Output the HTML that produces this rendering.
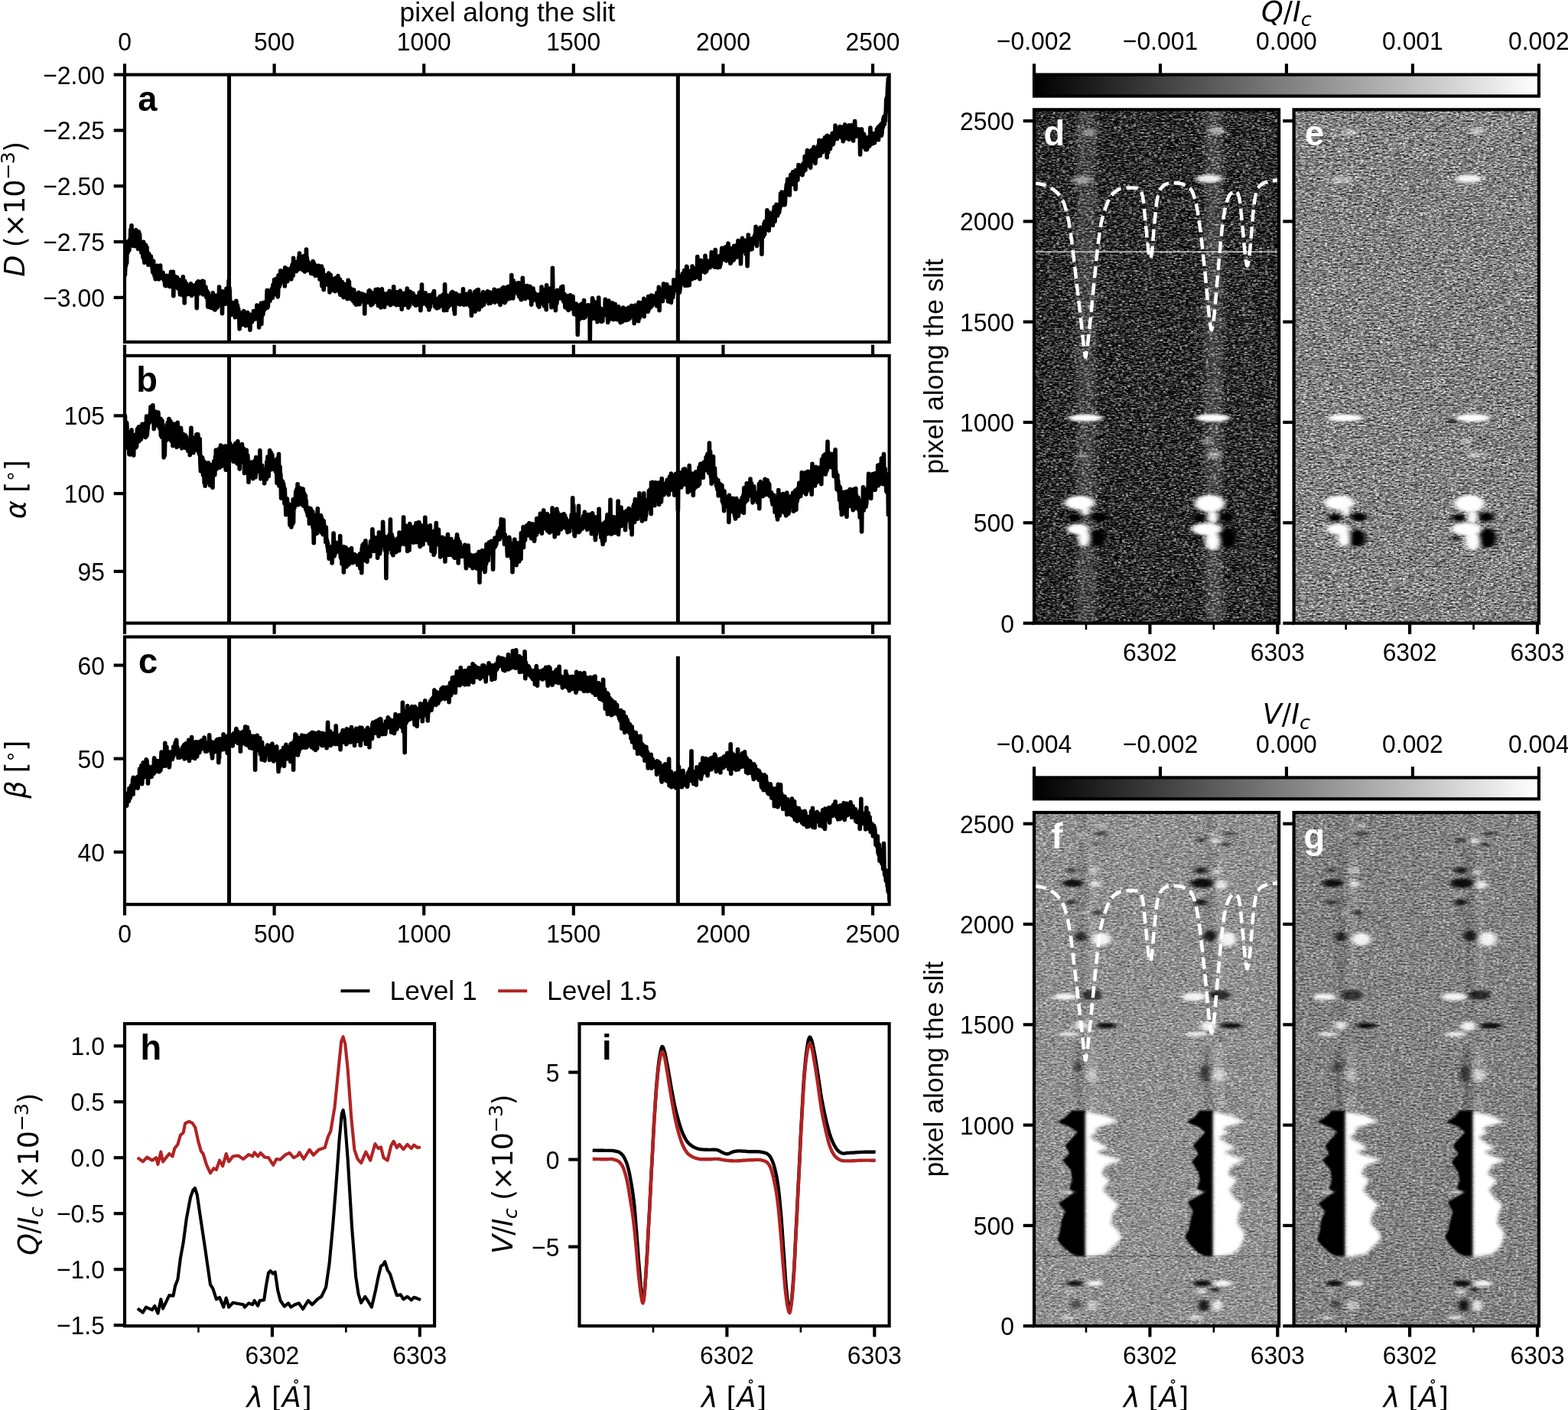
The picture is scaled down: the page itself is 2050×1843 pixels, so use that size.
<!DOCTYPE html>
<html lang="en"><head><meta charset="utf-8"><title>Figure</title>
<style>html,body{margin:0;padding:0;background:#fff}svg{display:block}</style></head>
<body>
<svg width="2050" height="1843" viewBox="0 0 2050 1843">
<rect width="2050" height="1843" fill="#fff"/>
<defs>
<linearGradient id="gg" x1="0" x2="1" y1="0" y2="0"><stop offset="0" stop-color="#000"/><stop offset="1" stop-color="#fff"/></linearGradient>
<filter id="nd" x="0" y="0" width="100%" height="100%" filterUnits="objectBoundingBox" color-interpolation-filters="sRGB"><feTurbulence type="fractalNoise" baseFrequency="0.4 0.45" numOctaves="2" seed="3"/><feMorphology operator="dilate" radius="1 0"/><feColorMatrix type="matrix" values="1.68 0 0 0 -0.722  1.68 0 0 0 -0.722  1.68 0 0 0 -0.722  0 0 0 0 1"/></filter>
<filter id="ne" x="0" y="0" width="100%" height="100%" filterUnits="objectBoundingBox" color-interpolation-filters="sRGB"><feTurbulence type="fractalNoise" baseFrequency="0.4 0.45" numOctaves="2" seed="11"/><feMorphology operator="dilate" radius="1 0"/><feColorMatrix type="matrix" values="1.523 0 0 0 -0.301  1.523 0 0 0 -0.301  1.523 0 0 0 -0.301  0 0 0 0 1"/></filter>
<filter id="nf" x="0" y="0" width="100%" height="100%" filterUnits="objectBoundingBox" color-interpolation-filters="sRGB"><feTurbulence type="fractalNoise" baseFrequency="0.4 0.45" numOctaves="2" seed="5"/><feMorphology operator="dilate" radius="1 0"/><feColorMatrix type="matrix" values="0.977 0 0 0 0.04  0.977 0 0 0 0.04  0.977 0 0 0 0.04  0 0 0 0 1"/></filter>
<filter id="ng" x="0" y="0" width="100%" height="100%" filterUnits="objectBoundingBox" color-interpolation-filters="sRGB"><feTurbulence type="fractalNoise" baseFrequency="0.4 0.45" numOctaves="2" seed="23"/><feMorphology operator="dilate" radius="1 0"/><feColorMatrix type="matrix" values="0.977 0 0 0 -0.015  0.977 0 0 0 -0.015  0.977 0 0 0 -0.015  0 0 0 0 1"/></filter>
<filter id="b1" x="-20%" y="-20%" width="140%" height="140%"><feGaussianBlur stdDeviation="1.2"/></filter>
<filter id="bb" x="-20%" y="-20%" width="140%" height="140%"><feGaussianBlur stdDeviation="3.2 1.8"/></filter>
<filter id="b2" x="-50%" y="-50%" width="200%" height="200%"><feGaussianBlur stdDeviation="2"/></filter>
<filter id="b3" x="-50%" y="-50%" width="200%" height="200%"><feGaussianBlur stdDeviation="3.5"/></filter>
<filter id="b6" x="-50%" y="-50%" width="200%" height="200%"><feGaussianBlur stdDeviation="6"/></filter>
</defs>
<clipPath id="cpa"><rect x="163.0" y="97.6" width="999.6400000000001" height="349.46000000000004"/></clipPath>
<g clip-path="url(#cpa)">
<path d="M163 346.1L163.4 359.1L163.8 349.4L164.2 344L164.6 347.5L165 339.6L165.3 336.6L165.7 343.5L166.1 316.4L166.5 324.6L166.9 330.7L167.3 326.5L167.7 320.7L168.1 323.5L168.5 321.9L168.9 327.2L169.3 313.9L169.7 314.8L170 312L170.4 320.7L170.8 300.4L171.2 307.7L171.6 309.2L172 294.9L172.4 307.4L172.8 316.2L173.2 310.4L173.6 321.1L174 301.8L174.3 310.7L174.7 312.7L175.1 302.6L175.5 319.1L175.9 306.8L176.3 321.7L176.7 314.1L177.1 317.4L177.5 302.3L177.9 300.7L178.3 313L178.6 307L179 313.3L179.4 309.3L179.8 317.4L180.2 323.6L180.6 325.4L181 313.3L181.4 303L181.8 314.8L182.2 320.1L182.6 306.2L183 317.1L183.3 318.2L183.7 318.2L184.1 321L184.5 322.7L184.9 330.2L185.3 319.6L185.7 323.6L186.1 316.8L186.5 326.5L186.9 336.2L187.3 325.8L187.6 316.2L188 328.9L188.4 339.2L188.8 343.2L189.2 334L189.6 329.7L190 335.2L190.4 320.2L190.8 333.3L191.2 329.6L191.6 322.7L192 323.1L192.3 335.6L192.7 331.3L193.1 330.1L193.5 336.4L193.9 346.1L194.3 332.1L194.7 331.8L195.1 335.3L195.5 343.8L195.9 340.6L196.3 344L196.6 343.4L197 335.3L197.4 335.2L197.8 341.6L198.2 343.6L198.6 344.6L199 349.9L199.4 351.5L199.8 356.1L200.2 354L200.6 341.4L200.9 349.9L201.3 356.4L201.7 357.9L202.1 360.9L202.5 354.1L202.9 354.1L203.3 364.8L203.7 353.9L204.1 360.3L204.5 348.9L204.9 356.6L205.3 347.2L205.6 360.8L206 359.8L206.4 356.2L206.8 351.8L207.2 354.6L207.6 365L208 357L208.4 357.2L208.8 359.3L209.2 360.8L209.6 347.1L209.9 360.2L210.3 363.2L210.7 354.8L211.1 358.2L211.5 360L211.9 355.7L212.3 357.4L212.7 359.3L213.1 356.3L213.5 360.5L213.9 365.7L214.2 364.7L214.6 365.6L215 361.6L215.4 369.3L215.8 373.2L216.2 362.2L216.6 370.2L217 373.8L217.4 360.6L217.8 367L218.2 360.3L218.6 366.7L218.9 370L219.3 370.6L219.7 367.1L220.1 365.6L220.5 369.3L220.9 365.9L221.3 373.2L221.7 364.2L222.1 374.7L222.5 365.8L222.9 360.7L223.2 358.7L223.6 355.2L224 374L224.4 360.5L224.8 357.9L225.2 359.2L225.6 371.4L226 363.9L226.4 355.3L226.8 386.8L227.2 364L227.6 360.6L227.9 371.2L228.3 363.6L228.7 373.2L229.1 371.7L229.5 371.8L229.9 365.9L230.3 367.6L230.7 362L231.1 373.1L231.5 368.7L231.9 362.7L232.2 365.4L232.6 376.9L233 366.2L233.4 373.4L233.8 369.3L234.2 370.4L234.6 365.8L235 372.9L235.4 385L235.8 382.8L236.2 371L236.5 376.9L236.9 368.8L237.3 373.4L237.7 379.5L238.1 368.8L238.5 379.5L238.9 385.8L239.3 361.8L239.7 384.2L240.1 369.5L240.5 368.1L240.9 372.8L241.2 396L241.6 367.3L242 381.6L242.4 380.9L242.8 375.8L243.2 370.1L243.6 373.8L244 371.7L244.4 379.6L244.8 378.5L245.2 384.6L245.5 380.3L245.9 375.5L246.3 381.6L246.7 377.4L247.1 383.3L247.5 384.3L247.9 380.7L248.3 382.1L248.7 377.5L249.1 380.3L249.5 370.7L249.9 381.9L250.2 381.8L250.6 386.5L251 380.2L251.4 376.3L251.8 385L252.2 381.3L252.6 376.7L253 381.2L253.4 383.4L253.8 373.9L254.2 378.3L254.5 377.5L254.9 372.5L255.3 372.5L255.7 383.4L256.1 381.7L256.5 376.3L256.9 378.2L257.3 402.7L257.7 369.4L258.1 376.4L258.5 371.9L258.8 382.9L259.2 367.9L259.6 378.8L260 375.6L260.4 383.8L260.8 376.4L261.2 376.1L261.6 375.7L262 371.9L262.4 373.8L262.8 368.3L263.2 377L263.5 380.4L263.9 374.5L264.3 370.8L264.7 367.3L265.1 369.8L265.5 384.9L265.9 372.6L266.3 367.8L266.7 377.1L267.1 381.2L267.5 377.5L267.8 383.6L268.2 378L268.6 382.5L269 375.1L269.4 381L269.8 388.7L270.2 381.3L270.6 380.1L271 389.6L271.4 389.3L271.8 401L272.2 382.9L272.5 392.1L272.9 401.3L273.3 400L273.7 391.9L274.1 386.9L274.5 392.4L274.9 389.9L275.3 399.8L275.7 402.2L276.1 390.4L276.5 393.5L276.8 396.7L277.2 389.4L277.6 402.2L278 399.2L278.4 382.8L278.8 385.7L279.2 396.3L279.6 386.5L280 404.1L280.4 393.8L280.8 396.7L281.1 405L281.5 394.1L281.9 389.7L282.3 395.6L282.7 395.4L283.1 386.2L283.5 401.3L283.9 402L284.3 397.2L284.7 400.5L285.1 385.8L285.5 391.7L285.8 398L286.2 395.7L286.6 375L287 394.6L287.4 394.7L287.8 387.9L288.2 385.7L288.6 387.8L289 394.4L289.4 395.1L289.8 384.8L290.1 388.6L290.5 409.7L290.9 380.9L291.3 382.9L291.7 388.9L292.1 388.9L292.5 387.1L292.9 392.8L293.3 397.1L293.7 387.3L294.1 397.2L294.4 386.4L294.8 397.3L295.2 389.3L295.6 388.6L296 377.4L296.4 393.7L296.8 394.8L297.2 390.7L297.6 393.8L298 391.2L298.4 385.8L298.8 384.4L299.1 367L299.5 394.7L299.9 376L300.3 381.3L300.7 395.4L301.1 408.4L301.5 396.2L301.9 396.1L302.3 411.5L302.7 398.6L303.1 400.5L303.4 404.9L303.8 397L304.2 395.5L304.6 404.3L305 400.5L305.4 405.6L305.8 406.2L306.2 401.3L306.6 398.7L307 405.1L307.4 414.8L307.8 398.8L308.1 411.8L308.5 402.1L308.9 393.3L309.3 404L309.7 411.8L310.1 413.9L310.5 399L310.9 406.9L311.3 405.1L311.7 403.5L312.1 410.6L312.4 413L312.8 416.9L313.2 429.9L313.6 421.5L314 413.5L314.4 414.8L314.8 411.4L315.2 414.3L315.6 411.4L316 409.1L316.4 419.1L316.7 416L317.1 424.3L317.5 409.3L317.9 415L318.3 412.6L318.7 406.6L319.1 409.4L319.5 416.3L319.9 411.3L320.3 424.2L320.7 413.3L321.1 414.9L321.4 425.8L321.8 408.6L322.2 420.6L322.6 412.7L323 419L323.4 410.6L323.8 408.6L324.2 421L324.6 425.2L325 417.1L325.4 411L325.7 417.9L326.1 419L326.5 412.4L326.9 431.1L327.3 418.2L327.7 421.7L328.1 411.2L328.5 416.8L328.9 418.7L329.3 414.2L329.7 420.6L330.1 412.1L330.4 415.7L330.8 414L331.2 415.7L331.6 406.5L332 412.8L332.4 409.4L332.8 409.8L333.2 417.2L333.6 409.3L334 410.9L334.4 410.7L334.7 414.8L335.1 415.2L335.5 407.7L335.9 399.1L336.3 416.6L336.7 408.4L337.1 414.2L337.5 407.5L337.9 409.7L338.3 405.5L338.7 427.9L339 414L339.4 415.6L339.8 409.8L340.2 412.8L340.6 412L341 404.2L341.4 396.2L341.8 423.3L342.2 408.4L342.6 404.2L343 405.3L343.4 406.8L343.7 411.5L344.1 408.3L344.5 398.3L344.9 395.6L345.3 400.4L345.7 405.3L346.1 399.1L346.5 400.2L346.9 394.7L347.3 396.5L347.7 400.4L348 395.7L348.4 402.7L348.8 390.8L349.2 379.5L349.6 402.1L350 392.4L350.4 400.2L350.8 379.8L351.2 387.7L351.6 393.9L352 386.3L352.4 393.2L352.7 393.7L353.1 392.6L353.5 389.7L353.9 389.4L354.3 385.5L354.7 388.9L355.1 380L355.5 377.4L355.9 385.3L356.3 389.3L356.7 375.7L357 372.1L357.4 379.8L357.8 384.4L358.2 374.2L358.6 365.6L359 384.9L359.4 370.5L359.8 374.5L360.2 377.1L360.6 369.3L361 379.5L361.3 370L361.7 364.1L362.1 370.4L362.5 376.2L362.9 381.2L363.3 387.9L363.7 380.8L364.1 359.8L364.5 369.6L364.9 373.7L365.3 374.6L365.7 372.5L366 366.8L366.4 371.3L366.8 353.7L367.2 368.1L367.6 368L368 360.9L368.4 354.2L368.8 354.9L369.2 365.2L369.6 358.7L370 360.4L370.3 358.3L370.7 359.7L371.1 366.5L371.5 367.4L371.9 358.1L372.3 374L372.7 349.9L373.1 357.1L373.5 362.8L373.9 358L374.3 359.2L374.7 357.7L375 351.2L375.4 365.4L375.8 367.8L376.2 355.1L376.6 358.5L377 356.2L377.4 354.9L377.8 359.7L378.2 352.7L378.6 362L379 356.2L379.3 360.8L379.7 361.7L380.1 350.8L380.5 350.3L380.9 364.9L381.3 359.7L381.7 348.9L382.1 345.8L382.5 356.2L382.9 353.1L383.3 359.9L383.6 337.3L384 349L384.4 346.5L384.8 342.9L385.2 346.5L385.6 348.3L386 353.4L386.4 347L386.8 350.5L387.2 343.5L387.6 354.6L388 353.1L388.3 345.5L388.7 342.1L389.1 347.8L389.5 352.7L389.9 348.5L390.3 350.5L390.7 336.3L391.1 342.5L391.5 331L391.9 346.2L392.3 351.1L392.6 341.3L393 338.6L393.4 345L393.8 347.9L394.2 341.8L394.6 350L395 343.3L395.4 351.7L395.8 353.1L396.2 343.8L396.6 344.8L396.9 334.8L397.3 346.8L397.7 344.3L398.1 350.7L398.5 355.1L398.9 354.7L399.3 341.6L399.7 351.4L400.1 338.1L400.5 326L400.9 346.9L401.3 336.4L401.6 343.8L402 340.5L402.4 348.9L402.8 342L403.2 353.4L403.6 344.7L404 351.4L404.4 349.7L404.8 345.1L405.2 348.1L405.6 349.5L405.9 345L406.3 344.6L406.7 357.5L407.1 346.6L407.5 346L407.9 354.4L408.3 347.7L408.7 357.7L409.1 341.5L409.5 351.5L409.9 351.1L410.3 343.5L410.6 352.8L411 347.6L411.4 357.6L411.8 354.9L412.2 360.4L412.6 353.6L413 347L413.4 352.2L413.8 348.9L414.2 360L414.6 359.6L414.9 357.7L415.3 352L415.7 353.4L416.1 355.8L416.5 347.4L416.9 357L417.3 356.3L417.7 349L418.1 365.2L418.5 356.6L418.9 348.9L419.2 358.1L419.6 355L420 363L420.4 348L420.8 373.7L421.2 367.2L421.6 367L422 351.8L422.4 359.5L422.8 363L423.2 378.8L423.6 359.5L423.9 360.7L424.3 365.1L424.7 369.5L425.1 367.5L425.5 360L425.9 359.7L426.3 361.1L426.7 362.4L427.1 371.9L427.5 361.4L427.9 368L428.2 361.7L428.6 359.4L429 366.6L429.4 368.6L429.8 357L430.2 361.2L430.6 367.7L431 382L431.4 365.1L431.8 361.4L432.2 359.2L432.6 370.6L432.9 370.9L433.3 370.5L433.7 363.8L434.1 375.6L434.5 370L434.9 375L435.3 368.3L435.7 379.5L436.1 368.7L436.5 373.6L436.9 372L437.2 367.5L437.6 364.1L438 380.6L438.4 365.1L438.8 368L439.2 372.9L439.6 363.1L440 370.6L440.4 364.5L440.8 376.1L441.2 377.7L441.5 365.8L441.9 360.6L442.3 369.3L442.7 368.1L443.1 376.2L443.5 381.4L443.9 375.2L444.3 365L444.7 384.8L445.1 377.2L445.5 385.5L445.9 374.3L446.2 370.5L446.6 383.2L447 378.7L447.4 368.5L447.8 377.2L448.2 384L448.6 384.5L449 388.6L449.4 372.6L449.8 387.6L450.2 371.3L450.5 371.9L450.9 380.8L451.3 379.9L451.7 372.1L452.1 375.7L452.5 375.1L452.9 386.4L453.3 371.8L453.7 382L454.1 390.6L454.5 381.7L454.9 375.9L455.2 366.3L455.6 381.2L456 387.3L456.4 368.4L456.8 381L457.2 384.7L457.6 390.2L458 390.5L458.4 377L458.8 388L459.2 390.1L459.5 390.2L459.9 378.4L460.3 391.3L460.7 384.6L461.1 386.5L461.5 386.7L461.9 393.5L462.3 384.4L462.7 378.9L463.1 388.4L463.5 394L463.8 396.4L464.2 388.1L464.6 390.9L465 389.9L465.4 389.2L465.8 398.3L466.2 385.5L466.6 388.6L467 390L467.4 387.7L467.8 383.8L468.2 389.1L468.5 394L468.9 382.4L469.3 391.5L469.7 393.2L470.1 397.7L470.5 389.1L470.9 395.6L471.3 392.7L471.7 387.3L472.1 390L472.5 383.7L472.8 388.1L473.2 392.4L473.6 392.2L474 392.6L474.4 385.5L474.8 389.1L475.2 392.1L475.6 384.8L476 389.4L476.4 392.3L476.8 409.9L477.1 386.5L477.5 387.6L477.9 388.5L478.3 391L478.7 392.8L479.1 389.3L479.5 386.3L479.9 387.8L480.3 387.6L480.7 389.6L481.1 384.6L481.5 384.6L481.8 395.3L482.2 380.2L482.6 379.9L483 379.6L483.4 385.4L483.8 386.4L484.2 392.2L484.6 381.3L485 398.9L485.4 389.3L485.8 389.4L486.1 382.8L486.5 388.5L486.9 394.5L487.3 397.4L487.7 393.8L488.1 389.1L488.5 389.5L488.9 391.2L489.3 393.5L489.7 390.5L490.1 382.9L490.5 394.5L490.8 387.8L491.2 378.5L491.6 384.3L492 389.8L492.4 383.9L492.8 392.5L493.2 388.5L493.6 379.9L494 378.1L494.4 399.5L494.8 385.8L495.1 379L495.5 393.6L495.9 389.1L496.3 381.8L496.7 393.6L497.1 388.2L497.5 390.9L497.9 401.9L498.3 386.1L498.7 392L499.1 384.9L499.4 377.8L499.8 385.7L500.2 392L500.6 386.9L501 388L501.4 383.2L501.8 397.1L502.2 395.8L502.6 401.4L503 386.3L503.4 389.6L503.8 393.2L504.1 394.1L504.5 393.6L504.9 396.2L505.3 393.1L505.7 394.5L506.1 383.7L506.5 390.1L506.9 396.6L507.3 395.1L507.7 384.6L508.1 388.4L508.4 389.1L508.8 386L509.2 380.3L509.6 395.7L510 393.1L510.4 398.8L510.8 385.7L511.2 390.6L511.6 392.1L512 392.5L512.4 384.2L512.8 389.1L513.1 391.8L513.5 381.8L513.9 395.6L514.3 397L514.7 374.8L515.1 391.9L515.5 393L515.9 393.9L516.3 391L516.7 385L517.1 385.3L517.4 386.6L517.8 391.5L518.2 398.7L518.6 389.1L519 381.8L519.4 384.9L519.8 391.9L520.2 386.5L520.6 393.5L521 391.5L521.4 398.5L521.7 393.2L522.1 390.4L522.5 392.3L522.9 386.2L523.3 380.1L523.7 382.9L524.1 392.3L524.5 394.9L524.9 394.4L525.3 404.2L525.7 391.3L526.1 389.1L526.4 390.8L526.8 390.5L527.2 391.3L527.6 393.3L528 397.3L528.4 383.2L528.8 387.3L529.2 398.5L529.6 398.5L530 396.3L530.4 392.6L530.7 385.4L531.1 386.6L531.5 386.3L531.9 385.6L532.3 377L532.7 387.7L533.1 389.6L533.5 393.2L533.9 402.2L534.3 392.6L534.7 380.9L535.1 394.5L535.4 399.8L535.8 385.8L536.2 391L536.6 394L537 381.8L537.4 387L537.8 386.2L538.2 393.4L538.6 387.4L539 388L539.4 385.7L539.7 383.6L540.1 383.5L540.5 389.5L540.9 386.6L541.3 397.3L541.7 387L542.1 386.8L542.5 393.4L542.9 396.1L543.3 392.3L543.7 399.3L544 390.7L544.4 391.2L544.8 398.6L545.2 392.9L545.6 387.4L546 387.5L546.4 388.2L546.8 395.2L547.2 396.4L547.6 397.1L548 392.3L548.4 382.4L548.7 387.7L549.1 386.4L549.5 388L549.9 405.7L550.3 397.1L550.7 397.9L551.1 387.8L551.5 372L551.9 397.8L552.3 393.3L552.7 390L553 395.6L553.4 396.3L553.8 396.2L554.2 386.7L554.6 396.3L555 384.4L555.4 390.2L555.8 387.4L556.2 382.7L556.6 395.7L557 396.7L557.3 389.6L557.7 398.7L558.1 397.6L558.5 394.1L558.9 392.7L559.3 400.4L559.7 395.6L560.1 389.9L560.5 385.8L560.9 405L561.3 385.9L561.7 388.2L562 399.9L562.4 401.5L562.8 390.5L563.2 395.3L563.6 392.4L564 388.3L564.4 395.1L564.8 391.6L565.2 390L565.6 387.8L566 383.4L566.3 383.8L566.7 392.3L567.1 395.1L567.5 380.5L567.9 391.2L568.3 392.3L568.7 400.6L569.1 389.8L569.5 399.2L569.9 397.4L570.3 402.3L570.7 397.5L571 394.2L571.4 402.9L571.8 399.4L572.2 394.1L572.6 400.6L573 400.4L573.4 398.3L573.8 401.9L574.2 389.4L574.6 398.6L575 388.3L575.3 387.5L575.7 399.9L576.1 392L576.5 394.5L576.9 398.4L577.3 393.7L577.7 393.2L578.1 387.9L578.5 385.8L578.9 398.1L579.3 394L579.6 388.6L580 384.9L580.4 405.8L580.8 384.1L581.2 392.6L581.6 371.8L582 394.7L582.4 397.1L582.8 392L583.2 385.4L583.6 391.5L584 405.4L584.3 387.5L584.7 400.6L585.1 396.8L585.5 397.6L585.9 401.4L586.3 397.7L586.7 395.9L587.1 393.7L587.5 391L587.9 392.8L588.3 398.9L588.6 391.5L589 384.8L589.4 385.4L589.8 390.3L590.2 382.9L590.6 385.9L591 383.3L591.4 381.5L591.8 393.6L592.2 393.5L592.6 383.5L593 382.9L593.3 383L593.7 405.4L594.1 392.8L594.5 410.1L594.9 387.5L595.3 391.7L595.7 391.5L596.1 392.5L596.5 383.9L596.9 393.4L597.3 385.6L597.6 388.4L598 389.5L598.4 388.4L598.8 389.4L599.2 397.1L599.6 387L600 386.8L600.4 392.1L600.8 386.7L601.2 385.9L601.6 398L601.9 391.2L602.3 393.4L602.7 396.1L603.1 389.1L603.5 395.8L603.9 393.5L604.3 389.4L604.7 389L605.1 389L605.5 377.9L605.9 393.9L606.3 389.6L606.6 398.4L607 388.8L607.4 384.9L607.8 385L608.2 396L608.6 393.8L609 384.8L609.4 392.5L609.8 386.7L610.2 397.9L610.6 384.2L610.9 385.8L611.3 388.6L611.7 395.6L612.1 391.7L612.5 389.3L612.9 388.4L613.3 391.1L613.7 390.8L614.1 388.2L614.5 380.7L614.9 400.7L615.3 397.3L615.6 398.5L616 393.4L616.4 412.5L616.8 385.6L617.2 388L617.6 390.5L618 393.3L618.4 388.4L618.8 387.8L619.2 386.7L619.6 392.6L619.9 384.5L620.3 397.1L620.7 381.6L621.1 407.1L621.5 392.6L621.9 396.2L622.3 384.4L622.7 398.1L623.1 379.6L623.5 399.8L623.9 379.3L624.2 388.5L624.6 390.8L625 388.5L625.4 378.6L625.8 386.1L626.2 404.6L626.6 384.6L627 390.4L627.4 401L627.8 387.5L628.2 399.2L628.6 390.9L628.9 390.7L629.3 400.6L629.7 387.3L630.1 397.4L630.5 390.9L630.9 395.4L631.3 393.8L631.7 381.9L632.1 391.8L632.5 398.4L632.9 392.1L633.2 395.9L633.6 390.6L634 389.6L634.4 389.4L634.8 388.9L635.2 393L635.6 383.2L636 383L636.4 392.4L636.8 388.4L637.2 387.4L637.5 380.7L637.9 381.7L638.3 392.3L638.7 387.6L639.1 396.7L639.5 393.5L639.9 387.8L640.3 384.1L640.7 382.1L641.1 389.7L641.5 396.1L641.9 385.3L642.2 389.1L642.6 386L643 387.8L643.4 384.3L643.8 384.7L644.2 383.6L644.6 391.1L645 382.6L645.4 392L645.8 388.7L646.2 378.2L646.5 386.5L646.9 395.1L647.3 379.8L647.7 382.2L648.1 381.5L648.5 387.7L648.9 386.8L649.3 389.9L649.7 393.3L650.1 381.2L650.5 392.3L650.9 392.7L651.2 392.8L651.6 379.4L652 384.8L652.4 394.8L652.8 390.1L653.2 386.5L653.6 384.7L654 398.5L654.4 383.7L654.8 389.7L655.2 392.2L655.5 393.2L655.9 383.3L656.3 377.2L656.7 386.4L657.1 384.2L657.5 392.1L657.9 384.1L658.3 375.5L658.7 394.8L659.1 388.5L659.5 380.9L659.8 395.7L660.2 387.3L660.6 381.2L661 394L661.4 386.5L661.8 383.5L662.2 378.5L662.6 390.7L663 376.3L663.4 380.8L663.8 374.8L664.2 374.9L664.5 379.1L664.9 377.9L665.3 390.6L665.7 388.2L666.1 385.3L666.5 381.8L666.9 373.9L667.3 389.9L667.7 381.6L668.1 386.9L668.5 387.9L668.8 359.5L669.2 378.8L669.6 369.9L670 372.2L670.4 384.8L670.8 389.9L671.2 366.9L671.6 380.7L672 384.4L672.4 372.7L672.8 375.8L673.2 379.5L673.5 377.8L673.9 374.7L674.3 374.2L674.7 370.7L675.1 377.2L675.5 376.6L675.9 371.3L676.3 373.4L676.7 370.1L677.1 378.2L677.5 377.9L677.8 384.8L678.2 369.9L678.6 387.4L679 378.9L679.4 385.5L679.8 378.4L680.2 376.1L680.6 390.1L681 382.2L681.4 391.7L681.8 373.1L682.1 384.2L682.5 390.5L682.9 385.5L683.3 363.4L683.7 373.1L684.1 375L684.5 387L684.9 383.8L685.3 373.6L685.7 387.7L686.1 385.1L686.5 389.2L686.8 390.5L687.2 377L687.6 379.7L688 380.5L688.4 379.6L688.8 376.7L689.2 373.6L689.6 382.1L690 384.2L690.4 387.7L690.8 374.7L691.1 384L691.5 389.1L691.9 381.6L692.3 379.6L692.7 375.4L693.1 374.5L693.5 390.3L693.9 385.1L694.3 383.3L694.7 398.2L695.1 383.3L695.5 380.7L695.8 383.6L696.2 393.3L696.6 391.2L697 377L697.4 390.9L697.8 380.8L698.2 382.2L698.6 387.5L699 391.1L699.4 383.6L699.8 389.7L700.1 385.6L700.5 384.4L700.9 389.2L701.3 386.6L701.7 387.7L702.1 393.8L702.5 388.5L702.9 391.9L703.3 398.8L703.7 390.9L704.1 390.8L704.4 392.8L704.8 401.1L705.2 384.7L705.6 385.6L706 385.6L706.4 387.4L706.8 396.4L707.2 388L707.6 393.6L708 375L708.4 390.7L708.8 383.6L709.1 396.8L709.5 394.9L709.9 391.6L710.3 384.8L710.7 381.9L711.1 387.5L711.5 400L711.9 382.8L712.3 394.5L712.7 379.9L713.1 378.1L713.4 383.7L713.8 382.4L714.2 404.8L714.6 372.8L715 386.1L715.4 381.4L715.8 392L716.2 387.3L716.6 393.6L717 387.7L717.4 386.2L717.7 385.2L718.1 378.8L718.5 384.3L718.9 384.4L719.3 387.4L719.7 376.9L720.1 392.6L720.5 382.8L720.9 401.7L721.3 395.4L721.7 388.2L722.1 391.3L722.4 350.3L722.8 375.2L723.2 399.3L723.6 396.9L724 391.7L724.4 380.6L724.8 384.1L725.2 388.8L725.6 398.7L726 395.1L726.4 405.6L726.7 398.5L727.1 386.9L727.5 384.7L727.9 396.8L728.3 388.3L728.7 379.3L729.1 387.5L729.5 390.2L729.9 384.4L730.3 384.4L730.7 386.8L731.1 389.9L731.4 389L731.8 385.7L732.2 389.7L732.6 379.3L733 381.7L733.4 380.7L733.8 375.3L734.2 378.3L734.6 379.2L735 385.5L735.4 389L735.7 374.4L736.1 392.3L736.5 391.9L736.9 394.2L737.3 388.3L737.7 387.8L738.1 384.6L738.5 394.4L738.9 401.7L739.3 390.1L739.7 387L740 393.8L740.4 395.3L740.8 391.2L741.2 386.7L741.6 395.4L742 403.5L742.4 398.5L742.8 396L743.2 405.5L743.6 390.1L744 399.1L744.4 391.7L744.7 393.7L745.1 396.6L745.5 385.8L745.9 399L746.3 399.7L746.7 391.7L747.1 391.4L747.5 397L747.9 403.5L748.3 394.4L748.7 395.6L749 387.5L749.4 401.5L749.8 399.9L750.2 404.6L750.6 410.5L751 401.8L751.4 397.9L751.8 409.5L752.2 408.2L752.6 411.2L753 397L753.4 409L753.7 397.6L754.1 410.4L754.5 405.3L754.9 409.7L755.3 437.4L755.7 406.1L756.1 399.2L756.5 418.3L756.9 407.4L757.3 408.7L757.7 412.3L758 406.9L758.4 416.3L758.8 403.7L759.2 398.4L759.6 412.5L760 405.6L760.4 397.2L760.8 405L761.2 408.6L761.6 411.3L762 405.3L762.3 407.2L762.7 403.1L763.1 415.7L763.5 392.6L763.9 409.5L764.3 403.7L764.7 411.4L765.1 414.6L765.5 409.7L765.9 412L766.3 408.8L766.7 402.7L767 399.7L767.4 404.6L767.8 408.9L768.2 408L768.6 402L769 398.9L769.4 407.2L769.8 406.2L770.2 409.5L770.6 403.5L771 399.3L771.3 444.3L771.7 403.5L772.1 408.1L772.5 417.8L772.9 399.4L773.3 403.8L773.7 400.8L774.1 410.6L774.5 389.8L774.9 401.4L775.3 403.8L775.7 392.9L776 398.6L776.4 397.8L776.8 396.6L777.2 416.1L777.6 394.7L778 407.3L778.4 404.6L778.8 395.2L779.2 412.7L779.6 407.4L780 405.5L780.3 411.2L780.7 408.5L781.1 420.8L781.5 418.4L781.9 418L782.3 408.7L782.7 389L783.1 409.3L783.5 411.3L783.9 410.6L784.3 404.1L784.6 405.1L785 415.8L785.4 403L785.8 409.2L786.2 404.5L786.6 420.4L787 417.6L787.4 405.1L787.8 419.6L788.2 406.8L788.6 406.9L789 407.9L789.3 406.3L789.7 406.1L790.1 405.4L790.5 410.2L790.9 408.2L791.3 391.2L791.7 401.5L792.1 404.2L792.5 405.6L792.9 412.2L793.3 406.4L793.6 409.3L794 402.5L794.4 412.9L794.8 421.4L795.2 410.5L795.6 403.4L796 393L796.4 401.4L796.8 412.7L797.2 408.4L797.6 412.7L798 408.1L798.3 412.4L798.7 416.9L799.1 405L799.5 406.5L799.9 409.1L800.3 405.9L800.7 396.1L801.1 407.7L801.5 410.2L801.9 403.3L802.3 417.6L802.6 403.6L803 412.5L803.4 412.4L803.8 406.9L804.2 397.6L804.6 412L805 402.4L805.4 405.9L805.8 416.2L806.2 403.2L806.6 413.8L806.9 417.8L807.3 413.7L807.7 413.3L808.1 406L808.5 413.8L808.9 400.8L809.3 408.1L809.7 413.6L810.1 414.4L810.5 408.1L810.9 421L811.3 421.5L811.6 413.5L812 404.8L812.4 407.2L812.8 408.2L813.2 409.2L813.6 420.4L814 409.2L814.4 417.6L814.8 402L815.2 407.3L815.6 407.7L815.9 405.5L816.3 406.4L816.7 407.4L817.1 407.5L817.5 413.5L817.9 418.7L818.3 409.9L818.7 403.9L819.1 407.1L819.5 414.4L819.9 410.1L820.2 416.7L820.6 412.6L821 418.1L821.4 412.7L821.8 402L822.2 409.1L822.6 403.9L823 416.6L823.4 415L823.8 410.6L824.2 406.6L824.6 410L824.9 402.3L825.3 410.9L825.7 399.5L826.1 401.7L826.5 413.5L826.9 403.3L827.3 408L827.7 400.6L828.1 410L828.5 405.1L828.9 403.4L829.2 422.6L829.6 417.2L830 405.5L830.4 406.4L830.8 399.1L831.2 403.6L831.6 412.1L832 402.8L832.4 409.2L832.8 406.1L833.2 408.3L833.6 403.8L833.9 414.2L834.3 413.2L834.7 419.7L835.1 395.2L835.5 413.9L835.9 413.7L836.3 415.6L836.7 412.7L837.1 411.4L837.5 404.9L837.9 406L838.2 404.2L838.6 408.3L839 403.8L839.4 395.6L839.8 401.8L840.2 398.7L840.6 411.4L841 395.8L841.4 396.8L841.8 390.4L842.2 413.7L842.5 397L842.9 397.7L843.3 396.8L843.7 401.1L844.1 396.1L844.5 393.5L844.9 396.8L845.3 398.9L845.7 398.2L846.1 399.1L846.5 395.7L846.9 405.9L847.2 407.5L847.6 387.5L848 405.1L848.4 394.6L848.8 401.6L849.2 395.8L849.6 399.8L850 394L850.4 398.9L850.8 401.8L851.2 392.7L851.5 386.1L851.9 391.9L852.3 393.1L852.7 399.6L853.1 394.2L853.5 390.3L853.9 396.2L854.3 386.9L854.7 392.1L855.1 389.5L855.5 394L855.9 393.7L856.2 389.3L856.6 388.3L857 388.3L857.4 395.9L857.8 393.8L858.2 389.8L858.6 399.9L859 382.6L859.4 386.2L859.8 387.4L860.2 391.7L860.5 382.7L860.9 388.5L861.3 375.4L861.7 383.6L862.1 405.6L862.5 381.1L862.9 387.9L863.3 387.5L863.7 385.6L864.1 384.9L864.5 382.6L864.8 379.5L865.2 381L865.6 387.5L866 391L866.4 393.8L866.8 380L867.2 376.4L867.6 370.8L868 388.7L868.4 380.3L868.8 382.3L869.2 383.2L869.5 380.2L869.9 382.3L870.3 382.3L870.7 384.7L871.1 378.5L871.5 374.6L871.9 371.8L872.3 384.8L872.7 388.5L873.1 383.7L873.5 393.9L873.8 377.1L874.2 388.2L874.6 383.5L875 391.8L875.4 386L875.8 383.1L876.2 375.5L876.6 388.2L877 381.9L877.4 395.5L877.8 390.3L878.2 387.1L878.5 384.4L878.9 378.1L879.3 376.2L879.7 388.7L880.1 375.8L880.5 384L880.9 365.9L881.3 374.2L881.7 375L882.1 376.3L882.5 375.3L882.8 375L883.2 379L883.6 370.6L884 373.3L884.4 370.1L884.8 375.1L885.2 370.8L885.6 379.5L886 354.1L886.4 379.2L886.8 381.3L887.1 368.9L887.5 367.2L887.9 378.4L888.3 382.5L888.7 380.3L889.1 376.9L889.5 374.7L889.9 370.5L890.3 362.7L890.7 361.4L891.1 371.2L891.5 364.1L891.8 361.3L892.2 357.9L892.6 366.7L893 370.2L893.4 360.9L893.8 356.5L894.2 367.9L894.6 353.5L895 354.7L895.4 365.9L895.8 373.4L896.1 367.5L896.5 365.5L896.9 359.8L897.3 372.7L897.7 348.2L898.1 348.7L898.5 366.7L898.9 373.1L899.3 363.5L899.7 359.4L900.1 354.3L900.4 357.7L900.8 363.1L901.2 372.6L901.6 354.6L902 356L902.4 362.3L902.8 358.5L903.2 358.5L903.6 360.5L904 365L904.4 355.2L904.8 364.8L905.1 348L905.5 361L905.9 352.4L906.3 359.4L906.7 352.6L907.1 355.5L907.5 351L907.9 358.7L908.3 363.4L908.7 355L909.1 355.2L909.4 361.8L909.8 356.9L910.2 362.5L910.6 351.9L911 354.7L911.4 351.5L911.8 335.6L912.2 349.4L912.6 347.5L913 345.5L913.4 349.5L913.8 352L914.1 342.9L914.5 341.7L914.9 364.7L915.3 348.8L915.7 349.5L916.1 350.8L916.5 340.3L916.9 350.7L917.3 342.6L917.7 351.1L918.1 350.5L918.4 344.2L918.8 352.9L919.2 349.5L919.6 355L920 354L920.4 344.6L920.8 345.6L921.2 355.7L921.6 356.1L922 334.4L922.4 353.6L922.7 355.2L923.1 347.1L923.5 354.8L923.9 352L924.3 344.5L924.7 343.8L925.1 350.8L925.5 341L925.9 349.5L926.3 349.9L926.7 347.8L927.1 349.3L927.4 343.5L927.8 344.2L928.2 349.8L928.6 343.6L929 347L929.4 346.6L929.8 343.8L930.2 329.7L930.6 341.4L931 335.2L931.4 333.5L931.7 342.5L932.1 346.2L932.5 347.3L932.9 340.4L933.3 337L933.7 332.4L934.1 348.9L934.5 335.7L934.9 334.4L935.3 326.5L935.7 339.6L936.1 341.2L936.4 349.1L936.8 345.1L937.2 346.8L937.6 346.5L938 345.6L938.4 349.6L938.8 341.1L939.2 338.7L939.6 336.6L940 341.5L940.4 334.9L940.7 334.7L941.1 349.2L941.5 341.2L941.9 346L942.3 343.5L942.7 336.2L943.1 337.4L943.5 327.6L943.9 324.2L944.3 333.3L944.7 336.9L945 336.1L945.4 335.4L945.8 331.5L946.2 339.2L946.6 331.3L947 335.7L947.4 327.8L947.8 325.4L948.2 323L948.6 334.7L949 339.4L949.4 340.8L949.7 331.8L950.1 337.5L950.5 338.4L950.9 330.9L951.3 334.5L951.7 320L952.1 318.2L952.5 330.9L952.9 328.6L953.3 340.2L953.7 330.6L954 336.6L954.4 339.4L954.8 344.2L955.2 324.8L955.6 343.7L956 341.2L956.4 334.4L956.8 332.5L957.2 332.2L957.6 332.8L958 338.2L958.4 328L958.7 330.4L959.1 340L959.5 321.5L959.9 332L960.3 323.6L960.7 337.2L961.1 335.2L961.5 330.9L961.9 331L962.3 320.8L962.7 336.1L963 325.7L963.4 332.3L963.8 323.5L964.2 325.7L964.6 330.5L965 314.6L965.4 328.1L965.8 321.5L966.2 336L966.6 329.4L967 328.3L967.3 327.2L967.7 329.7L968.1 332.2L968.5 344.8L968.9 329.3L969.3 330.8L969.7 326.3L970.1 320.1L970.5 311.4L970.9 321L971.3 317.6L971.7 320.1L972 319.9L972.4 320.6L972.8 325.8L973.2 326.3L973.6 322.8L974 314.4L974.4 320.4L974.8 315.4L975.2 332.2L975.6 321.2L976 322L976.3 320.6L976.7 330.9L977.1 347.7L977.5 334.6L977.9 324.1L978.3 307.1L978.7 318L979.1 325.6L979.5 316.1L979.9 319.8L980.3 316.8L980.6 320.8L981 326.2L981.4 322L981.8 315.2L982.2 317.7L982.6 312.4L983 325.7L983.4 313.3L983.8 319.1L984.2 318L984.6 311.1L985 318.6L985.3 316.2L985.7 313.9L986.1 312.6L986.5 310.6L986.9 306.7L987.3 309.7L987.7 313.9L988.1 296.3L988.5 309.8L988.9 307.2L989.3 313.2L989.6 321.4L990 312.3L990.4 306.8L990.8 303.8L991.2 306.7L991.6 301.5L992 299.9L992.4 299.4L992.8 305.4L993.2 305.1L993.6 306.9L994 310.7L994.3 297.3L994.7 312.5L995.1 305.7L995.5 303L995.9 332.3L996.3 298.7L996.7 304.9L997.1 300.8L997.5 303.3L997.9 309.5L998.3 298.9L998.6 298.4L999 292.1L999.4 294.3L999.8 306.2L1000.2 289.4L1000.6 290.7L1001 290.2L1001.4 291.3L1001.8 297.4L1002.2 290.1L1002.6 294.2L1002.9 274.7L1003.3 291.8L1003.7 296.2L1004.1 290.9L1004.5 280L1004.9 290.8L1005.3 301.2L1005.7 277.9L1006.1 284.1L1006.5 288.4L1006.9 281.1L1007.3 290.3L1007.6 291.7L1008 278.9L1008.4 287.2L1008.8 280.7L1009.2 283.5L1009.6 278.5L1010 282.5L1010.4 294.4L1010.8 278.2L1011.2 283.9L1011.6 275.3L1011.9 279.1L1012.3 270.6L1012.7 279.9L1013.1 289.4L1013.5 279.2L1013.9 274.2L1014.3 278.8L1014.7 278.8L1015.1 267.3L1015.5 276.3L1015.9 269.1L1016.3 273.5L1016.6 282L1017 278.4L1017.4 275.9L1017.8 269.6L1018.2 275.4L1018.6 278L1019 274.8L1019.4 270.7L1019.8 271.6L1020.2 268.4L1020.6 253L1020.9 261.4L1021.3 267.2L1021.7 261.4L1022.1 251.1L1022.5 255.8L1022.9 259.7L1023.3 266.3L1023.7 267.6L1024.1 259.3L1024.5 257.4L1024.9 265.7L1025.2 263.5L1025.6 255.7L1026 267.8L1026.4 264.5L1026.8 254L1027.2 249.3L1027.6 249.9L1028 245.3L1028.4 241.1L1028.8 244.1L1029.2 249.7L1029.6 234.4L1029.9 236L1030.3 239.5L1030.7 248.4L1031.1 240.6L1031.5 254.6L1031.9 243.4L1032.3 254.9L1032.7 242L1033.1 232.8L1033.5 238L1033.9 228.3L1034.2 237L1034.6 235.6L1035 237.6L1035.4 232.7L1035.8 235.6L1036.2 228L1036.6 224.9L1037 232L1037.4 240.8L1037.8 230.5L1038.2 225.4L1038.6 229.3L1038.9 231.2L1039.3 227.5L1039.7 224.8L1040.1 247.1L1040.5 222.5L1040.9 226.3L1041.3 227.2L1041.7 232.3L1042.1 226.8L1042.5 223.9L1042.9 235.3L1043.2 222L1043.6 224.9L1044 215.6L1044.4 219.6L1044.8 223.8L1045.2 221.7L1045.6 217.7L1046 219.9L1046.4 216.9L1046.8 223.9L1047.2 226.4L1047.5 222.6L1047.9 227.9L1048.3 224.1L1048.7 217.5L1049.1 228.8L1049.5 226.4L1049.9 214.1L1050.3 221.3L1050.7 217.6L1051.1 223.8L1051.5 221.8L1051.9 216.9L1052.2 204.5L1052.6 210.4L1053 221.9L1053.4 208.7L1053.8 205.1L1054.2 205.7L1054.6 216.2L1055 209.5L1055.4 196.6L1055.8 214.5L1056.2 207.1L1056.5 213.6L1056.9 216.5L1057.3 211.7L1057.7 202.9L1058.1 202.3L1058.5 213.3L1058.9 210.7L1059.3 212.7L1059.7 219.2L1060.1 202.9L1060.5 196.9L1060.8 196.5L1061.2 210.6L1061.6 196.5L1062 197.8L1062.4 205.7L1062.8 203.4L1063.2 205.4L1063.6 201.5L1064 192.3L1064.4 208.2L1064.8 209.6L1065.2 197.7L1065.5 202.1L1065.9 213.4L1066.3 208.5L1066.7 207.1L1067.1 205.8L1067.5 200.3L1067.9 196.2L1068.3 202.2L1068.7 199.9L1069.1 204.2L1069.5 193.1L1069.8 190.4L1070.2 199L1070.6 200.4L1071 183.3L1071.4 189.1L1071.8 199.2L1072.2 203.5L1072.6 195.1L1073 185.5L1073.4 195.5L1073.8 193.3L1074.2 194.5L1074.5 187.9L1074.9 183.5L1075.3 199L1075.7 192.7L1076.1 191.8L1076.5 193.9L1076.9 197L1077.3 185.2L1077.7 188.3L1078.1 184.7L1078.5 179.6L1078.8 190L1079.2 184.2L1079.6 189.5L1080 187.2L1080.4 184.4L1080.8 187.1L1081.2 205.6L1081.6 177.3L1082 184.8L1082.4 192.8L1082.8 199L1083.1 185.7L1083.5 181.5L1083.9 179.3L1084.3 178.8L1084.7 187.4L1085.1 181.5L1085.5 194.5L1085.9 184.9L1086.3 180.4L1086.7 189L1087.1 185.9L1087.5 183.7L1087.8 182.9L1088.2 174.2L1088.6 188.9L1089 174.2L1089.4 188.3L1089.8 184.3L1090.2 184.1L1090.6 179.3L1091 181.3L1091.4 174.9L1091.8 177.4L1092.1 164.1L1092.5 170.4L1092.9 177.5L1093.3 170.2L1093.7 172.2L1094.1 176.7L1094.5 181.5L1094.9 180.1L1095.3 174.1L1095.7 170.3L1096.1 172.3L1096.5 175.6L1096.8 171.6L1097.2 177.2L1097.6 172.4L1098 165.5L1098.4 167.1L1098.8 165.7L1099.2 176L1099.6 172.3L1100 179.4L1100.4 168.1L1100.8 175.2L1101.1 180.4L1101.5 174.9L1101.9 170.2L1102.3 184.6L1102.7 180.1L1103.1 165.9L1103.5 171.3L1103.9 172.6L1104.3 181.4L1104.7 162.9L1105.1 165.8L1105.4 167.1L1105.8 177.5L1106.2 167.8L1106.6 164.4L1107 173.3L1107.4 173.1L1107.8 174.4L1108.2 168.2L1108.6 172.9L1109 173.4L1109.4 180.5L1109.8 182.2L1110.1 167.2L1110.5 163.9L1110.9 168.3L1111.3 165.3L1111.7 177.2L1112.1 174.9L1112.5 172.1L1112.9 174.9L1113.3 163.8L1113.7 181L1114.1 176.9L1114.4 175.4L1114.8 182.1L1115.2 168.1L1115.6 183.9L1116 165.4L1116.4 166.9L1116.8 170.2L1117.2 163.7L1117.6 158.2L1118 171L1118.4 167.6L1118.8 169.8L1119.1 169.5L1119.5 176.4L1119.9 178L1120.3 170.1L1120.7 177L1121.1 168.9L1121.5 170.1L1121.9 177.5L1122.3 173.3L1122.7 174.5L1123.1 176L1123.4 169L1123.8 176.1L1124.2 175.1L1124.6 201.9L1125 174.1L1125.4 186.6L1125.8 180.6L1126.2 169.4L1126.6 168.9L1127 182.7L1127.4 188L1127.7 179.4L1128.1 184.6L1128.5 180.9L1128.9 191L1129.3 177.3L1129.7 175.2L1130.1 192.7L1130.5 188.6L1130.9 188.2L1131.3 179.9L1131.7 195.5L1132.1 183L1132.4 185.9L1132.8 189.4L1133.2 180.8L1133.6 195.5L1134 192.1L1134.4 188.7L1134.8 179.5L1135.2 185.8L1135.6 188.9L1136 181.2L1136.4 186.3L1136.7 191L1137.1 184.7L1137.5 181.2L1137.9 167.1L1138.3 188.9L1138.7 180.9L1139.1 183.4L1139.5 184L1139.9 174.1L1140.3 179.1L1140.7 179.4L1141.1 185.4L1141.4 187.5L1141.8 180.4L1142.2 183.2L1142.6 184.1L1143 176.3L1143.4 186.8L1143.8 183.6L1144.2 174.2L1144.6 178.7L1145 173.8L1145.4 182.3L1145.7 173.1L1146.1 181.5L1146.5 168.9L1146.9 172.1L1147.3 173.9L1147.7 167.1L1148.1 173.7L1148.5 182.7L1148.9 165.6L1149.3 171.9L1149.7 166L1150 171.1L1150.4 164.2L1150.8 174.6L1151.2 176L1151.6 175.8L1152 162.4L1152.4 177.3L1152.8 175.2L1153.2 172.6L1153.6 162L1154 159.8L1154.4 166.4L1154.7 156.3L1155.1 158.4L1155.5 152.7L1155.9 153.7L1156.3 162.6L1156.7 156.9L1157.1 158.3L1157.5 151.3L1157.9 148.3L1158.3 144.8L1158.7 129.8L1159 134.1L1159.4 127.6L1159.8 127.3L1160.2 124.5L1160.6 113.6L1161 109.1L1161.4 102.9L1161.8 103.8L1162.2 105.9L1162.6 101L1163 98.5L1163.3 107L1163.7 100.7L1164.1 82.6" fill="none" stroke="#000" stroke-width="5.6" stroke-linejoin="round"/>
<line x1="299.54" y1="97.60" x2="299.54" y2="447.06" stroke="#000" stroke-width="5.0"/>
<line x1="886.37" y1="97.60" x2="886.37" y2="447.06" stroke="#000" stroke-width="5.0"/>
</g>
<rect x="163.00" y="97.60" width="999.64" height="349.46" fill="none" stroke="#000" stroke-width="4.17"/>
<line x1="163.00" y1="83.30" x2="163.00" y2="97.60" stroke="#000" stroke-width="4.17"/>
<text font-family='"Liberation Sans", sans-serif' font-size="33.4" text-anchor="middle" fill="#000" transform="translate(163.00 65.60) scale(0.955 1)">0</text>
<line x1="358.61" y1="83.30" x2="358.61" y2="97.60" stroke="#000" stroke-width="4.17"/>
<text font-family='"Liberation Sans", sans-serif' font-size="33.4" text-anchor="middle" fill="#000" transform="translate(358.61 65.60) scale(0.955 1)">500</text>
<line x1="554.22" y1="83.30" x2="554.22" y2="97.60" stroke="#000" stroke-width="4.17"/>
<text font-family='"Liberation Sans", sans-serif' font-size="33.4" text-anchor="middle" fill="#000" transform="translate(554.22 65.60) scale(0.955 1)">1000</text>
<line x1="749.83" y1="83.30" x2="749.83" y2="97.60" stroke="#000" stroke-width="4.17"/>
<text font-family='"Liberation Sans", sans-serif' font-size="33.4" text-anchor="middle" fill="#000" transform="translate(749.83 65.60) scale(0.955 1)">1500</text>
<line x1="945.44" y1="83.30" x2="945.44" y2="97.60" stroke="#000" stroke-width="4.17"/>
<text font-family='"Liberation Sans", sans-serif' font-size="33.4" text-anchor="middle" fill="#000" transform="translate(945.44 65.60) scale(0.955 1)">2000</text>
<line x1="1141.05" y1="83.30" x2="1141.05" y2="97.60" stroke="#000" stroke-width="4.17"/>
<text font-family='"Liberation Sans", sans-serif' font-size="33.4" text-anchor="middle" fill="#000" transform="translate(1141.05 65.60) scale(0.955 1)">2500</text>
<line x1="148.70" y1="97.60" x2="163.00" y2="97.60" stroke="#000" stroke-width="4.17"/>
<text font-family='"Liberation Sans", sans-serif' font-size="33.4" text-anchor="end" fill="#000" transform="translate(136.90 109.60) scale(0.955 1)">−2.00</text>
<line x1="148.70" y1="170.42" x2="163.00" y2="170.42" stroke="#000" stroke-width="4.17"/>
<text font-family='"Liberation Sans", sans-serif' font-size="33.4" text-anchor="end" fill="#000" transform="translate(136.90 182.42) scale(0.955 1)">−2.25</text>
<line x1="148.70" y1="243.24" x2="163.00" y2="243.24" stroke="#000" stroke-width="4.17"/>
<text font-family='"Liberation Sans", sans-serif' font-size="33.4" text-anchor="end" fill="#000" transform="translate(136.90 255.24) scale(0.955 1)">−2.50</text>
<line x1="148.70" y1="316.06" x2="163.00" y2="316.06" stroke="#000" stroke-width="4.17"/>
<text font-family='"Liberation Sans", sans-serif' font-size="33.4" text-anchor="end" fill="#000" transform="translate(136.90 328.06) scale(0.955 1)">−2.75</text>
<line x1="148.70" y1="388.88" x2="163.00" y2="388.88" stroke="#000" stroke-width="4.17"/>
<text font-family='"Liberation Sans", sans-serif' font-size="33.4" text-anchor="end" fill="#000" transform="translate(136.90 400.88) scale(0.955 1)">−3.00</text>
<text font-family='"Liberation Sans", sans-serif' font-size="45.3" text-anchor="start" fill="#000" font-weight="bold" transform="translate(180.30 144.75)">a</text>
<clipPath id="cpb"><rect x="163.0" y="464.95" width="999.6400000000001" height="349.55"/></clipPath>
<g clip-path="url(#cpb)">
<path d="M163 548.9L163.4 543.4L163.8 557.6L164.2 553.4L164.6 552.7L165 555.4L165.3 562.5L165.7 552.6L166.1 561.7L166.5 565.6L166.9 585.4L167.3 574.7L167.7 582.8L168.1 566.5L168.5 581.9L168.9 593.7L169.3 584.7L169.7 582.2L170 594.2L170.4 587.5L170.8 569.5L171.2 587L171.6 583.9L172 562L172.4 584.8L172.8 593L173.2 590.2L173.6 581.1L174 575.7L174.3 587.3L174.7 595.2L175.1 574.9L175.5 580.2L175.9 581.4L176.3 583.7L176.7 568.3L177.1 577.6L177.5 585.2L177.9 581.7L178.3 576.7L178.6 583.4L179 574.9L179.4 561.6L179.8 562.7L180.2 560.1L180.6 559.3L181 564.2L181.4 558L181.8 576.8L182.2 557.8L182.6 558.1L183 560.2L183.3 559.7L183.7 569.5L184.1 565.2L184.5 574.2L184.9 565.7L185.3 564L185.7 567.3L186.1 554.2L186.5 569.9L186.9 561.6L187.3 562.7L187.6 567.2L188 560L188.4 561.5L188.8 566.7L189.2 554.3L189.6 565.7L190 553.6L190.4 571.6L190.8 569.5L191.2 560.4L191.6 544L192 569.6L192.3 568.4L192.7 563.8L193.1 559.8L193.5 554.7L193.9 546.1L194.3 553.8L194.7 546.1L195.1 548.7L195.5 552.2L195.9 550L196.3 541L196.6 542.3L197 531.9L197.4 539.7L197.8 540.8L198.2 547.7L198.6 545.1L199 537.2L199.4 538.4L199.8 529.8L200.2 547.4L200.6 538.5L200.9 544.7L201.3 560.6L201.7 554.5L202.1 544.1L202.5 549L202.9 551.3L203.3 538L203.7 548.2L204.1 544.1L204.5 540.5L204.9 549.3L205.3 540.8L205.6 553.5L206 556.2L206.4 539.1L206.8 539L207.2 543.9L207.6 556.4L208 553.8L208.4 558.9L208.8 560L209.2 553.1L209.6 558.6L209.9 547.4L210.3 569L210.7 562.6L211.1 569.5L211.5 571.5L211.9 549.5L212.3 553.4L212.7 564.2L213.1 559.8L213.5 566.5L213.9 572.6L214.2 597.9L214.6 592.6L215 571.2L215.4 594.9L215.8 564.5L216.2 568.6L216.6 571.7L217 570.1L217.4 566.9L217.8 575.1L218.2 555.4L218.6 570.1L218.9 574.1L219.3 552.3L219.7 563.4L220.1 562L220.5 555.6L220.9 547.5L221.3 564L221.7 562.6L222.1 573.4L222.5 563.2L222.9 550.6L223.2 568.8L223.6 570.3L224 576.2L224.4 573.8L224.8 574.7L225.2 565.2L225.6 564.2L226 582.8L226.4 564.8L226.8 558.9L227.2 554.1L227.6 575L227.9 563.5L228.3 573.5L228.7 578.7L229.1 580.3L229.5 581L229.9 571.8L230.3 564.5L230.7 582.9L231.1 584.5L231.5 560.2L231.9 576.4L232.2 552.4L232.6 566L233 580.1L233.4 562.5L233.8 562L234.2 582.7L234.6 572.1L235 560.3L235.4 582.5L235.8 568.6L236.2 569.9L236.5 559.2L236.9 564.1L237.3 577.4L237.7 585.9L238.1 577.8L238.5 575.5L238.9 576.7L239.3 580.2L239.7 584.2L240.1 567.9L240.5 580.7L240.9 584.1L241.2 576.8L241.6 577L242 578.4L242.4 569.1L242.8 585.7L243.2 575.9L243.6 571.1L244 582.4L244.4 578.6L244.8 575.2L245.2 576.1L245.5 580.1L245.9 589.4L246.3 587.3L246.7 580.5L247.1 582.8L247.5 582.7L247.9 585L248.3 594.8L248.7 576.5L249.1 588.9L249.5 568.5L249.9 559.4L250.2 574.2L250.6 577L251 585L251.4 587.7L251.8 583.4L252.2 572.5L252.6 579.8L253 591.8L253.4 572.9L253.8 583.1L254.2 573.4L254.5 579.1L254.9 585.1L255.3 582.4L255.7 573.4L256.1 583.9L256.5 568.6L256.9 584.6L257.3 567.7L257.7 588.5L258.1 587.2L258.5 574.6L258.8 567.8L259.2 582.2L259.6 576.1L260 591.1L260.4 593.6L260.8 587.5L261.2 573.9L261.6 594.5L262 607.3L262.4 615.7L262.8 599.7L263.2 596.7L263.5 605.9L263.9 604L264.3 612.6L264.7 598.2L265.1 605.1L265.5 621L265.9 615.8L266.3 602.8L266.7 612.6L267.1 630.9L267.5 616.4L267.8 617.7L268.2 635.2L268.6 611.5L269 604.9L269.4 620.2L269.8 623.1L270.2 618.3L270.6 620.2L271 618.2L271.4 613.8L271.8 630.4L272.2 621.3L272.5 605.1L272.9 621.5L273.3 620.2L273.7 618.6L274.1 628.9L274.5 634.5L274.9 607.5L275.3 624.4L275.7 632.1L276.1 616.3L276.5 625.3L276.8 628.5L277.2 630.4L277.6 629.3L278 637.1L278.4 609.9L278.8 614.6L279.2 616.2L279.6 603L280 606.4L280.4 614.2L280.8 620.8L281.1 612.5L281.5 597L281.9 612.6L282.3 588.3L282.7 605.3L283.1 613L283.5 605L283.9 589.7L284.3 604.7L284.7 595.9L285.1 593.4L285.5 603.1L285.8 590L286.2 586.9L286.6 592L287 611.3L287.4 595L287.8 591.2L288.2 589.9L288.6 582L289 592.5L289.4 593.9L289.8 609.5L290.1 601.8L290.5 583.5L290.9 600.3L291.3 592.1L291.7 602.5L292.1 594.8L292.5 598L292.9 584.6L293.3 588.6L293.7 585.4L294.1 600.3L294.4 590.7L294.8 583.1L295.2 614.3L295.6 602.3L296 591.7L296.4 585.3L296.8 587.4L297.2 587L297.6 589.7L298 586.5L298.4 593.4L298.8 592.9L299.1 600.5L299.5 592.7L299.9 592.5L300.3 578.8L300.7 599.4L301.1 588.8L301.5 592.8L301.9 590.1L302.3 581.9L302.7 590.9L303.1 597.2L303.4 589.8L303.8 584.1L304.2 589.5L304.6 586.8L305 603.1L305.4 585.3L305.8 596.9L306.2 602L306.6 590.1L307 603.1L307.4 589.8L307.8 579.7L308.1 596L308.5 598.8L308.9 583.4L309.3 586.5L309.7 585.3L310.1 606L310.5 597.9L310.9 576.8L311.3 597.8L311.7 595.6L312.1 591.9L312.4 590.9L312.8 594.3L313.2 612.9L313.6 587.9L314 600.9L314.4 584.6L314.8 582.7L315.2 600.8L315.6 591.3L316 581L316.4 580.6L316.7 587.6L317.1 599L317.5 593L317.9 604.2L318.3 586L318.7 595.4L319.1 587.8L319.5 618.5L319.9 604.4L320.3 604.6L320.7 604.1L321.1 610.6L321.4 597.5L321.8 608.7L322.2 588.4L322.6 605.7L323 607.3L323.4 609.2L323.8 595.1L324.2 602.8L324.6 613.7L325 630.2L325.4 610.7L325.7 615.2L326.1 608.7L326.5 615.3L326.9 606.9L327.3 618.8L327.7 608.4L328.1 613.4L328.5 604.1L328.9 613L329.3 608L329.7 616L330.1 616.2L330.4 620.3L330.8 625.7L331.2 614.9L331.6 616.8L332 604.1L332.4 612.8L332.8 602.5L333.2 602.1L333.6 614.9L334 623.7L334.4 617.7L334.7 597.8L335.1 615.6L335.5 605.7L335.9 615.8L336.3 611.7L336.7 604.8L337.1 606.7L337.5 609.2L337.9 609.2L338.3 607.1L338.7 612.6L339 604.7L339.4 616.6L339.8 588.8L340.2 610.5L340.6 619.4L341 625.8L341.4 620.6L341.8 611.9L342.2 620.2L342.6 608.2L343 619.7L343.4 625.1L343.7 619.3L344.1 620.7L344.5 620.5L344.9 625.5L345.3 618.2L345.7 631.6L346.1 615.8L346.5 617.8L346.9 617.8L347.3 621.9L347.7 615.1L348 612.4L348.4 626.3L348.8 603.8L349.2 612.2L349.6 606L350 597L350.4 617L350.8 614L351.2 622.4L351.6 603.7L352 610.7L352.4 609.2L352.7 588.8L353.1 603.8L353.5 598.9L353.9 594.7L354.3 591.6L354.7 613.6L355.1 599.7L355.5 597.2L355.9 594.6L356.3 609.4L356.7 607.3L357 600.5L357.4 603.3L357.8 605.2L358.2 608.4L358.6 606L359 608.1L359.4 604.8L359.8 612.4L360.2 616.1L360.6 613.3L361 612.7L361.3 604.5L361.7 617L362.1 631.5L362.5 599.4L362.9 608.5L363.3 615.6L363.7 617.9L364.1 622.6L364.5 593.5L364.9 635L365.3 620.5L365.7 621.6L366 610.1L366.4 630.6L366.8 619.2L367.2 628.7L367.6 651.1L368 644.1L368.4 628.2L368.8 648.2L369.2 643.1L369.6 629.5L370 651.6L370.3 641.5L370.7 632.6L371.1 636.7L371.5 644.6L371.9 658L372.3 639L372.7 649.9L373.1 652.7L373.5 663.1L373.9 672.8L374.3 653.1L374.7 660.6L375 671.1L375.4 651.8L375.8 658.1L376.2 665.6L376.6 665.1L377 658.5L377.4 660L377.8 672.4L378.2 659.3L378.6 668.7L379 686.2L379.3 671.1L379.7 671.1L380.1 664L380.5 667L380.9 689L381.3 679.7L381.7 663.4L382.1 666.5L382.5 684.9L382.9 671.1L383.3 652.8L383.6 682.8L384 653.1L384.4 653.3L384.8 664.4L385.2 660.8L385.6 654.1L386 654.4L386.4 650.2L386.8 642.4L387.2 654.4L387.6 648.4L388 639.1L388.3 649.5L388.7 645.7L389.1 632.9L389.5 660L389.9 641.4L390.3 652.3L390.7 651.4L391.1 645.2L391.5 642.1L391.9 639.8L392.3 653.5L392.6 643.7L393 638.1L393.4 648.5L393.8 644.8L394.2 647.5L394.6 646.4L395 659.7L395.4 643L395.8 649.1L396.2 639.1L396.6 647.5L396.9 661.3L397.3 646.1L397.7 644.8L398.1 647.8L398.5 658.8L398.9 660.6L399.3 647.7L399.7 665.6L400.1 653.9L400.5 661.3L400.9 668.1L401.3 667.3L401.6 670.2L402 663.8L402.4 673.8L402.8 670L403.2 672.1L403.6 668.2L404 664.1L404.4 684.5L404.8 670.5L405.2 680L405.6 676.5L405.9 677.6L406.3 664.9L406.7 666.8L407.1 680.9L407.5 682.1L407.9 669.9L408.3 678.7L408.7 668.9L409.1 689.8L409.5 676.7L409.9 690.4L410.3 709.7L410.6 682.2L411 695.7L411.4 683.4L411.8 690L412.2 677.4L412.6 696.7L413 697.7L413.4 673.1L413.8 676.1L414.2 683.6L414.6 696.9L414.9 676.9L415.3 664.9L415.7 687.1L416.1 686.4L416.5 689.1L416.9 678.6L417.3 682.4L417.7 693.7L418.1 687L418.5 674.4L418.9 690.4L419.2 679.3L419.6 673.8L420 676.4L420.4 696.2L420.8 678L421.2 690.5L421.6 696.7L422 681.4L422.4 698.7L422.8 690.2L423.2 680.7L423.6 687.4L423.9 694L424.3 687.2L424.7 695.3L425.1 690.8L425.5 690.3L425.9 708.6L426.3 689.2L426.7 704.5L427.1 705.3L427.5 706.1L427.9 712L428.2 715.5L428.6 709.8L429 721L429.4 715.6L429.8 716.4L430.2 730.1L430.6 728.4L431 721.2L431.4 725.9L431.8 720L432.2 724.9L432.6 726.7L432.9 725.8L433.3 721.7L433.7 714.3L434.1 736L434.5 726.3L434.9 724.6L435.3 726L435.7 722.8L436.1 697.1L436.5 709.1L436.9 727L437.2 726.5L437.6 711.5L438 710.4L438.4 723.2L438.8 711.8L439.2 710.7L439.6 709.5L440 718.8L440.4 712.2L440.8 717.9L441.2 710.7L441.5 715.5L441.9 712.7L442.3 717.4L442.7 720.5L443.1 716.7L443.5 712L443.9 722L444.3 713.4L444.7 700.5L445.1 724.2L445.5 729.2L445.9 726.8L446.2 721.9L446.6 720.1L447 736.9L447.4 735.8L447.8 715.1L448.2 732.9L448.6 718.1L449 714.5L449.4 748L449.8 720.8L450.2 725.2L450.5 728.7L450.9 724.2L451.3 728.3L451.7 724.5L452.1 715.6L452.5 728.4L452.9 740.8L453.3 721.2L453.7 724.1L454.1 722L454.5 730.4L454.9 726.8L455.2 718.2L455.6 734.1L456 737.9L456.4 721.7L456.8 734.9L457.2 723.3L457.6 735.5L458 734.5L458.4 728.3L458.8 727.4L459.2 734.9L459.5 716.6L459.9 732L460.3 723.6L460.7 735.7L461.1 733.7L461.5 733.6L461.9 728.3L462.3 728.4L462.7 728.5L463.1 730.8L463.5 724.5L463.8 724.7L464.2 734.8L464.6 730.7L465 728.4L465.4 726.1L465.8 727.3L466.2 733.7L466.6 734.1L467 730.7L467.4 726.9L467.8 738.4L468.2 737.9L468.5 732.9L468.9 728.5L469.3 734.1L469.7 731.4L470.1 734.2L470.5 723.8L470.9 743L471.3 727.5L471.7 732.4L472.1 726.8L472.5 725.2L472.8 748.7L473.2 717.1L473.6 719.1L474 712.6L474.4 717.9L474.8 716.3L475.2 718.9L475.6 710.6L476 732.1L476.4 722.1L476.8 727.6L477.1 713.4L477.5 717.8L477.9 706.9L478.3 717.7L478.7 720.2L479.1 720L479.5 724.5L479.9 734.1L480.3 719.3L480.7 721.9L481.1 722L481.5 727.1L481.8 717.3L482.2 725.4L482.6 714.7L483 718.1L483.4 718.3L483.8 727.3L484.2 712L484.6 707.3L485 714.2L485.4 717.3L485.8 707.9L486.1 706.5L486.5 715.5L486.9 691.7L487.3 703.1L487.7 701.1L488.1 705L488.5 709.7L488.9 720.3L489.3 715.2L489.7 712.3L490.1 706.9L490.5 716L490.8 718.4L491.2 702.9L491.6 710.3L492 704L492.4 710.4L492.8 715.6L493.2 711.3L493.6 729.3L494 703.7L494.4 706.9L494.8 701.9L495.1 712.1L495.5 695.7L495.9 701.1L496.3 723.9L496.7 723.3L497.1 707.8L497.5 719.8L497.9 710.2L498.3 710.8L498.7 711.1L499.1 696.5L499.4 703L499.8 701.6L500.2 704.4L500.6 682.3L501 694.1L501.4 709.7L501.8 700.1L502.2 710.2L502.6 706.5L503 705.9L503.4 716.2L503.8 720.1L504.1 715.4L504.5 702.1L504.9 755.7L505.3 702.8L505.7 724.1L506.1 714.2L506.5 712.8L506.9 703.4L507.3 709.4L507.7 717.7L508.1 712.5L508.4 706.3L508.8 699.5L509.2 704.9L509.6 707.8L510 708.8L510.4 679L510.8 713.6L511.2 710.8L511.6 704.9L512 698.5L512.4 722.6L512.8 702.6L513.1 701.7L513.5 708.4L513.9 725.7L514.3 716.9L514.7 713.5L515.1 709.7L515.5 721.7L515.9 714.2L516.3 707L516.7 716.3L517.1 713.9L517.4 714.5L517.8 721.7L518.2 713.6L518.6 712.4L519 704.4L519.4 716.1L519.8 720L520.2 713.5L520.6 715.9L521 704.5L521.4 712.3L521.7 719.8L522.1 696L522.5 706.9L522.9 704.8L523.3 703L523.7 697L524.1 711.7L524.5 699.3L524.9 702.6L525.3 701.8L525.7 702.5L526.1 705.3L526.4 700.1L526.8 701.7L527.2 697.2L527.6 676L528 709.8L528.4 686.8L528.8 694.1L529.2 711.4L529.6 702.9L530 701.7L530.4 692.7L530.7 708.7L531.1 687.4L531.5 708.3L531.9 702.9L532.3 710.4L532.7 720.4L533.1 706.8L533.5 702.3L533.9 699.5L534.3 703L534.7 706L535.1 718.9L535.4 701L535.8 684.6L536.2 686.9L536.6 691.3L537 703.7L537.4 696.4L537.8 703.6L538.2 702.7L538.6 697.3L539 690.7L539.4 702.4L539.7 702.9L540.1 698.3L540.5 709.2L540.9 690.8L541.3 689.4L541.7 688.4L542.1 692L542.5 702.7L542.9 700.9L543.3 706.5L543.7 697.4L544 683.8L544.4 708.7L544.8 695.8L545.2 690.2L545.6 708L546 683.2L546.4 704.2L546.8 699.3L547.2 694.7L547.6 690.4L548 682.8L548.4 698.8L548.7 701.3L549.1 714.5L549.5 699.9L549.9 686.4L550.3 701.6L550.7 691.3L551.1 691.2L551.5 695.6L551.9 701.3L552.3 701.9L552.7 698.5L553 711.8L553.4 687.8L553.8 706.8L554.2 703.7L554.6 703.6L555 700.9L555.4 695.6L555.8 676.3L556.2 696L556.6 686.1L557 701.4L557.3 693.3L557.7 692.3L558.1 697.4L558.5 693.4L558.9 706.3L559.3 688.6L559.7 692.8L560.1 698.2L560.5 702.7L560.9 694.7L561.3 710.8L561.7 697.5L562 697.7L562.4 686.7L562.8 707.3L563.2 696.2L563.6 702.6L564 720.2L564.4 717.8L564.8 712.4L565.2 699L565.6 696.4L566 709L566.3 703.1L566.7 703.9L567.1 725.1L567.5 696.7L567.9 694.1L568.3 722.5L568.7 711.9L569.1 706.1L569.5 705.2L569.9 696.4L570.3 683.6L570.7 709L571 699.9L571.4 709.9L571.8 708L572.2 704.4L572.6 702L573 711.7L573.4 692.2L573.8 705.3L574.2 707.2L574.6 701.6L575 712.2L575.3 705.8L575.7 727.9L576.1 723L576.5 713.1L576.9 713.7L577.3 712.7L577.7 715.2L578.1 706.2L578.5 702.3L578.9 716.4L579.3 705.6L579.6 711.8L580 725.3L580.4 726.5L580.8 716.3L581.2 709.1L581.6 725.4L582 734L582.4 710.2L582.8 709L583.2 719.4L583.6 709.8L584 702.9L584.3 725.1L584.7 721.7L585.1 721.1L585.5 698.6L585.9 725.2L586.3 720.9L586.7 708.5L587.1 710.8L587.5 710.3L587.9 725.3L588.3 714.5L588.6 722.6L589 710.8L589.4 713.7L589.8 704.6L590.2 718.3L590.6 715.5L591 713.7L591.4 717.7L591.8 713.1L592.2 722.7L592.6 723.8L593 727.7L593.3 716.1L593.7 708L594.1 711.2L594.5 729.2L594.9 711.2L595.3 713.7L595.7 714.8L596.1 711.3L596.5 708.2L596.9 702.9L597.3 703.6L597.6 698.7L598 708.8L598.4 718.7L598.8 704.2L599.2 735.9L599.6 709.3L600 724.3L600.4 721.7L600.8 708.3L601.2 723.5L601.6 710.8L601.9 715.1L602.3 721.7L602.7 715.7L603.1 717.7L603.5 720.8L603.9 727.4L604.3 715.7L604.7 725.3L605.1 723.3L605.5 719.7L605.9 723.6L606.3 720.7L606.6 720.1L607 720.6L607.4 721.9L607.8 712.3L608.2 726.8L608.6 726.7L609 734.3L609.4 742.7L609.8 720.2L610.2 716.8L610.6 715.6L610.9 738.8L611.3 733.8L611.7 732.4L612.1 713.1L612.5 721.4L612.9 730L613.3 729.1L613.7 726.6L614.1 738.4L614.5 728.1L614.9 739.7L615.3 730.5L615.6 725.2L616 728.8L616.4 736.6L616.8 733.9L617.2 726L617.6 736.2L618 742.7L618.4 735.2L618.8 738.2L619.2 735.9L619.6 734.1L619.9 736.7L620.3 737L620.7 726.9L621.1 728.6L621.5 725.5L621.9 732.2L622.3 735.7L622.7 729.8L623.1 742.9L623.5 739.8L623.9 724.8L624.2 735.4L624.6 736.4L625 739.5L625.4 727.1L625.8 739.7L626.2 721.4L626.6 729.2L627 761.2L627.4 734.2L627.8 738.3L628.2 727L628.6 727.4L628.9 734.7L629.3 735.3L629.7 726.7L630.1 734.6L630.5 719.6L630.9 733.8L631.3 723L631.7 744L632.1 726.1L632.5 734.2L632.9 727.3L633.2 720.5L633.6 729.7L634 747.8L634.4 744.2L634.8 727.7L635.2 734.9L635.6 737.1L636 711.5L636.4 730.1L636.8 720.9L637.2 719.7L637.5 729.3L637.9 724.7L638.3 732.7L638.7 719.9L639.1 721.6L639.5 708.8L639.9 713.6L640.3 720.3L640.7 723.1L641.1 719.2L641.5 716.6L641.9 710.1L642.2 707.2L642.6 723.6L643 722.6L643.4 711.3L643.8 722.9L644.2 713.6L644.6 744.2L645 715.3L645.4 715.9L645.8 714.1L646.2 716.1L646.5 706.8L646.9 703.1L647.3 703.9L647.7 714.3L648.1 710.4L648.5 712L648.9 711.4L649.3 706.6L649.7 705.3L650.1 705.2L650.5 700.8L650.9 695.1L651.2 705.4L651.6 700.8L652 693.8L652.4 696L652.8 702.4L653.2 704.8L653.6 690.5L654 702.4L654.4 690.3L654.8 699.9L655.2 678.9L655.5 700.5L655.9 679.2L656.3 688.1L656.7 683.8L657.1 685.8L657.5 692.3L657.9 698.9L658.3 679.5L658.7 702L659.1 698.6L659.5 711.3L659.8 702.3L660.2 698.9L660.6 709.9L661 705.4L661.4 710.6L661.8 711.8L662.2 706L662.6 705L663 717.9L663.4 726.5L663.8 710.5L664.2 723L664.5 719.2L664.9 722.8L665.3 710L665.7 702.4L666.1 724.1L666.5 704.9L666.9 721L667.3 725.6L667.7 715.4L668.1 710.3L668.5 728L668.8 730L669.2 714.1L669.6 720.9L670 747.7L670.4 727L670.8 730L671.2 727.7L671.6 721.4L672 725L672.4 723.7L672.8 705.1L673.2 731.9L673.5 718.3L673.9 714.5L674.3 729.9L674.7 727.4L675.1 738.6L675.5 711.9L675.9 726.5L676.3 709.6L676.7 727L677.1 727.7L677.5 714.5L677.8 711L678.2 726.7L678.6 734L679 713.1L679.4 721.1L679.8 722.4L680.2 721.1L680.6 709.7L681 730.7L681.4 696.8L681.8 697.1L682.1 698.9L682.5 709.8L682.9 712.3L683.3 702L683.7 713.7L684.1 688.8L684.5 715.4L684.9 694.4L685.3 696.4L685.7 705.1L686.1 702.9L686.5 706.1L686.8 698.2L687.2 694.4L687.6 697.7L688 699.9L688.4 696.4L688.8 686.7L689.2 688.7L689.6 691.6L690 699.8L690.4 698.5L690.8 691.5L691.1 697.7L691.5 700L691.9 683.8L692.3 693.3L692.7 692.2L693.1 698L693.5 691.5L693.9 687.1L694.3 690.8L694.7 703.7L695.1 696.1L695.5 688.6L695.8 690.3L696.2 684.7L696.6 694.7L697 692.9L697.4 685.6L697.8 693.7L698.2 687.2L698.6 707.3L699 701.3L699.4 686.7L699.8 687.3L700.1 686.9L700.5 684.9L700.9 684.6L701.3 698.9L701.7 677.7L702.1 681.7L702.5 696.3L702.9 695.8L703.3 680.7L703.7 687.9L704.1 677.5L704.4 682.1L704.8 690.1L705.2 684.5L705.6 680.2L706 677.2L706.4 671.3L706.8 682.8L707.2 674.7L707.6 680.4L708 680.7L708.4 697.2L708.8 684L709.1 691.6L709.5 676.4L709.9 674.3L710.3 679.3L710.7 667.1L711.1 680.7L711.5 676.2L711.9 685.5L712.3 680L712.7 690.8L713.1 684.9L713.4 674.2L713.8 681.7L714.2 684.7L714.6 682.4L715 678.4L715.4 671.9L715.8 694L716.2 682.5L716.6 683.3L717 684.2L717.4 682.4L717.7 678.8L718.1 674.2L718.5 696.2L718.9 692.7L719.3 682.6L719.7 695.1L720.1 680.6L720.5 691.1L720.9 684.7L721.3 693.8L721.7 691.6L722.1 664L722.4 686.7L722.8 672.5L723.2 683.6L723.6 677.4L724 688.1L724.4 677.7L724.8 684.6L725.2 701.7L725.6 699.1L726 679.9L726.4 673.8L726.7 685.2L727.1 687.3L727.5 683.7L727.9 665.3L728.3 692.3L728.7 672.9L729.1 669.5L729.5 689.5L729.9 697.4L730.3 683.5L730.7 686.3L731.1 674.3L731.4 681.6L731.8 687.5L732.2 681.6L732.6 675.9L733 688.3L733.4 691.9L733.8 678.7L734.2 672.8L734.6 674.9L735 680.2L735.4 687.1L735.7 678.6L736.1 679.3L736.5 677.3L736.9 681.3L737.3 671.9L737.7 672.8L738.1 689.5L738.5 673.7L738.9 686.9L739.3 678L739.7 681.1L740 677.4L740.4 690.8L740.8 685.1L741.2 686.8L741.6 687.2L742 695.6L742.4 681.3L742.8 689.5L743.2 682.9L743.6 685.7L744 682.2L744.4 680.8L744.7 694.5L745.1 684.9L745.5 682.4L745.9 689.3L746.3 688.2L746.7 680.4L747.1 673.1L747.5 678.7L747.9 678.1L748.3 681.2L748.7 650.7L749 684.4L749.4 679L749.8 660.6L750.2 683.7L750.6 687.5L751 699.4L751.4 700.6L751.8 672.4L752.2 688L752.6 695.2L753 691.6L753.4 695.9L753.7 687.5L754.1 691.7L754.5 681.6L754.9 674.5L755.3 682.2L755.7 685.6L756.1 685L756.5 661.3L756.9 695.7L757.3 692.5L757.7 689.6L758 694.3L758.4 681.2L758.8 688.3L759.2 692.4L759.6 680.9L760 685.3L760.4 681.4L760.8 684.1L761.2 687.2L761.6 690.9L762 678.5L762.3 688.7L762.7 674.5L763.1 680.3L763.5 682.4L763.9 687.9L764.3 669.3L764.7 684.3L765.1 679L765.5 688.7L765.9 675.4L766.3 681.3L766.7 676.5L767 678.2L767.4 686.1L767.8 692.2L768.2 684.4L768.6 690.2L769 688.6L769.4 672.5L769.8 678.3L770.2 683.8L770.6 682L771 680.7L771.3 685.9L771.7 687.7L772.1 686.2L772.5 683.7L772.9 672.3L773.3 697.6L773.7 688.4L774.1 693L774.5 670.9L774.9 697.3L775.3 679.2L775.7 684.3L776 685.3L776.4 681.4L776.8 686L777.2 691.6L777.6 675.6L778 699.3L778.4 705.6L778.8 698.1L779.2 679.8L779.6 698.3L780 692.5L780.3 686.9L780.7 688.7L781.1 690.5L781.5 685.4L781.9 692.7L782.3 684.3L782.7 691.4L783.1 665.3L783.5 684.7L783.9 690.2L784.3 684L784.6 685.8L785 686.4L785.4 690.3L785.8 702.4L786.2 698.2L786.6 688.2L787 685.7L787.4 707.2L787.8 702.8L788.2 711.4L788.6 705.7L789 690.5L789.3 699.4L789.7 690.7L790.1 683.4L790.5 706.7L790.9 691.5L791.3 689.9L791.7 687.9L792.1 682.7L792.5 681.2L792.9 685L793.3 696.4L793.6 680.1L794 672.8L794.4 697.6L794.8 690L795.2 686L795.6 691.3L796 686.7L796.4 686L796.8 680.3L797.2 691.8L797.6 690.4L798 653.2L798.3 681.4L798.7 693.2L799.1 698.1L799.5 689.1L799.9 684.4L800.3 689.6L800.7 697.1L801.1 695L801.5 690.3L801.9 685L802.3 682.6L802.6 675.9L803 689.6L803.4 690L803.8 696.5L804.2 691.3L804.6 685.5L805 686L805.4 685.3L805.8 682.3L806.2 686.4L806.6 694.1L806.9 681.3L807.3 679.6L807.7 687.6L808.1 655L808.5 698.5L808.9 690.1L809.3 686.7L809.7 680.8L810.1 683.4L810.5 674L810.9 667.2L811.3 670.7L811.6 673.7L812 663.3L812.4 687.5L812.8 677.9L813.2 675.9L813.6 679.1L814 677.4L814.4 677.4L814.8 681L815.2 684.9L815.6 683.5L815.9 677.5L816.3 672.4L816.7 670.9L817.1 669.1L817.5 692.7L817.9 681.3L818.3 682.7L818.7 674L819.1 673.8L819.5 677.5L819.9 667.2L820.2 678.9L820.6 674.6L821 671.9L821.4 671.6L821.8 677.8L822.2 664.5L822.6 669.3L823 667.1L823.4 672.7L823.8 673.4L824.2 681.1L824.6 690L824.9 683.6L825.3 686.4L825.7 674L826.1 698.7L826.5 676.4L826.9 679.4L827.3 672.2L827.7 673.2L828.1 661.5L828.5 664.5L828.9 658.9L829.2 669.3L829.6 682.5L830 661L830.4 652.5L830.8 670L831.2 655.4L831.6 667.6L832 665.2L832.4 666.8L832.8 670.3L833.2 669.1L833.6 678.1L833.9 662.9L834.3 662.9L834.7 657.5L835.1 662.6L835.5 658.8L835.9 644.7L836.3 654.2L836.7 662.5L837.1 659.5L837.5 661L837.9 650.5L838.2 664.2L838.6 652.2L839 657.5L839.4 681L839.8 657.3L840.2 666.1L840.6 669.4L841 662.6L841.4 657.5L841.8 644.8L842.2 662.9L842.5 670.1L842.9 663.9L843.3 659.5L843.7 678.8L844.1 664.3L844.5 674.7L844.9 670.6L845.3 663.5L845.7 653.7L846.1 665.6L846.5 664L846.9 657L847.2 663.4L847.6 659.4L848 662.3L848.4 641.5L848.8 658.2L849.2 643.2L849.6 652.7L850 639.7L850.4 661.1L850.8 651.8L851.2 671.8L851.5 630.7L851.9 648.9L852.3 656.1L852.7 637.3L853.1 630.4L853.5 639.7L853.9 637.7L854.3 648.8L854.7 654L855.1 658.8L855.5 638.6L855.9 660.6L856.2 646.5L856.6 630.8L857 640.1L857.4 652.3L857.8 648.3L858.2 631L858.6 648.2L859 643.5L859.4 650.7L859.8 640.2L860.2 644.9L860.5 632.7L860.9 648.1L861.3 644.2L861.7 659.4L862.1 630.8L862.5 631.7L862.9 643.8L863.3 640.8L863.7 639.2L864.1 634.3L864.5 655.9L864.8 650.2L865.2 625.6L865.6 633.9L866 637.7L866.4 641.5L866.8 634.3L867.2 632.8L867.6 632.6L868 646.6L868.4 637.1L868.8 634L869.2 634.4L869.5 643.8L869.9 637.2L870.3 642.4L870.7 638.1L871.1 632.7L871.5 630.1L871.9 630.4L872.3 627.2L872.7 634.3L873.1 644.7L873.5 634.4L873.8 638.1L874.2 646.7L874.6 638L875 629.3L875.4 623.3L875.8 631.3L876.2 640.8L876.6 629.8L877 634.9L877.4 619L877.8 638.9L878.2 622.7L878.5 631.2L878.9 627L879.3 636.1L879.7 627.3L880.1 631.7L880.5 633.1L880.9 640.8L881.3 636.9L881.7 647.1L882.1 628.1L882.5 634.4L882.8 620.5L883.2 643.6L883.6 619.4L884 627.7L884.4 634L884.8 626.9L885.2 640.5L885.6 641.1L886 621.2L886.4 666.8L886.8 631.9L887.1 621.6L887.5 631L887.9 621L888.3 633.2L888.7 636.8L889.1 621.7L889.5 623L889.9 629.7L890.3 617.7L890.7 636.9L891.1 620L891.5 630.3L891.8 624.7L892.2 625.4L892.6 624.1L893 620.9L893.4 613.5L893.8 613.3L894.2 624.2L894.6 625.1L895 633.1L895.4 612.8L895.8 619.3L896.1 631.8L896.5 626.2L896.9 616L897.3 633.1L897.7 625.6L898.1 627.7L898.5 630.3L898.9 627.1L899.3 643.5L899.7 620L900.1 631L900.4 626.3L900.8 637.8L901.2 608.6L901.6 622L902 641.4L902.4 630.9L902.8 628.3L903.2 633.3L903.6 636.8L904 637.1L904.4 634.2L904.8 624.9L905.1 626.3L905.5 619.1L905.9 630.7L906.3 647.5L906.7 631.6L907.1 621.7L907.5 638.9L907.9 628L908.3 626.9L908.7 636.9L909.1 630.6L909.4 636.9L909.8 616.7L910.2 622.7L910.6 626.9L911 621.3L911.4 621.4L911.8 632.9L912.2 635.2L912.6 635.1L913 633.2L913.4 616.2L913.8 613.8L914.1 610.5L914.5 632.6L914.9 621.9L915.3 611.9L915.7 606.4L916.1 622.9L916.5 622.9L916.9 622.2L917.3 615.7L917.7 612.6L918.1 610.5L918.4 621.2L918.8 606L919.2 624.3L919.6 610.9L920 604.4L920.4 605.5L920.8 608.8L921.2 613.6L921.6 610.3L922 614.5L922.4 613.3L922.7 614.3L923.1 597.8L923.5 614.6L923.9 611.1L924.3 595.7L924.7 603.4L925.1 593.4L925.5 595.6L925.9 604.6L926.3 600.3L926.7 618.1L927.1 607.7L927.4 579.1L927.8 607.5L928.2 608.9L928.6 590.4L929 605.3L929.4 623.3L929.8 603.5L930.2 632.3L930.6 609.4L931 611L931.4 618.4L931.7 621.7L932.1 619.7L932.5 596.8L932.9 627.7L933.3 626.6L933.7 623.5L934.1 626.6L934.5 612.1L934.9 624.5L935.3 629.8L935.7 624.4L936.1 624.9L936.4 634.4L936.8 635.9L937.2 635.9L937.6 637.1L938 640L938.4 637.7L938.8 627.9L939.2 648L939.6 635.8L940 634.2L940.4 641.4L940.7 641L941.1 632.2L941.5 644.9L941.9 637.9L942.3 638.9L942.7 642.4L943.1 642.9L943.5 638.7L943.9 634.3L944.3 655.1L944.7 640.1L945 654.8L945.4 658.1L945.8 651.7L946.2 652.6L946.6 667.8L947 642L947.4 659.5L947.8 651L948.2 653.9L948.6 652.3L949 657L949.4 655.3L949.7 657.4L950.1 661L950.5 650.1L950.9 657.1L951.3 655.2L951.7 662.6L952.1 662.7L952.5 656.5L952.9 682.4L953.3 647.2L953.7 661.4L954 660.8L954.4 662.7L954.8 658.1L955.2 655.3L955.6 653.6L956 664.4L956.4 667.9L956.8 660.5L957.2 660.7L957.6 665.7L958 651.4L958.4 669.1L958.7 668.8L959.1 655.8L959.5 666.7L959.9 665.9L960.3 671.4L960.7 674.8L961.1 670.6L961.5 678L961.9 660L962.3 663.5L962.7 651.5L963 666.4L963.4 674.9L963.8 657.4L964.2 667.7L964.6 654.9L965 665.2L965.4 674.5L965.8 662.5L966.2 662L966.6 655L967 662.3L967.3 656.9L967.7 656.8L968.1 664.7L968.5 665.5L968.9 662.6L969.3 668.8L969.7 655.6L970.1 650.5L970.5 657.5L970.9 659.9L971.3 663.7L971.7 650.2L972 646.3L972.4 670.5L972.8 637.8L973.2 641.8L973.6 657.3L974 652.9L974.4 651.4L974.8 649.6L975.2 655.3L975.6 648.7L976 646.5L976.3 631.8L976.7 650.3L977.1 653.6L977.5 640.5L977.9 647.3L978.3 644.3L978.7 644.2L979.1 646.5L979.5 646.6L979.9 645.4L980.3 646.5L980.6 642.5L981 626.1L981.4 640.9L981.8 646.5L982.2 648.4L982.6 631.9L983 646.1L983.4 640.5L983.8 654.4L984.2 657L984.6 639.8L985 654.4L985.3 640.4L985.7 635.7L986.1 648.8L986.5 646.9L986.9 647.2L987.3 650.2L987.7 648.2L988.1 648.8L988.5 648L988.9 646.8L989.3 644.2L989.6 645L990 648.9L990.4 656.5L990.8 647.7L991.2 645.7L991.6 649.8L992 652.4L992.4 632.6L992.8 664.7L993.2 642.3L993.6 643.9L994 633.3L994.3 629.6L994.7 637.3L995.1 644.4L995.5 635.4L995.9 647.1L996.3 637.5L996.7 642.5L997.1 632.4L997.5 648.6L997.9 641.3L998.3 634.6L998.6 637.7L999 638.9L999.4 642L999.8 638.9L1000.2 626.2L1000.6 641.5L1001 646.6L1001.4 643.8L1001.8 639.9L1002.2 632.3L1002.6 639.3L1002.9 632L1003.3 627.9L1003.7 644.6L1004.1 636.5L1004.5 640.2L1004.9 631.6L1005.3 633.5L1005.7 633.1L1006.1 648.2L1006.5 643.5L1006.9 643.2L1007.3 643.9L1007.6 648.9L1008 643.9L1008.4 643.6L1008.8 645.5L1009.2 654.7L1009.6 652.3L1010 659L1010.4 657.1L1010.8 647.9L1011.2 655.2L1011.6 655.7L1011.9 647.2L1012.3 660.7L1012.7 657.7L1013.1 669.4L1013.5 652.7L1013.9 662.6L1014.3 656.6L1014.7 657L1015.1 664L1015.5 660.6L1015.9 675.5L1016.3 668.7L1016.6 679L1017 657.4L1017.4 660.5L1017.8 640.5L1018.2 654.5L1018.6 652.6L1019 665.2L1019.4 673.9L1019.8 665.3L1020.2 646.2L1020.6 656.7L1020.9 651.7L1021.3 654.4L1021.7 655.1L1022.1 661.1L1022.5 667L1022.9 651.7L1023.3 664.7L1023.7 645.5L1024.1 653.7L1024.5 652.5L1024.9 657.2L1025.2 669.9L1025.6 663.2L1026 649.9L1026.4 666.8L1026.8 666.6L1027.2 646.7L1027.6 673.9L1028 659.5L1028.4 656.1L1028.8 644L1029.2 650.7L1029.6 655.3L1029.9 671.9L1030.3 661L1030.7 671.3L1031.1 656.7L1031.5 669.1L1031.9 651.1L1032.3 654.1L1032.7 662L1033.1 653.3L1033.5 654.3L1033.9 654.3L1034.2 654.2L1034.6 648.3L1035 653.1L1035.4 656.6L1035.8 651.1L1036.2 659.5L1036.6 644.3L1037 646.7L1037.4 668.3L1037.8 654.2L1038.2 653.1L1038.6 652.6L1038.9 647.9L1039.3 641.9L1039.7 641.2L1040.1 666.3L1040.5 645.2L1040.9 666.1L1041.3 643.6L1041.7 647.1L1042.1 655.7L1042.5 651.9L1042.9 651.5L1043.2 638.3L1043.6 650.8L1044 648.4L1044.4 641.7L1044.8 631.3L1045.2 647.5L1045.6 640.2L1046 646.6L1046.4 632.7L1046.8 648.4L1047.2 635.8L1047.5 634.9L1047.9 640.6L1048.3 617.6L1048.7 623.2L1049.1 636.4L1049.5 632.8L1049.9 632.9L1050.3 625.1L1050.7 627.3L1051.1 632.2L1051.5 632.4L1051.9 643.7L1052.2 632.8L1052.6 630.4L1053 617.7L1053.4 623.7L1053.8 646L1054.2 633.7L1054.6 620.2L1055 620.6L1055.4 641.6L1055.8 629.2L1056.2 616.3L1056.5 633.3L1056.9 631L1057.3 626.8L1057.7 634.5L1058.1 618.2L1058.5 624.4L1058.9 623.8L1059.3 630L1059.7 616.2L1060.1 626.6L1060.5 629.5L1060.8 624.4L1061.2 646.2L1061.6 627.8L1062 606.2L1062.4 629L1062.8 629.8L1063.2 622.6L1063.6 619.6L1064 618.3L1064.4 618.9L1064.8 632.4L1065.2 622.7L1065.5 635L1065.9 612.6L1066.3 614.4L1066.7 610.2L1067.1 627.8L1067.5 631L1067.9 614.8L1068.3 622.6L1068.7 624.7L1069.1 622.3L1069.5 627.1L1069.8 629.3L1070.2 613.6L1070.6 614.3L1071 611.3L1071.4 614.6L1071.8 616.3L1072.2 613.5L1072.6 618.8L1073 615.1L1073.4 617L1073.8 632.6L1074.2 611.7L1074.5 600.6L1074.9 601.1L1075.3 612.9L1075.7 607.6L1076.1 608.3L1076.5 596.1L1076.9 595.5L1077.3 613.2L1077.7 613.2L1078.1 610.2L1078.5 610.4L1078.8 593.9L1079.2 620L1079.6 614.4L1080 617L1080.4 610.9L1080.8 601.4L1081.2 614.3L1081.6 600L1082 577.4L1082.4 605.3L1082.8 597.8L1083.1 608.4L1083.5 603.2L1083.9 607.5L1084.3 595.8L1084.7 601.8L1085.1 592.8L1085.5 598L1085.9 596.5L1086.3 610.7L1086.7 601L1087.1 609.1L1087.5 606.5L1087.8 603.7L1088.2 599.7L1088.6 604.3L1089 605.4L1089.4 593.3L1089.8 600.4L1090.2 622.4L1090.6 605.8L1091 614.4L1091.4 608L1091.8 609.6L1092.1 587.9L1092.5 622.2L1092.9 615.6L1093.3 625.8L1093.7 630.9L1094.1 639.6L1094.5 627.4L1094.9 620.7L1095.3 635.5L1095.7 628.4L1096.1 637.9L1096.5 633.6L1096.8 642.8L1097.2 639L1097.6 653.3L1098 642.4L1098.4 636.7L1098.8 643.3L1099.2 655.7L1099.6 665.7L1100 650.3L1100.4 672.6L1100.8 654.2L1101.1 646L1101.5 670.8L1101.9 656.6L1102.3 655.8L1102.7 649.3L1103.1 652.4L1103.5 643.3L1103.9 653.2L1104.3 650.4L1104.7 671.2L1105.1 655.6L1105.4 658.1L1105.8 656.5L1106.2 648.6L1106.6 665.8L1107 675.5L1107.4 642.4L1107.8 657.9L1108.2 659.3L1108.6 645L1109 650.3L1109.4 654.4L1109.8 653.3L1110.1 649.5L1110.5 661.7L1110.9 654.6L1111.3 639.6L1111.7 651L1112.1 652.8L1112.5 640.2L1112.9 653.8L1113.3 642.9L1113.7 653.2L1114.1 656.9L1114.4 647.6L1114.8 653.6L1115.2 666.6L1115.6 639.9L1116 646.6L1116.4 639.6L1116.8 661.4L1117.2 658.5L1117.6 664.5L1118 655.6L1118.4 649.5L1118.8 638.5L1119.1 657.4L1119.5 657L1119.9 647.9L1120.3 652.2L1120.7 662.5L1121.1 661.7L1121.5 663.5L1121.9 650.4L1122.3 665.3L1122.7 664.1L1123.1 653.9L1123.4 667.9L1123.8 656.4L1124.2 676.2L1124.6 671.4L1125 656.3L1125.4 662.6L1125.8 674.8L1126.2 677.4L1126.6 695L1127 662.2L1127.4 665.1L1127.7 659L1128.1 660.2L1128.5 636.8L1128.9 647L1129.3 666.9L1129.7 652.2L1130.1 662.6L1130.5 650.4L1130.9 652.9L1131.3 647.2L1131.7 650L1132.1 662.3L1132.4 640.2L1132.8 658L1133.2 649.5L1133.6 647.3L1134 638.9L1134.4 648.5L1134.8 639L1135.2 635.4L1135.6 619.4L1136 637.9L1136.4 629.1L1136.7 625.7L1137.1 631.6L1137.5 628.3L1137.9 622.4L1138.3 635L1138.7 651.4L1139.1 631.3L1139.5 626.2L1139.9 624.6L1140.3 624.3L1140.7 619.6L1141.1 628.5L1141.4 634L1141.8 638.1L1142.2 640.2L1142.6 622.5L1143 634.7L1143.4 636.3L1143.8 618.8L1144.2 640.2L1144.6 623.2L1145 637L1145.4 632.9L1145.7 631.7L1146.1 624.1L1146.5 628.5L1146.9 617.9L1147.3 634.5L1147.7 608.3L1148.1 624.4L1148.5 634.6L1148.9 627.3L1149.3 626.6L1149.7 616L1150 628.1L1150.4 607.4L1150.8 623L1151.2 619.8L1151.6 606.9L1152 631.9L1152.4 599L1152.8 622.3L1153.2 630.8L1153.6 604L1154 619L1154.4 632.7L1154.7 615.8L1155.1 609L1155.5 593.6L1155.9 619.4L1156.3 633L1156.7 630.4L1157.1 612.7L1157.5 625.5L1157.9 632L1158.3 619.1L1158.7 641.7L1159 620.4L1159.4 643.3L1159.8 639.4L1160.2 637.5L1160.6 631.5L1161 632L1161.4 672.8L1161.8 655.5L1162.2 656.5L1162.6 655L1163 663.3L1163.3 668.5L1163.7 650.7L1164.1 659.9" fill="none" stroke="#000" stroke-width="5.6" stroke-linejoin="round"/>
<line x1="299.54" y1="464.95" x2="299.54" y2="814.50" stroke="#000" stroke-width="5.0"/>
<line x1="886.37" y1="464.95" x2="886.37" y2="814.50" stroke="#000" stroke-width="5.0"/>
</g>
<rect x="163.00" y="464.95" width="999.64" height="349.55" fill="none" stroke="#000" stroke-width="4.17"/>
<line x1="163.00" y1="450.65" x2="163.00" y2="464.95" stroke="#000" stroke-width="4.17"/>
<line x1="163.00" y1="814.50" x2="163.00" y2="828.80" stroke="#000" stroke-width="4.17"/>
<line x1="358.61" y1="450.65" x2="358.61" y2="464.95" stroke="#000" stroke-width="4.17"/>
<line x1="358.61" y1="814.50" x2="358.61" y2="828.80" stroke="#000" stroke-width="4.17"/>
<line x1="554.22" y1="450.65" x2="554.22" y2="464.95" stroke="#000" stroke-width="4.17"/>
<line x1="554.22" y1="814.50" x2="554.22" y2="828.80" stroke="#000" stroke-width="4.17"/>
<line x1="749.83" y1="450.65" x2="749.83" y2="464.95" stroke="#000" stroke-width="4.17"/>
<line x1="749.83" y1="814.50" x2="749.83" y2="828.80" stroke="#000" stroke-width="4.17"/>
<line x1="945.44" y1="450.65" x2="945.44" y2="464.95" stroke="#000" stroke-width="4.17"/>
<line x1="945.44" y1="814.50" x2="945.44" y2="828.80" stroke="#000" stroke-width="4.17"/>
<line x1="1141.05" y1="450.65" x2="1141.05" y2="464.95" stroke="#000" stroke-width="4.17"/>
<line x1="1141.05" y1="814.50" x2="1141.05" y2="828.80" stroke="#000" stroke-width="4.17"/>
<line x1="148.70" y1="543.36" x2="163.00" y2="543.36" stroke="#000" stroke-width="4.17"/>
<text font-family='"Liberation Sans", sans-serif' font-size="33.4" text-anchor="end" fill="#000" transform="translate(136.90 555.36) scale(0.955 1)">105</text>
<line x1="148.70" y1="645.12" x2="163.00" y2="645.12" stroke="#000" stroke-width="4.17"/>
<text font-family='"Liberation Sans", sans-serif' font-size="33.4" text-anchor="end" fill="#000" transform="translate(136.90 657.12) scale(0.955 1)">100</text>
<line x1="148.70" y1="746.88" x2="163.00" y2="746.88" stroke="#000" stroke-width="4.17"/>
<text font-family='"Liberation Sans", sans-serif' font-size="33.4" text-anchor="end" fill="#000" transform="translate(136.90 758.88) scale(0.955 1)">95</text>
<text font-family='"Liberation Sans", sans-serif' font-size="45.3" text-anchor="start" fill="#000" font-weight="bold" transform="translate(178.20 512.10)">b</text>
<clipPath id="cpc"><rect x="163.0" y="832.45" width="999.6400000000001" height="349.72"/></clipPath>
<g clip-path="url(#cpc)">
<path d="M163 1045.5L163.4 1045.8L163.8 1046.8L164.2 1042L164.6 1045L165 1037.3L165.3 1046.2L165.7 1053.2L166.1 1041.9L166.5 1041.2L166.9 1048.4L167.3 1041.8L167.7 1042L168.1 1046.9L168.5 1047.1L168.9 1030.5L169.3 1037.5L169.7 1035.7L170 1030.1L170.4 1042.8L170.8 1037.7L171.2 1032L171.6 1026.7L172 1030.1L172.4 1031.2L172.8 1029.5L173.2 1028.6L173.6 1018.7L174 1038.2L174.3 1016.3L174.7 1031.6L175.1 1024.5L175.5 1020.8L175.9 1030.4L176.3 1028.9L176.7 1022.6L177.1 1023.2L177.5 1019.6L177.9 1021.2L178.3 1016.7L178.6 1017L179 1022.8L179.4 1019L179.8 1015.6L180.2 1030.1L180.6 1025.5L181 1019L181.4 1019L181.8 1023.5L182.2 1021.6L182.6 1005L183 1011.8L183.3 1014.2L183.7 1005.2L184.1 1004.7L184.5 1015.1L184.9 1000.5L185.3 1018.8L185.7 1024.6L186.1 1017.5L186.5 1007.5L186.9 1009.2L187.3 996.8L187.6 999.5L188 1009.2L188.4 1014.4L188.8 1015.6L189.2 1003.3L189.6 1013.1L190 1005.5L190.4 1008.5L190.8 1003.1L191.2 992.7L191.6 1004.1L192 994.5L192.3 1007.4L192.7 1014L193.1 1000.7L193.5 1024L193.9 1003.6L194.3 1016.2L194.7 1010.7L195.1 1015.2L195.5 1009.1L195.9 1014.7L196.3 1015.3L196.6 1009.3L197 1003L197.4 1006.6L197.8 1002.6L198.2 1015.3L198.6 1004.7L199 1007.2L199.4 1002.9L199.8 1005.3L200.2 1010.3L200.6 1002.2L200.9 1011.2L201.3 997.2L201.7 990.9L202.1 994.3L202.5 1009.4L202.9 1003.4L203.3 997.3L203.7 1000.7L204.1 999L204.5 996.3L204.9 1006L205.3 997L205.6 995.7L206 994.7L206.4 1005.9L206.8 997.2L207.2 998.6L207.6 994.8L208 1008.8L208.4 1004.2L208.8 1003.5L209.2 994.2L209.6 1003.3L209.9 1007.1L210.3 1001.4L210.7 991.5L211.1 983.1L211.5 986L211.9 989.4L212.3 1001.7L212.7 991.3L213.1 992.1L213.5 988L213.9 992.1L214.2 988.4L214.6 997.1L215 991.5L215.4 992.8L215.8 971.3L216.2 1001.2L216.6 997.4L217 986.3L217.4 993.9L217.8 976.2L218.2 984.3L218.6 986.8L218.9 990.8L219.3 984.8L219.7 982.5L220.1 987.9L220.5 986.6L220.9 984.8L221.3 1002.9L221.7 999.8L222.1 983.5L222.5 983.1L222.9 985.2L223.2 986.4L223.6 984.2L224 991L224.4 990.2L224.8 983.6L225.2 992.5L225.6 985.3L226 982.8L226.4 989.2L226.8 976.2L227.2 980.4L227.6 982.1L227.9 986.2L228.3 974.9L228.7 984.6L229.1 971.2L229.5 970.2L229.9 981.7L230.3 974.5L230.7 967.3L231.1 977.5L231.5 981.5L231.9 976.6L232.2 983.6L232.6 980.2L233 990.3L233.4 986.8L233.8 982.3L234.2 984.5L234.6 986.1L235 990.3L235.4 990L235.8 983L236.2 985.6L236.5 982L236.9 985.9L237.3 986.6L237.7 988.7L238.1 978.4L238.5 985.4L238.9 987.4L239.3 975.8L239.7 986.1L240.1 977.9L240.5 974.6L240.9 973.5L241.2 991.9L241.6 984.2L242 979.2L242.4 981.9L242.8 988.6L243.2 971.8L243.6 985.9L244 990.7L244.4 984.7L244.8 987.8L245.2 983.2L245.5 984.8L245.9 985.1L246.3 990.1L246.7 967.4L247.1 981.2L247.5 994.3L247.9 982.8L248.3 984.4L248.7 974L249.1 981.2L249.5 983.6L249.9 973.5L250.2 977.3L250.6 963.6L251 985.2L251.4 990.3L251.8 973.9L252.2 979.7L252.6 970.1L253 979.5L253.4 972.3L253.8 983.1L254.2 972.7L254.5 985.2L254.9 991.4L255.3 983.9L255.7 982.8L256.1 969.8L256.5 978.5L256.9 969.7L257.3 973.4L257.7 988.8L258.1 971.8L258.5 979.1L258.8 973.2L259.2 971.8L259.6 978.3L260 971.9L260.4 982.4L260.8 983.6L261.2 969.3L261.6 978.8L262 975.4L262.4 971.9L262.8 968.7L263.2 979.1L263.5 978.5L263.9 967.9L264.3 977.2L264.7 971.8L265.1 973L265.5 975.8L265.9 973.2L266.3 974.9L266.7 977.2L267.1 964L267.5 969.8L267.8 978.7L268.2 977.8L268.6 982.2L269 975.4L269.4 980.1L269.8 974.8L270.2 979.8L270.6 982.1L271 979.2L271.4 973.7L271.8 971.5L272.2 972.7L272.5 974.8L272.9 969.9L273.3 971.7L273.7 960.9L274.1 972.3L274.5 974.1L274.9 971.7L275.3 974.9L275.7 974.4L276.1 978.5L276.5 984.9L276.8 969.7L277.2 986.9L277.6 990.9L278 973.6L278.4 970.4L278.8 977.4L279.2 981.2L279.6 978.5L280 978.1L280.4 979.6L280.8 982.8L281.1 977.7L281.5 980.4L281.9 975.4L282.3 977.2L282.7 979.7L283.1 967.5L283.5 981.6L283.9 980.9L284.3 966.6L284.7 973.5L285.1 973.7L285.5 979L285.8 996.7L286.2 977.1L286.6 990.6L287 965.7L287.4 972.5L287.8 981.4L288.2 978.9L288.6 968.4L289 976.2L289.4 966.3L289.8 971.6L290.1 973.6L290.5 965.7L290.9 969.6L291.3 969.1L291.7 979.6L292.1 959.7L292.5 973.9L292.9 977.4L293.3 972.7L293.7 972.5L294.1 970.8L294.4 965.4L294.8 970.5L295.2 966.9L295.6 968.6L296 968L296.4 962.4L296.8 979.3L297.2 984.4L297.6 966.7L298 973.6L298.4 975.2L298.8 962.6L299.1 969.3L299.5 967L299.9 964.9L300.3 971.2L300.7 963.1L301.1 969.2L301.5 971.7L301.9 971L302.3 961L302.7 968.9L303.1 965.3L303.4 972.3L303.8 970.6L304.2 974.9L304.6 966.1L305 968.3L305.4 970L305.8 958.6L306.2 969L306.6 963.2L307 958.7L307.4 968.5L307.8 959.7L308.1 962.6L308.5 955L308.9 952.5L309.3 968.2L309.7 970L310.1 955.5L310.5 971.2L310.9 965.8L311.3 961.5L311.7 957L312.1 961.4L312.4 965.5L312.8 964.5L313.2 960.5L313.6 972.6L314 963.1L314.4 982.3L314.8 965.4L315.2 962.7L315.6 971.5L316 969.2L316.4 960.8L316.7 956.7L317.1 971.8L317.5 960.9L317.9 961.2L318.3 970.3L318.7 962.4L319.1 959.2L319.5 957L319.9 958.5L320.3 953.4L320.7 949.9L321.1 969.5L321.4 962.3L321.8 973.3L322.2 968.2L322.6 970.1L323 962.4L323.4 950.9L323.8 974.1L324.2 962.1L324.6 968.3L325 960.3L325.4 956.2L325.7 970.9L326.1 970.9L326.5 977.2L326.9 973.7L327.3 964.8L327.7 961.5L328.1 965.5L328.5 973L328.9 966.4L329.3 978.1L329.7 976.3L330.1 966.2L330.4 967.4L330.8 971.1L331.2 970.4L331.6 975.5L332 962.4L332.4 964.3L332.8 976.3L333.2 964.5L333.6 1006.2L334 966.2L334.4 964L334.7 972.2L335.1 969.8L335.5 978.2L335.9 974.1L336.3 961.3L336.7 965.8L337.1 967.5L337.5 975.5L337.9 978L338.3 971.3L338.7 980.8L339 979.3L339.4 975.7L339.8 964.9L340.2 985.6L340.6 976.4L341 983.6L341.4 975L341.8 975.4L342.2 993L342.6 970.4L343 988.7L343.4 989.1L343.7 985.1L344.1 976.9L344.5 983.6L344.9 979.7L345.3 980.2L345.7 993.6L346.1 994L346.5 983L346.9 987.6L347.3 983.2L347.7 981.1L348 981.4L348.4 981.4L348.8 983.6L349.2 985.4L349.6 974L350 981.5L350.4 978.5L350.8 974.3L351.2 981.5L351.6 981.8L352 987.4L352.4 993.3L352.7 986.2L353.1 984.3L353.5 992.3L353.9 978.4L354.3 981.4L354.7 981.4L355.1 988.2L355.5 977L355.9 972.1L356.3 992.6L356.7 975.5L357 983.6L357.4 981.6L357.8 995L358.2 981.6L358.6 987L359 987.9L359.4 989.2L359.8 988.8L360.2 989.1L360.6 987.4L361 982.4L361.3 991.4L361.7 975.7L362.1 993.2L362.5 989.5L362.9 988.6L363.3 992.2L363.7 994L364.1 1008.4L364.5 983.8L364.9 998.1L365.3 998.2L365.7 1002.3L366 992.1L366.4 997.8L366.8 995.6L367.2 983.7L367.6 981.8L368 983.8L368.4 987.6L368.8 985.4L369.2 989.1L369.6 985.7L370 987.9L370.3 994.8L370.7 977.2L371.1 990.3L371.5 1001.1L371.9 986.2L372.3 977L372.7 983.8L373.1 989L373.5 985.6L373.9 973.3L374.3 990.6L374.7 988.6L375 991.9L375.4 980.1L375.8 984.2L376.2 979.5L376.6 979.2L377 986.6L377.4 977.3L377.8 982.2L378.2 982.4L378.6 976.2L379 978.7L379.3 991.8L379.7 995.4L380.1 972.9L380.5 982.8L380.9 983.4L381.3 976.5L381.7 971.3L382.1 979.2L382.5 972.4L382.9 984.3L383.3 985.6L383.6 1006.2L384 972.1L384.4 977.7L384.8 974.9L385.2 967.6L385.6 983.8L386 959.7L386.4 973.7L386.8 986.3L387.2 967L387.6 961.3L388 973.7L388.3 977.7L388.7 967.3L389.1 968.1L389.5 987L389.9 974.6L390.3 972.9L390.7 982.9L391.1 976.1L391.5 980L391.9 974.1L392.3 967.1L392.6 964.2L393 973.5L393.4 972.4L393.8 976.9L394.2 973.4L394.6 961.1L395 970.7L395.4 977.3L395.8 973.4L396.2 970.6L396.6 966.6L396.9 975.4L397.3 964L397.7 967L398.1 972.2L398.5 968.4L398.9 961.9L399.3 977.2L399.7 973L400.1 968.3L400.5 970.5L400.9 976.9L401.3 973.3L401.6 963L402 969.5L402.4 972.8L402.8 972.6L403.2 973.6L403.6 974.5L404 960.2L404.4 970.3L404.8 962.9L405.2 970.4L405.6 965.3L405.9 966.8L406.3 962.9L406.7 958.2L407.1 967.9L407.5 976.5L407.9 964.6L408.3 957.2L408.7 959.4L409.1 968.4L409.5 967.2L409.9 978.4L410.3 973.4L410.6 965.5L411 959.7L411.4 958.1L411.8 969.4L412.2 971.6L412.6 980.4L413 973.9L413.4 972L413.8 975.4L414.2 960.8L414.6 978.1L414.9 958.3L415.3 960.6L415.7 969.5L416.1 963.8L416.5 967.8L416.9 957.1L417.3 960.7L417.7 961.1L418.1 972L418.5 961.4L418.9 970.8L419.2 963.4L419.6 958.9L420 970L420.4 973.9L420.8 969.5L421.2 958.3L421.6 974.8L422 967.5L422.4 968.5L422.8 958.9L423.2 971.8L423.6 968.9L423.9 970L424.3 964.5L424.7 971.1L425.1 969.2L425.5 973.1L425.9 963.3L426.3 966.5L426.7 964.9L427.1 977.6L427.5 961.4L427.9 966.4L428.2 957.9L428.6 944.2L429 970.2L429.4 965.8L429.8 969.1L430.2 965.7L430.6 963.2L431 966.5L431.4 967.2L431.8 956L432.2 974.4L432.6 965.4L432.9 970.8L433.3 970L433.7 967.9L434.1 964.7L434.5 972.6L434.9 959.3L435.3 970.2L435.7 966.9L436.1 970.9L436.5 963.2L436.9 971.9L437.2 967.2L437.6 958.5L438 957.4L438.4 970L438.8 972.6L439.2 948.7L439.6 960.9L440 963L440.4 966.1L440.8 964.8L441.2 967.2L441.5 965.9L441.9 972.7L442.3 963.7L442.7 965.4L443.1 967.6L443.5 968.6L443.9 969.1L444.3 961L444.7 966.4L445.1 979.7L445.5 963.7L445.9 965.4L446.2 967.5L446.6 958.7L447 959.6L447.4 962.8L447.8 958.8L448.2 954.5L448.6 966.5L449 963.7L449.4 970.1L449.8 965.1L450.2 969.9L450.5 962.3L450.9 968.9L451.3 962L451.7 966.5L452.1 968.7L452.5 959.8L452.9 972.8L453.3 952.9L453.7 960.5L454.1 967.3L454.5 963.1L454.9 964.2L455.2 961.9L455.6 954.1L456 957.8L456.4 965.9L456.8 968.2L457.2 959.3L457.6 955.7L458 970.1L458.4 957.6L458.8 958.7L459.2 960L459.5 950.6L459.9 960.6L460.3 955.6L460.7 962.8L461.1 955.7L461.5 967.3L461.9 964.3L462.3 963.6L462.7 962.3L463.1 964.4L463.5 974.5L463.8 961.9L464.2 961.5L464.6 954.6L465 966.4L465.4 958.7L465.8 952.4L466.2 960.4L466.6 967.6L467 968.5L467.4 964.8L467.8 958.8L468.2 967.5L468.5 956.6L468.9 967L469.3 957.2L469.7 955.7L470.1 964.4L470.5 951L470.9 962.5L471.3 974.1L471.7 960.8L472.1 958.2L472.5 963L472.8 955.9L473.2 951.4L473.6 958.2L474 957.3L474.4 954.1L474.8 960.1L475.2 956L475.6 961.9L476 966.8L476.4 958.4L476.8 964.3L477.1 960.7L477.5 959.8L477.9 958.3L478.3 972.3L478.7 959.5L479.1 966.3L479.5 965.7L479.9 952.8L480.3 966.1L480.7 951.3L481.1 962.9L481.5 953.8L481.8 955.4L482.2 962L482.6 954.2L483 976.7L483.4 958L483.8 960.6L484.2 955.3L484.6 962.1L485 957L485.4 960.2L485.8 954.3L486.1 952.9L486.5 965.5L486.9 946.7L487.3 957.6L487.7 944.3L488.1 959L488.5 955.2L488.9 947.1L489.3 957.2L489.7 949.2L490.1 957L490.5 954.2L490.8 955.3L491.2 953.3L491.6 942.8L492 958.5L492.4 953L492.8 956.8L493.2 953.8L493.6 953.8L494 953.2L494.4 950.8L494.8 941.1L495.1 962.2L495.5 954.4L495.9 949.8L496.3 944.9L496.7 960L497.1 939.9L497.5 948.5L497.9 939.9L498.3 946.7L498.7 951.2L499.1 955L499.4 949.4L499.8 949.8L500.2 959.6L500.6 950L501 952.1L501.4 947.8L501.8 956.5L502.2 954.8L502.6 952.3L503 947.7L503.4 953.1L503.8 959.5L504.1 955.9L504.5 942.7L504.9 943.9L505.3 948.5L505.7 943.2L506.1 950.5L506.5 947.9L506.9 947.1L507.3 937.9L507.7 944.1L508.1 950.6L508.4 946.3L508.8 948.8L509.2 939.7L509.6 942.2L510 943.4L510.4 950.2L510.8 942.2L511.2 944.1L511.6 957.2L512 949.3L512.4 946.4L512.8 947.3L513.1 946.4L513.5 945.2L513.9 941.8L514.3 941.8L514.7 945.4L515.1 951.6L515.5 958.5L515.9 951.5L516.3 947.1L516.7 943.2L517.1 933.6L517.4 941.2L517.8 953.7L518.2 942.9L518.6 950.2L519 952.7L519.4 950.1L519.8 942.2L520.2 948.3L520.6 942.6L521 946.5L521.4 948.8L521.7 944.9L522.1 934.8L522.5 944.7L522.9 937.6L523.3 935.6L523.7 934.8L524.1 941.5L524.5 937.3L524.9 940.5L525.3 950.3L525.7 946.1L526.1 945.4L526.4 918.4L526.8 949.1L527.2 956.2L527.6 939.3L528 939.3L528.4 942.7L528.8 948.9L529.2 983.6L529.6 932L530 942.8L530.4 937.7L530.7 942.8L531.1 944.9L531.5 941.7L531.9 930.5L532.3 927L532.7 922.6L533.1 941.6L533.5 938.4L533.9 935.9L534.3 930.2L534.7 927.3L535.1 940.6L535.4 935.1L535.8 938.9L536.2 939.8L536.6 930L537 935.2L537.4 932.4L537.8 928.8L538.2 930.8L538.6 923.6L539 929.1L539.4 934.2L539.7 938.3L540.1 934.3L540.5 930.3L540.9 933.4L541.3 940.8L541.7 936.9L542.1 947.1L542.5 923.5L542.9 929.2L543.3 941.5L543.7 935.1L544 930.3L544.4 932L544.8 938.1L545.2 949.3L545.6 926.5L546 938.9L546.4 926.8L546.8 926.8L547.2 934.7L547.6 933.2L548 931L548.4 932.9L548.7 931.2L549.1 931.7L549.5 919.9L549.9 924.5L550.3 936.5L550.7 936.5L551.1 927.5L551.5 925.5L551.9 931.7L552.3 942.8L552.7 920.2L553 937L553.4 928.4L553.8 931.6L554.2 931.5L554.6 934.1L555 932.8L555.4 922.4L555.8 915.9L556.2 925.7L556.6 924L557 922.3L557.3 920.7L557.7 928.2L558.1 920.1L558.5 926.7L558.9 927.1L559.3 941.9L559.7 924.2L560.1 931.9L560.5 920.3L560.9 920.4L561.3 928.7L561.7 920.8L562 922.7L562.4 922.8L562.8 916.3L563.2 917L563.6 922.1L564 928.3L564.4 914.1L564.8 924.8L565.2 920.1L565.6 916.6L566 912.1L566.3 912.8L566.7 916.8L567.1 910.8L567.5 911.7L567.9 902L568.3 910.7L568.7 912.5L569.1 919.1L569.5 912.3L569.9 916.9L570.3 921.4L570.7 915L571 904.5L571.4 904.7L571.8 911.3L572.2 916.9L572.6 913.6L573 919.2L573.4 907.7L573.8 906.4L574.2 913.3L574.6 911.4L575 910.6L575.3 913.6L575.7 906.2L576.1 914.6L576.5 910.9L576.9 900.7L577.3 910L577.7 903L578.1 899.4L578.5 901L578.9 899.2L579.3 902.9L579.6 898.3L580 904.2L580.4 910.9L580.8 905L581.2 906.2L581.6 913.7L582 902.3L582.4 900.3L582.8 912.7L583.2 911.1L583.6 907.4L584 908.6L584.3 898.2L584.7 908.3L585.1 901.2L585.5 911.6L585.9 906.6L586.3 901L586.7 907.8L587.1 917.7L587.5 899.3L587.9 898.5L588.3 895.6L588.6 892.6L589 903.4L589.4 903.7L589.8 908.6L590.2 893.8L590.6 896.9L591 898.2L591.4 885.8L591.8 896.1L592.2 895.6L592.6 901.8L593 891.5L593.3 898L593.7 889.3L594.1 885.1L594.5 897.1L594.9 887.3L595.3 905.4L595.7 894.7L596.1 893.7L596.5 893.4L596.9 887.4L597.3 877.9L597.6 882.6L598 886.8L598.4 891.6L598.8 895.4L599.2 890.8L599.6 893L600 894.9L600.4 886.5L600.8 881.9L601.2 895.6L601.6 880.1L601.9 885.2L602.3 872.7L602.7 890.6L603.1 880L603.5 893.6L603.9 890.5L604.3 885.1L604.7 885L605.1 881.8L605.5 893.1L605.9 887.8L606.3 891.2L606.6 887.1L607 881.9L607.4 876.9L607.8 894.9L608.2 883.9L608.6 886.7L609 884L609.4 880.3L609.8 880.6L610.2 893L610.6 876.4L610.9 880.1L611.3 885.8L611.7 877.2L612.1 881.1L612.5 894.6L612.9 879.6L613.3 872.7L613.7 882L614.1 887.7L614.5 877.2L614.9 886.2L615.3 877.5L615.6 875.8L616 882L616.4 890.6L616.8 876.6L617.2 879.1L617.6 883.8L618 867.7L618.4 879.4L618.8 892L619.2 872.6L619.6 882.4L619.9 883L620.3 870L620.7 881.8L621.1 879.6L621.5 884.6L621.9 882.5L622.3 877.9L622.7 878.2L623.1 872.4L623.5 873.4L623.9 885.3L624.2 881.4L624.6 880.4L625 881.8L625.4 882.4L625.8 873.1L626.2 877.8L626.6 876.4L627 877.5L627.4 881.4L627.8 887.1L628.2 881.2L628.6 880L628.9 876.1L629.3 881.9L629.7 880.4L630.1 881.3L630.5 882.1L630.9 869.7L631.3 871.3L631.7 870L632.1 870.5L632.5 884.8L632.9 870L633.2 879.9L633.6 874.3L634 880.2L634.4 879.2L634.8 886.2L635.2 891L635.6 879.6L636 878L636.4 874.6L636.8 875.8L637.2 872L637.5 873.3L637.9 875.7L638.3 877.7L638.7 876.6L639.1 866.9L639.5 879.7L639.9 878L640.3 872.1L640.7 876.2L641.1 874L641.5 869.7L641.9 876.8L642.2 882.9L642.6 870.8L643 888.4L643.4 869.8L643.8 877.6L644.2 878.4L644.6 875.3L645 882.9L645.4 884.3L645.8 886.5L646.2 879.3L646.5 878.6L646.9 887.3L647.3 871.2L647.7 877.7L648.1 868.3L648.5 871.4L648.9 870.9L649.3 868.2L649.7 874.9L650.1 868.5L650.5 865.3L650.9 872.3L651.2 860.5L651.6 861.7L652 859.2L652.4 869.6L652.8 870.7L653.2 867.4L653.6 867.9L654 862.1L654.4 866.4L654.8 866.4L655.2 867.8L655.5 868.8L655.9 860.3L656.3 867.3L656.7 868.7L657.1 860.9L657.5 870.9L657.9 875.8L658.3 862.6L658.7 861.2L659.1 862.3L659.5 871.7L659.8 868L660.2 876.7L660.6 867.9L661 866.5L661.4 870.5L661.8 864.1L662.2 863.9L662.6 867.8L663 861.7L663.4 867.9L663.8 863.1L664.2 859.1L664.5 855.5L664.9 874.9L665.3 868.3L665.7 872.6L666.1 864.8L666.5 864.9L666.9 863.9L667.3 873.4L667.7 863.6L668.1 870L668.5 871.7L668.8 866L669.2 867.4L669.6 862L670 869.2L670.4 850.8L670.8 868.6L671.2 871.2L671.6 872.5L672 866.3L672.4 854.6L672.8 865.1L673.2 871.2L673.5 871.9L673.9 865.8L674.3 873.1L674.7 849.7L675.1 866.8L675.5 869.8L675.9 862.5L676.3 871.3L676.7 869.7L677.1 868.7L677.5 868.5L677.8 864.6L678.2 865.9L678.6 867.4L679 857.7L679.4 878.4L679.8 860.1L680.2 872.5L680.6 859.4L681 865.7L681.4 876.6L681.8 875.1L682.1 870.5L682.5 878L682.9 874.6L683.3 862.6L683.7 875.1L684.1 871.3L684.5 874.7L684.9 872.9L685.3 872.7L685.7 867.5L686.1 851.7L686.5 869.2L686.8 886.8L687.2 879L687.6 866.1L688 871.5L688.4 872.3L688.8 870.1L689.2 879L689.6 880.8L690 880.2L690.4 875.8L690.8 874.3L691.1 870.8L691.5 874.1L691.9 879.2L692.3 873.3L692.7 882.9L693.1 876L693.5 879L693.9 878.6L694.3 881L694.7 877.4L695.1 885.5L695.5 882.3L695.8 878.7L696.2 876.7L696.6 887.7L697 876.9L697.4 877.8L697.8 879.5L698.2 879.8L698.6 878.4L699 885.4L699.4 894.3L699.8 890.6L700.1 879.6L700.5 886.5L700.9 876L701.3 870.5L701.7 885.4L702.1 875.5L702.5 896.3L702.9 876.3L703.3 878.3L703.7 882.4L704.1 885.5L704.4 887L704.8 886.9L705.2 880.8L705.6 883.3L706 886.8L706.4 886.5L706.8 878.3L707.2 882.8L707.6 885.9L708 876.9L708.4 881.1L708.8 887.3L709.1 879.3L709.5 888L709.9 884.8L710.3 879.6L710.7 879.5L711.1 886.7L711.5 875L711.9 878.7L712.3 878.6L712.7 881.1L713.1 883.6L713.4 882.9L713.8 872.4L714.2 879.1L714.6 884.6L715 882.5L715.4 889.2L715.8 885.2L716.2 896.2L716.6 893.6L717 888.7L717.4 871.8L717.7 885.3L718.1 881.9L718.5 891.5L718.9 873.1L719.3 881.3L719.7 888.8L720.1 888.5L720.5 886.3L720.9 892.1L721.3 887.9L721.7 884.1L722.1 895.3L722.4 879.2L722.8 879.2L723.2 885.6L723.6 882.4L724 884.1L724.4 888.2L724.8 880.1L725.2 883L725.6 886.4L726 891.8L726.4 886.5L726.7 876.9L727.1 879.3L727.5 885.9L727.9 875.4L728.3 884.6L728.7 884L729.1 884.9L729.5 892.4L729.9 882L730.3 879.1L730.7 885.9L731.1 871.2L731.4 892.8L731.8 884.6L732.2 887.9L732.6 883L733 886.5L733.4 885.1L733.8 892.9L734.2 886.8L734.6 884.9L735 890.1L735.4 898.9L735.7 898.4L736.1 895.9L736.5 889.9L736.9 897.7L737.3 889.7L737.7 888.6L738.1 895.2L738.5 884.4L738.9 894.8L739.3 886.6L739.7 877.5L740 897.4L740.4 889.6L740.8 881.4L741.2 889L741.6 894.9L742 890.9L742.4 899L742.8 892.8L743.2 890.2L743.6 894.8L744 893.1L744.4 902.8L744.7 884.7L745.1 895.4L745.5 891.2L745.9 893.1L746.3 893L746.7 889.6L747.1 888.8L747.5 893.2L747.9 896.4L748.3 884.3L748.7 900.4L749 885.9L749.4 895.9L749.8 891.6L750.2 886.1L750.6 887.9L751 890L751.4 884.5L751.8 887.1L752.2 891.9L752.6 891.1L753 905.1L753.4 889.7L753.7 878.3L754.1 888L754.5 886.9L754.9 892.9L755.3 901.1L755.7 894L756.1 889.8L756.5 896.4L756.9 898.1L757.3 891.4L757.7 887L758 895.1L758.4 879.8L758.8 893.8L759.2 891.1L759.6 897L760 884.9L760.4 900.7L760.8 891.1L761.2 888.6L761.6 886.6L762 886.7L762.3 896.6L762.7 887.6L763.1 893.2L763.5 903.5L763.9 879.5L764.3 889.4L764.7 887.9L765.1 886.1L765.5 892.1L765.9 895.9L766.3 889.7L766.7 887.1L767 885.6L767.4 901.2L767.8 888.1L768.2 903.5L768.6 890.1L769 896.8L769.4 889.2L769.8 888.6L770.2 890.4L770.6 888.3L771 889.1L771.3 892.4L771.7 885.3L772.1 893.7L772.5 897.1L772.9 892.5L773.3 903.7L773.7 894.2L774.1 895L774.5 885.8L774.9 885.7L775.3 905.4L775.7 903.3L776 893.8L776.4 897.1L776.8 888.7L777.2 894.1L777.6 900.4L778 884.1L778.4 908.5L778.8 897.2L779.2 893L779.6 895.9L780 904.3L780.3 907.8L780.7 895.6L781.1 902.4L781.5 901.6L781.9 899.2L782.3 902.7L782.7 892.8L783.1 894.7L783.5 912.2L783.9 900.6L784.3 905.3L784.6 913.6L785 904.4L785.4 905.5L785.8 911.1L786.2 905L786.6 899.6L787 912.4L787.4 914.9L787.8 912.5L788.2 906.5L788.6 888.4L789 914.2L789.3 916L789.7 915.8L790.1 914.7L790.5 900.8L790.9 906.5L791.3 926.5L791.7 915.9L792.1 912.7L792.5 918.4L792.9 916.5L793.3 916.8L793.6 913L794 906.1L794.4 933.4L794.8 915.1L795.2 907.5L795.6 914.8L796 917.6L796.4 914.5L796.8 912.4L797.2 912.6L797.6 915.6L798 927.4L798.3 917L798.7 914.4L799.1 926.2L799.5 934.8L799.9 919.7L800.3 915.8L800.7 930.6L801.1 918.4L801.5 929.1L801.9 925.3L802.3 920.5L802.6 932.9L803 922.8L803.4 929.1L803.8 918L804.2 929.6L804.6 926.1L805 925.1L805.4 930.8L805.8 927.9L806.2 930L806.6 921.6L806.9 932.8L807.3 932.3L807.7 934L808.1 933L808.5 928.8L808.9 934.7L809.3 936.5L809.7 939.5L810.1 938.8L810.5 934.3L810.9 941.8L811.3 934.8L811.6 928.6L812 942.8L812.4 934.3L812.8 952.3L813.2 946.5L813.6 940.5L814 942.4L814.4 950.8L814.8 941.9L815.2 930.9L815.6 942.1L815.9 953.6L816.3 952.1L816.7 957.5L817.1 946.9L817.5 938.8L817.9 943.6L818.3 936.9L818.7 948.1L819.1 946.8L819.5 940.2L819.9 949.3L820.2 940.8L820.6 942.6L821 956L821.4 952.9L821.8 952.8L822.2 954L822.6 951.3L823 958.1L823.4 946.6L823.8 951.8L824.2 952L824.6 952.4L824.9 965L825.3 953.8L825.7 963.5L826.1 949.8L826.5 969.9L826.9 954.7L827.3 967.1L827.7 962.4L828.1 958.6L828.5 969.6L828.9 966.3L829.2 960.2L829.6 972.6L830 977.4L830.4 963.8L830.8 960.7L831.2 957.5L831.6 964.2L832 965.5L832.4 961.4L832.8 967.8L833.2 965.4L833.6 985.2L833.9 970.6L834.3 975.8L834.7 976.9L835.1 971.8L835.5 974L835.9 962.8L836.3 963.1L836.7 967.7L837.1 962.1L837.5 973.5L837.9 985.2L838.2 981.6L838.6 971.6L839 973.9L839.4 974.4L839.8 976.1L840.2 987.4L840.6 973.9L841 974.9L841.4 974.9L841.8 981.6L842.2 983.7L842.5 978.6L842.9 994.1L843.3 985L843.7 985.7L844.1 976.6L844.5 976.7L844.9 976.5L845.3 987L845.7 989.9L846.1 985.7L846.5 982.7L846.9 988.7L847.2 1004L847.6 986.3L848 990.7L848.4 999.1L848.8 995L849.2 992.3L849.6 995.1L850 994.1L850.4 992.5L850.8 999.6L851.2 986.4L851.5 1000.1L851.9 1004.1L852.3 1002.2L852.7 1001.6L853.1 992L853.5 997L853.9 1000.6L854.3 998L854.7 1001.5L855.1 1000.7L855.5 995.9L855.9 998.2L856.2 999.9L856.6 1000.5L857 1003L857.4 997.2L857.8 1002L858.2 998.1L858.6 1012.1L859 994.7L859.4 1004.9L859.8 1009.4L860.2 998.4L860.5 995.6L860.9 997.1L861.3 999.9L861.7 1004.6L862.1 1005.4L862.5 997L862.9 1007.8L863.3 1002.7L863.7 1000.4L864.1 1001.7L864.5 1019.5L864.8 1008.4L865.2 1021.9L865.6 1004L866 1005.7L866.4 1012.2L866.8 1017.8L867.2 1014.2L867.6 1016.6L868 1008.3L868.4 1010.7L868.8 999.9L869.2 1015.3L869.5 1018.7L869.9 998.8L870.3 1015.3L870.7 1020.3L871.1 1008.2L871.5 1003.5L871.9 1012.4L872.3 1011.3L872.7 1010.4L873.1 1019.4L873.5 1015.8L873.8 1011.6L874.2 1022.6L874.6 992.1L875 1026.7L875.4 1024.7L875.8 1021.9L876.2 1023.5L876.6 1021.1L877 1015.8L877.4 1008.9L877.8 1028.6L878.2 1023.9L878.5 1027.7L878.9 1018.6L879.3 1022.7L879.7 1024.1L880.1 1022.2L880.5 1018.2L880.9 1025.3L881.3 1020.6L881.7 1028L882.1 1011.8L882.5 1021.5L882.8 1013.2L883.2 1010.6L883.6 1020.6L884 1030L884.4 1018.9L884.8 1027.3L885.2 1016.6L885.6 1025.5L886 1017.6L886.4 1018.4L886.8 1028.6L887.1 1010.7L887.5 1002.4L887.9 1024.6L888.3 1019L888.7 1023.8L889.1 1017.8L889.5 1017.6L889.9 1015.2L890.3 1012.5L890.7 1008.4L891.1 1022.2L891.5 1028.8L891.8 1017.2L892.2 1017.3L892.6 1012.2L893 1007.4L893.4 1014.9L893.8 1019.6L894.2 1016.7L894.6 1019.7L895 1016.5L895.4 1025.8L895.8 1015.1L896.1 1022.6L896.5 1025.3L896.9 1017.3L897.3 1016.4L897.7 1015.8L898.1 1025L898.5 1028.3L898.9 1026.4L899.3 1010.6L899.7 1012.6L900.1 1010L900.4 1008.7L900.8 1010.1L901.2 1008.8L901.6 1016.3L902 1005.1L902.4 1006.7L902.8 1020.4L903.2 1010L903.6 1005.3L904 981.8L904.4 1017.1L904.8 1012.7L905.1 1013L905.5 1020.7L905.9 1016.7L906.3 1015.1L906.7 1024.3L907.1 1014.2L907.5 1018.6L907.9 1020.1L908.3 1019.6L908.7 1010L909.1 1008.7L909.4 1016.3L909.8 1015.1L910.2 1025.9L910.6 1013.1L911 1002.8L911.4 1005.2L911.8 1004.9L912.2 1010.4L912.6 1015L913 1010.9L913.4 1003.4L913.8 1005.9L914.1 1015.4L914.5 1014.6L914.9 1005.3L915.3 1006.6L915.7 998.8L916.1 1012.9L916.5 1018.2L916.9 1006.1L917.3 1013.9L917.7 1007.7L918.1 1006.5L918.4 1003.8L918.8 990.7L919.2 998.9L919.6 1005.1L920 1007.5L920.4 995.6L920.8 1003.3L921.2 1009.6L921.6 999.8L922 1008L922.4 998.5L922.7 991.5L923.1 1008.1L923.5 1000.3L923.9 1004.1L924.3 1003.6L924.7 994.8L925.1 1013.7L925.5 1005.3L925.9 992.8L926.3 1003.8L926.7 1007.1L927.1 1002.9L927.4 999.3L927.8 997.9L928.2 994.9L928.6 991.4L929 995.2L929.4 996.6L929.8 996.1L930.2 1005.6L930.6 995.2L931 990.3L931.4 1001.1L931.7 994.5L932.1 992.8L932.5 997.1L932.9 994.3L933.3 1002.5L933.7 999.9L934.1 993.1L934.5 986L934.9 1001.9L935.3 987.7L935.7 996.9L936.1 1000.8L936.4 1008.5L936.8 997.6L937.2 993.8L937.6 1004.2L938 997.6L938.4 996.4L938.8 993.4L939.2 994.8L939.6 996.4L940 992.2L940.4 994L940.7 997.8L941.1 998.9L941.5 998.3L941.9 1009.8L942.3 996L942.7 1000.9L943.1 991.2L943.5 994.4L943.9 992.7L944.3 999.1L944.7 991.3L945 993.7L945.4 1003.2L945.8 1003.4L946.2 1002.9L946.6 989.1L947 990.9L947.4 993L947.8 988.2L948.2 988.2L948.6 1001.1L949 998L949.4 994.9L949.7 990.2L950.1 989.8L950.5 997.1L950.9 984.3L951.3 990.7L951.7 992.2L952.1 993.8L952.5 991.8L952.9 1005.1L953.3 998.7L953.7 998.3L954 991.1L954.4 991.6L954.8 997L955.2 972.8L955.6 1011.3L956 999.6L956.4 983.9L956.8 990.6L957.2 1004.9L957.6 990L958 991.6L958.4 986.5L958.7 986.3L959.1 993.3L959.5 996.4L959.9 994.7L960.3 994.1L960.7 998.3L961.1 990.8L961.5 992.9L961.9 994.8L962.3 1006.1L962.7 988.2L963 996.1L963.4 995.7L963.8 986.1L964.2 997.8L964.6 979.5L965 994.4L965.4 1005.6L965.8 996.8L966.2 1000L966.6 996L967 998.4L967.3 995.1L967.7 993L968.1 996.2L968.5 990.1L968.9 1002.4L969.3 996.1L969.7 993.4L970.1 993L970.5 984.8L970.9 996L971.3 990L971.7 994.7L972 994L972.4 1001.8L972.8 994.9L973.2 998.9L973.6 982.8L974 1000.1L974.4 992.9L974.8 989L975.2 993.3L975.6 1009.5L976 1002.9L976.3 991.5L976.7 1007.3L977.1 999.6L977.5 993.2L977.9 1010.8L978.3 1005.9L978.7 1005.9L979.1 1003.8L979.5 997.1L979.9 1006.8L980.3 1005.1L980.6 994.8L981 995.7L981.4 1003.7L981.8 1007.7L982.2 1010.2L982.6 1001.3L983 1003.6L983.4 1000.7L983.8 1004L984.2 1003.3L984.6 1014.6L985 1002.9L985.3 1018.4L985.7 998.8L986.1 1015.9L986.5 1010.3L986.9 1014.6L987.3 1001.2L987.7 1009.1L988.1 1005.1L988.5 1005.4L988.9 1014.9L989.3 1014.1L989.6 1016.6L990 1014.6L990.4 1006.3L990.8 1008.5L991.2 1008.2L991.6 1017.3L992 1019.3L992.4 1007.6L992.8 1012.7L993.2 1014.2L993.6 1017.5L994 1013.9L994.3 1011.1L994.7 1020.2L995.1 1022.3L995.5 1028.2L995.9 1021.4L996.3 1026.6L996.7 1030.1L997.1 1020.3L997.5 1021.1L997.9 1022.3L998.3 1032.6L998.6 1028.6L999 1026.8L999.4 1012.7L999.8 1021.6L1000.2 1018.9L1000.6 1025.4L1001 1032.6L1001.4 1014.8L1001.8 1025L1002.2 1025.3L1002.6 1022.4L1002.9 1028.7L1003.3 1026.3L1003.7 1036.3L1004.1 1027.6L1004.5 1036.4L1004.9 1037.9L1005.3 1027.5L1005.7 1036.3L1006.1 1034.2L1006.5 1031.6L1006.9 1032.9L1007.3 1024.7L1007.6 1032.8L1008 1029.2L1008.4 1028.8L1008.8 1042.9L1009.2 1042.9L1009.6 1032.3L1010 1038.1L1010.4 1041.9L1010.8 1031L1011.2 1034.1L1011.6 1039.4L1011.9 1033.5L1012.3 1053.6L1012.7 1038L1013.1 1032.1L1013.5 1033.8L1013.9 1037.7L1014.3 1030.5L1014.7 1034.2L1015.1 1039.4L1015.5 1036.1L1015.9 1032.9L1016.3 1034L1016.6 1039.9L1017 1054.8L1017.4 1025.3L1017.8 1039.3L1018.2 1051L1018.6 1044.7L1019 1037.5L1019.4 1051.2L1019.8 1038.5L1020.2 1043.6L1020.6 1025.9L1020.9 1050L1021.3 1045.1L1021.7 1037.2L1022.1 1041.8L1022.5 1049.2L1022.9 1047.7L1023.3 1045.7L1023.7 1057.5L1024.1 1044.5L1024.5 1045.1L1024.9 1051.6L1025.2 1051.7L1025.6 1047L1026 1041L1026.4 1052.1L1026.8 1050.7L1027.2 1052.2L1027.6 1049.8L1028 1046.9L1028.4 1057.4L1028.8 1064.7L1029.2 1053.8L1029.6 1044.8L1029.9 1058.7L1030.3 1049.5L1030.7 1053.2L1031.1 1061.2L1031.5 1054.4L1031.9 1060.6L1032.3 1059.9L1032.7 1059.3L1033.1 1064.3L1033.5 1060.5L1033.9 1048.9L1034.2 1056.3L1034.6 1051L1035 1065.3L1035.4 1044L1035.8 1056.4L1036.2 1058.2L1036.6 1064.1L1037 1066.9L1037.4 1061.2L1037.8 1053.2L1038.2 1060.1L1038.6 1047.6L1038.9 1063.9L1039.3 1071.1L1039.7 1065.3L1040.1 1054.7L1040.5 1055.5L1040.9 1069.4L1041.3 1067.6L1041.7 1056L1042.1 1073.2L1042.5 1059.4L1042.9 1068.7L1043.2 1065.2L1043.6 1066.2L1044 1059L1044.4 1056.6L1044.8 1068L1045.2 1058.7L1045.6 1063L1046 1072L1046.4 1071.5L1046.8 1065.4L1047.2 1069.3L1047.5 1069.6L1047.9 1062.1L1048.3 1065.4L1048.7 1075.3L1049.1 1061L1049.5 1064.3L1049.9 1066L1050.3 1065.6L1050.7 1077.4L1051.1 1068.8L1051.5 1074.6L1051.9 1072.2L1052.2 1060.2L1052.6 1077.8L1053 1062.6L1053.4 1075.3L1053.8 1072.4L1054.2 1067.3L1054.6 1068.5L1055 1080.6L1055.4 1068.7L1055.8 1074.8L1056.2 1072.2L1056.5 1067.7L1056.9 1072.2L1057.3 1080.1L1057.7 1068.1L1058.1 1068.1L1058.5 1070.8L1058.9 1073.6L1059.3 1067.2L1059.7 1066.5L1060.1 1068.8L1060.5 1060.5L1060.8 1067.7L1061.2 1067.1L1061.6 1076.5L1062 1073.3L1062.4 1056.2L1062.8 1081.1L1063.2 1065.8L1063.6 1069.8L1064 1072.2L1064.4 1072.9L1064.8 1072L1065.2 1081.7L1065.5 1063.5L1065.9 1070.2L1066.3 1063.9L1066.7 1068.8L1067.1 1067.7L1067.5 1067.4L1067.9 1069.6L1068.3 1061.2L1068.7 1067.8L1069.1 1068.3L1069.5 1073.9L1069.8 1071.6L1070.2 1063.5L1070.6 1073.5L1071 1065.8L1071.4 1070.2L1071.8 1079.1L1072.2 1066L1072.6 1070.3L1073 1071.2L1073.4 1064L1073.8 1067.5L1074.2 1075L1074.5 1067.2L1074.9 1072.5L1075.3 1073.8L1075.7 1058.8L1076.1 1080.8L1076.5 1070.5L1076.9 1070.4L1077.3 1062.9L1077.7 1061.3L1078.1 1072.3L1078.5 1083.4L1078.8 1057L1079.2 1071.9L1079.6 1068.4L1080 1068.6L1080.4 1069L1080.8 1065.6L1081.2 1071.2L1081.6 1062L1082 1060L1082.4 1068.9L1082.8 1069.2L1083.1 1057.5L1083.5 1055.8L1083.9 1060.4L1084.3 1058.3L1084.7 1075.1L1085.1 1061.6L1085.5 1062.3L1085.9 1064.6L1086.3 1058.5L1086.7 1057.3L1087.1 1063.3L1087.5 1064.7L1087.8 1054.8L1088.2 1066L1088.6 1066.3L1089 1057.2L1089.4 1063L1089.8 1052.1L1090.2 1052.2L1090.6 1055.6L1091 1059.8L1091.4 1060.3L1091.8 1062.9L1092.1 1047.7L1092.5 1056L1092.9 1057.5L1093.3 1058.9L1093.7 1060L1094.1 1067.6L1094.5 1057L1094.9 1053.7L1095.3 1066.1L1095.7 1071L1096.1 1061.8L1096.5 1059.9L1096.8 1055.3L1097.2 1062.6L1097.6 1056.5L1098 1064L1098.4 1070.5L1098.8 1052.7L1099.2 1059.3L1099.6 1062.3L1100 1064.1L1100.4 1056.6L1100.8 1068.5L1101.1 1060L1101.5 1054.7L1101.9 1067.9L1102.3 1052.6L1102.7 1054.4L1103.1 1049.5L1103.5 1057.2L1103.9 1069L1104.3 1071.6L1104.7 1064.4L1105.1 1052L1105.4 1063.9L1105.8 1057.5L1106.2 1059.9L1106.6 1050.3L1107 1062.6L1107.4 1063.4L1107.8 1065.7L1108.2 1059.9L1108.6 1058.6L1109 1060L1109.4 1057L1109.8 1058.8L1110.1 1062.5L1110.5 1059.8L1110.9 1060.9L1111.3 1057.3L1111.7 1058.4L1112.1 1048.5L1112.5 1057.8L1112.9 1064.3L1113.3 1060.4L1113.7 1068.4L1114.1 1060.7L1114.4 1057.9L1114.8 1063.4L1115.2 1053.8L1115.6 1060.9L1116 1066.6L1116.4 1058.6L1116.8 1059.7L1117.2 1064.5L1117.6 1061.7L1118 1069.5L1118.4 1057.7L1118.8 1073.3L1119.1 1066L1119.5 1071L1119.9 1064.7L1120.3 1074.4L1120.7 1062.6L1121.1 1064.1L1121.5 1071.5L1121.9 1061.9L1122.3 1074.5L1122.7 1068L1123.1 1064.1L1123.4 1066.7L1123.8 1061.7L1124.2 1083.4L1124.6 1075.1L1125 1058L1125.4 1074.4L1125.8 1044.4L1126.2 1063.9L1126.6 1062.8L1127 1069.2L1127.4 1073.8L1127.7 1069.2L1128.1 1069L1128.5 1072.8L1128.9 1076.5L1129.3 1067.3L1129.7 1075.5L1130.1 1067.7L1130.5 1069.4L1130.9 1063L1131.3 1065.6L1131.7 1084L1132.1 1069L1132.4 1069.9L1132.8 1055.7L1133.2 1071.4L1133.6 1072.1L1134 1073.1L1134.4 1072.5L1134.8 1076.3L1135.2 1062.8L1135.6 1071.8L1136 1071.5L1136.4 1067.7L1136.7 1083.6L1137.1 1068L1137.5 1080L1137.9 1074.4L1138.3 1087.4L1138.7 1084.7L1139.1 1084.3L1139.5 1080.3L1139.9 1080.3L1140.3 1082.3L1140.7 1077.6L1141.1 1087L1141.4 1092.8L1141.8 1090.5L1142.2 1087.6L1142.6 1079.4L1143 1081.8L1143.4 1082.1L1143.8 1084.7L1144.2 1093.4L1144.6 1093.9L1145 1104.2L1145.4 1094L1145.7 1101.3L1146.1 1097.1L1146.5 1099L1146.9 1106.6L1147.3 1093L1147.7 1109L1148.1 1114.9L1148.5 1104.1L1148.9 1116.8L1149.3 1103.9L1149.7 1111.2L1150 1125.2L1150.4 1120.5L1150.8 1114.6L1151.2 1118.3L1151.6 1110.7L1152 1119.9L1152.4 1122.1L1152.8 1128.3L1153.2 1129.3L1153.6 1126.7L1154 1125.2L1154.4 1125.9L1154.7 1135.8L1155.1 1135.5L1155.5 1102.6L1155.9 1130.9L1156.3 1137.2L1156.7 1143.5L1157.1 1137.1L1157.5 1137.6L1157.9 1143.9L1158.3 1151L1158.7 1138L1159 1151.8L1159.4 1149L1159.8 1150.8L1160.2 1158.4L1160.6 1153.4L1161 1163.8L1161.4 1166L1161.8 1153.7L1162.2 1165.8L1162.6 1167L1163 1176L1163.3 1169L1163.7 1173L1164.1 1177.3" fill="none" stroke="#000" stroke-width="5.6" stroke-linejoin="round"/>
<line x1="299.54" y1="832.45" x2="299.54" y2="1182.17" stroke="#000" stroke-width="5.0"/>
<line x1="886.37" y1="857.80" x2="886.37" y2="1182.17" stroke="#000" stroke-width="5.0"/>
</g>
<rect x="163.00" y="832.45" width="999.64" height="349.72" fill="none" stroke="#000" stroke-width="4.17"/>
<line x1="163.00" y1="1182.17" x2="163.00" y2="1196.47" stroke="#000" stroke-width="4.17"/>
<text font-family='"Liberation Sans", sans-serif' font-size="33.4" text-anchor="middle" fill="#000" transform="translate(163.00 1231.77) scale(0.955 1)">0</text>
<line x1="358.61" y1="1182.17" x2="358.61" y2="1196.47" stroke="#000" stroke-width="4.17"/>
<text font-family='"Liberation Sans", sans-serif' font-size="33.4" text-anchor="middle" fill="#000" transform="translate(358.61 1231.77) scale(0.955 1)">500</text>
<line x1="554.22" y1="1182.17" x2="554.22" y2="1196.47" stroke="#000" stroke-width="4.17"/>
<text font-family='"Liberation Sans", sans-serif' font-size="33.4" text-anchor="middle" fill="#000" transform="translate(554.22 1231.77) scale(0.955 1)">1000</text>
<line x1="749.83" y1="1182.17" x2="749.83" y2="1196.47" stroke="#000" stroke-width="4.17"/>
<text font-family='"Liberation Sans", sans-serif' font-size="33.4" text-anchor="middle" fill="#000" transform="translate(749.83 1231.77) scale(0.955 1)">1500</text>
<line x1="945.44" y1="1182.17" x2="945.44" y2="1196.47" stroke="#000" stroke-width="4.17"/>
<text font-family='"Liberation Sans", sans-serif' font-size="33.4" text-anchor="middle" fill="#000" transform="translate(945.44 1231.77) scale(0.955 1)">2000</text>
<line x1="1141.05" y1="1182.17" x2="1141.05" y2="1196.47" stroke="#000" stroke-width="4.17"/>
<text font-family='"Liberation Sans", sans-serif' font-size="33.4" text-anchor="middle" fill="#000" transform="translate(1141.05 1231.77) scale(0.955 1)">2500</text>
<line x1="148.70" y1="869.58" x2="163.00" y2="869.58" stroke="#000" stroke-width="4.17"/>
<text font-family='"Liberation Sans", sans-serif' font-size="33.4" text-anchor="end" fill="#000" transform="translate(136.90 881.58) scale(0.955 1)">60</text>
<line x1="148.70" y1="991.64" x2="163.00" y2="991.64" stroke="#000" stroke-width="4.17"/>
<text font-family='"Liberation Sans", sans-serif' font-size="33.4" text-anchor="end" fill="#000" transform="translate(136.90 1003.64) scale(0.955 1)">50</text>
<line x1="148.70" y1="1113.70" x2="163.00" y2="1113.70" stroke="#000" stroke-width="4.17"/>
<text font-family='"Liberation Sans", sans-serif' font-size="33.4" text-anchor="end" fill="#000" transform="translate(136.90 1125.70) scale(0.955 1)">40</text>
<text font-family='"Liberation Sans", sans-serif' font-size="45.3" text-anchor="start" fill="#000" font-weight="bold" transform="translate(181.00 879.60)">c</text>
<text font-family='"Liberation Sans", sans-serif' font-size="34.6" text-anchor="middle" fill="#000" transform="translate(663.50 28.00) scale(1.025 1)">pixel along the slit</text>
<text x="31.80" y="273.60" font-family='"DejaVu Sans", sans-serif' font-size="36.6" text-anchor="middle" letter-spacing="-0.8" transform="rotate(-90 31.80 273.60)"><tspan font-style="oblique">D</tspan> (×10<tspan dy="-13" font-size="25.6">−3</tspan><tspan dy="13">)</tspan></text>
<text x="33.00" y="640.00" font-family='"DejaVu Sans", sans-serif' font-size="36.6" text-anchor="middle" letter-spacing="-0.8" transform="rotate(-90 33.00 640.00)"><tspan font-style="oblique">α</tspan> [<tspan dy="-11" font-size="25.6">∘</tspan><tspan dy="11">]</tspan></text>
<text x="33.00" y="1006.00" font-family='"DejaVu Sans", sans-serif' font-size="36.6" text-anchor="middle" letter-spacing="-0.8" transform="rotate(-90 33.00 1006.00)"><tspan font-style="oblique">β</tspan> [<tspan dy="-11" font-size="25.6">∘</tspan><tspan dy="11">]</tspan></text>
<rect x="163.00" y="1338.05" width="405.08" height="395.11" fill="none" stroke="#000" stroke-width="4.17"/>
<line x1="355.90" y1="1733.16" x2="355.90" y2="1747.46" stroke="#000" stroke-width="4.17"/>
<text font-family='"Liberation Sans", sans-serif' font-size="33.4" text-anchor="middle" fill="#000" transform="translate(355.90 1782.76) scale(0.955 1)">6302</text>
<line x1="548.80" y1="1733.16" x2="548.80" y2="1747.46" stroke="#000" stroke-width="4.17"/>
<text font-family='"Liberation Sans", sans-serif' font-size="33.4" text-anchor="middle" fill="#000" transform="translate(548.80 1782.76) scale(0.955 1)">6303</text>
<line x1="259.45" y1="1733.16" x2="259.45" y2="1741.66" stroke="#000" stroke-width="2.6"/>
<line x1="452.35" y1="1733.16" x2="452.35" y2="1741.66" stroke="#000" stroke-width="2.6"/>
<line x1="148.70" y1="1367.20" x2="163.00" y2="1367.20" stroke="#000" stroke-width="4.17"/>
<text font-family='"Liberation Sans", sans-serif' font-size="33.4" text-anchor="end" fill="#000" transform="translate(136.90 1379.20) scale(0.955 1)">1.0</text>
<line x1="148.70" y1="1440.20" x2="163.00" y2="1440.20" stroke="#000" stroke-width="4.17"/>
<text font-family='"Liberation Sans", sans-serif' font-size="33.4" text-anchor="end" fill="#000" transform="translate(136.90 1452.20) scale(0.955 1)">0.5</text>
<line x1="148.70" y1="1513.20" x2="163.00" y2="1513.20" stroke="#000" stroke-width="4.17"/>
<text font-family='"Liberation Sans", sans-serif' font-size="33.4" text-anchor="end" fill="#000" transform="translate(136.90 1525.20) scale(0.955 1)">0.0</text>
<line x1="148.70" y1="1586.20" x2="163.00" y2="1586.20" stroke="#000" stroke-width="4.17"/>
<text font-family='"Liberation Sans", sans-serif' font-size="33.4" text-anchor="end" fill="#000" transform="translate(136.90 1598.20) scale(0.955 1)">−0.5</text>
<line x1="148.70" y1="1659.20" x2="163.00" y2="1659.20" stroke="#000" stroke-width="4.17"/>
<text font-family='"Liberation Sans", sans-serif' font-size="33.4" text-anchor="end" fill="#000" transform="translate(136.90 1671.20) scale(0.955 1)">−1.0</text>
<line x1="148.70" y1="1732.20" x2="163.00" y2="1732.20" stroke="#000" stroke-width="4.17"/>
<text font-family='"Liberation Sans", sans-serif' font-size="33.4" text-anchor="end" fill="#000" transform="translate(136.90 1744.20) scale(0.955 1)">−1.5</text>
<text font-family='"Liberation Sans", sans-serif' font-size="45.3" text-anchor="start" fill="#000" font-weight="bold" transform="translate(183.50 1385.20)">h</text>
<text x="364.94" y="1838.70" font-family='"DejaVu Sans", sans-serif' font-size="36.6" text-anchor="middle" letter-spacing="-0.4"><tspan font-style="oblique">λ</tspan> [<tspan font-style="oblique">A</tspan>]</text>
<text x="381.84" y="1810.60" font-family='"DejaVu Sans", sans-serif' font-size="17" font-weight="bold" text-anchor="start">∘</text>
<rect x="757.50" y="1338.05" width="405.10" height="395.11" fill="none" stroke="#000" stroke-width="4.17"/>
<line x1="950.40" y1="1733.16" x2="950.40" y2="1747.46" stroke="#000" stroke-width="4.17"/>
<text font-family='"Liberation Sans", sans-serif' font-size="33.4" text-anchor="middle" fill="#000" transform="translate(950.40 1782.76) scale(0.955 1)">6302</text>
<line x1="1143.30" y1="1733.16" x2="1143.30" y2="1747.46" stroke="#000" stroke-width="4.17"/>
<text font-family='"Liberation Sans", sans-serif' font-size="33.4" text-anchor="middle" fill="#000" transform="translate(1143.30 1782.76) scale(0.955 1)">6303</text>
<line x1="853.95" y1="1733.16" x2="853.95" y2="1741.66" stroke="#000" stroke-width="2.6"/>
<line x1="1046.85" y1="1733.16" x2="1046.85" y2="1741.66" stroke="#000" stroke-width="2.6"/>
<line x1="743.20" y1="1401.60" x2="757.50" y2="1401.60" stroke="#000" stroke-width="4.17"/>
<text font-family='"Liberation Sans", sans-serif' font-size="33.4" text-anchor="end" fill="#000" transform="translate(731.40 1413.60) scale(0.955 1)">5</text>
<line x1="743.20" y1="1515.60" x2="757.50" y2="1515.60" stroke="#000" stroke-width="4.17"/>
<text font-family='"Liberation Sans", sans-serif' font-size="33.4" text-anchor="end" fill="#000" transform="translate(731.40 1527.60) scale(0.955 1)">0</text>
<line x1="743.20" y1="1629.60" x2="757.50" y2="1629.60" stroke="#000" stroke-width="4.17"/>
<text font-family='"Liberation Sans", sans-serif' font-size="33.4" text-anchor="end" fill="#000" transform="translate(731.40 1641.60) scale(0.955 1)">−5</text>
<text font-family='"Liberation Sans", sans-serif' font-size="45.3" text-anchor="start" fill="#000" font-weight="bold" transform="translate(787.00 1385.20)">i</text>
<text x="959.45" y="1838.70" font-family='"DejaVu Sans", sans-serif' font-size="36.6" text-anchor="middle" letter-spacing="-0.4"><tspan font-style="oblique">λ</tspan> [<tspan font-style="oblique">A</tspan>]</text>
<text x="976.35" y="1810.60" font-family='"DejaVu Sans", sans-serif' font-size="17" font-weight="bold" text-anchor="start">∘</text>
<clipPath id="cph"><rect x="163.0" y="1338.05" width="405.08000000000004" height="395.1100000000001"/></clipPath>
<g clip-path="url(#cph)">
<path d="M179.8 1710.4 L186.8 1715.5 L190.9 1708.6 L198.9 1712.1 L202.3 1706.9 L206.5 1716.6 L210.3 1698.3 L213 1710.4 L221.3 1693.1 L226.5 1693.8 L229 1681 L232.4 1672.3 L235.9 1644.6 L239.7 1623.9 L243.8 1592.8 L249 1565.1 L252.5 1555.4 L254.9 1553 L257.7 1561.6 L262.8 1596.2 L268 1630.8 L271.5 1655 L275 1679.2 L278.4 1684.4 L282.9 1698.3 L287.1 1695.8 L292.2 1708.6 L295.7 1696.5 L299.2 1708.6 L304.4 1702.8 L311.3 1704.1 L318.2 1705.2 L319.9 1708.6 L325.1 1703.4 L330.3 1705.2 L332.7 1700 L337.2 1706.9 L339.6 1700 L345.2 1699.3 L347.6 1682.7 L351 1663.7 L353.5 1661.2 L356.9 1664.7 L359.7 1662.6 L363.1 1686.2 L366.6 1700 L371.8 1707.6 L377 1703.4 L380.4 1708.6 L385.6 1705.2 L390.8 1703.4 L396 1711.1 L402.9 1700 L408.1 1705.2 L415 1698.3 L420.2 1694.8 L426.1 1682.7 L430.6 1651.6 L435.1 1603.1 L439.2 1551.3 L443.7 1489 L446.8 1456.2 L448.6 1451 L450.6 1461.3 L454.8 1516.7 L460 1603.1 L465.2 1668.9 L468.6 1691.3 L472.1 1702.8 L477.3 1694.8 L481.8 1701.7 L485.9 1708.6 L491.1 1686.2 L494.6 1668.9 L498 1655 L500.8 1653.3 L503.2 1649.1 L506.7 1660.2 L510.1 1665.4 L515.3 1682.7 L518.8 1693.1 L524 1692.4 L527.4 1698.3 L532.6 1694.8 L537.8 1699.3 L541.3 1695.8 L545.8 1697.2 L549.9 1699.3" fill="none" stroke="#000" stroke-width="4.1" stroke-linejoin="round" stroke-linecap="butt"/>
<path d="M179.8 1513.2 L186.8 1518.4 L192.3 1512.5 L198.9 1516.7 L204.1 1513.2 L206.5 1521.9 L210.3 1505.6 L213 1518.4 L221.3 1508 L225.5 1511.5 L228.3 1501.1 L232.4 1495.9 L235.9 1483.8 L239.7 1480.4 L242.1 1468.3 L247.3 1465.8 L251.8 1468.3 L255.2 1473.5 L259.4 1492.5 L262.8 1504.6 L265.6 1508 L269.8 1521.9 L275 1533.3 L279.4 1527.1 L282.9 1528.8 L287.1 1516.7 L291.2 1524.3 L295.7 1508 L299.2 1518.4 L304.4 1511.5 L311.3 1510.5 L318.2 1515 L325.1 1509.1 L330.3 1511.5 L332.7 1506.3 L337.2 1511.5 L340.7 1507 L345.9 1512.5 L351 1513.2 L357.3 1522.9 L361.4 1515 L366.6 1515.6 L373.5 1509.1 L378.7 1507 L383.9 1513.2 L389.1 1510.5 L391.5 1506.3 L397 1515 L404.6 1502.8 L409.8 1509.8 L416.8 1502.8 L424.7 1500.1 L428.9 1485.6 L432.3 1478.6 L437.5 1447.5 L442.7 1395.6 L446.2 1361 L448.6 1355.2 L451.3 1364.5 L454.8 1399.1 L459.3 1461.3 L463.4 1502.8 L467.6 1515 L472.1 1520.1 L478.3 1505.6 L484.2 1516.7 L490.4 1495.2 L494.6 1501.1 L498 1499.4 L501.5 1513.2 L506.7 1516.7 L511.2 1497.7 L514.6 1491.8 L518.8 1500.1 L522.2 1495.9 L527.4 1502.2 L532.6 1495.9 L537.8 1501.1 L541.3 1496.6 L545.8 1500.1 L549.9 1499.4" fill="none" stroke="#b22222" stroke-width="4.1" stroke-linejoin="round" stroke-linecap="butt"/>
</g>
<path d="M774.7 1503.5 L775.6 1503.6 L776.5 1503.6 L777.4 1503.6 L778.4 1503.6 L779.3 1503.6 L780.2 1503.6 L781.1 1503.7 L782.1 1503.7 L783 1503.7 L783.9 1503.7 L784.9 1503.7 L785.8 1503.8 L786.7 1503.8 L787.6 1503.8 L788.6 1503.8 L789.5 1503.9 L790.4 1503.9 L791.4 1503.9 L792.3 1503.9 L793.2 1503.9 L794.1 1503.9 L795.1 1503.9 L796 1503.9 L796.9 1503.9 L797.8 1503.9 L798.8 1503.9 L799.7 1503.9 L800.6 1504 L801.6 1504.1 L802.5 1504.2 L803.4 1504.4 L804.3 1504.6 L805.3 1504.8 L806.2 1505 L807.1 1505.2 L808 1505.4 L809 1505.8 L809.9 1506.2 L810.8 1506.9 L811.8 1507.7 L812.7 1508.5 L813.6 1509.5 L814.5 1510.6 L815.5 1512 L816.4 1513.7 L817.3 1515.5 L818.2 1517.6 L819.2 1519.9 L820.1 1522.6 L821 1525.8 L822 1529.6 L822.9 1533.7 L823.8 1538.3 L824.7 1543.4 L825.7 1548.8 L826.6 1554.4 L827.5 1560.4 L828.4 1567.5 L829.4 1576.2 L830.3 1586.8 L831.2 1598.4 L832.2 1610.3 L833.1 1622.2 L834 1634.5 L834.9 1646.8 L835.9 1658.5 L836.8 1669.9 L837.7 1680.8 L838.7 1689.7 L839.6 1696.8 L840.5 1700.1 L841.4 1697.3 L842.4 1691 L843.3 1680.9 L844.2 1668.1 L845.1 1654.2 L846.1 1638.5 L847 1621.3 L847.9 1603.6 L848.9 1586.3 L849.8 1568.4 L850.7 1550.4 L851.6 1532.5 L852.6 1515 L853.5 1497.7 L854.4 1480.5 L855.3 1464.1 L856.3 1449 L857.2 1434.7 L858.1 1421.6 L859.1 1409.8 L860 1399.8 L860.9 1391.5 L861.8 1384.6 L862.8 1378.8 L863.7 1373.9 L864.6 1370.1 L865.5 1368 L866.5 1368.2 L867.4 1370.2 L868.3 1373 L869.3 1376.2 L870.2 1380.2 L871.1 1384.8 L872 1389.6 L873 1394.5 L873.9 1399.8 L874.8 1405.4 L875.8 1411 L876.7 1416.4 L877.6 1421.6 L878.5 1426.8 L879.5 1431.8 L880.4 1436.7 L881.3 1441.4 L882.2 1445.8 L883.2 1449.9 L884.1 1453.7 L885 1457.4 L886 1460.8 L886.9 1464.2 L887.8 1467.4 L888.7 1470.4 L889.7 1473.3 L890.6 1476 L891.5 1478.5 L892.4 1480.9 L893.4 1483 L894.3 1485.1 L895.2 1486.9 L896.2 1488.6 L897.1 1490.2 L898 1491.6 L898.9 1492.8 L899.9 1493.9 L900.8 1494.8 L901.7 1495.6 L902.6 1496.4 L903.6 1497.1 L904.5 1497.8 L905.4 1498.4 L906.4 1499 L907.3 1499.5 L908.2 1499.9 L909.1 1500.3 L910.1 1500.7 L911 1501 L911.9 1501.4 L912.8 1501.6 L913.8 1501.9 L914.7 1502.1 L915.6 1502.2 L916.6 1502.3 L917.5 1502.4 L918.4 1502.5 L919.3 1502.6 L920.3 1502.6 L921.2 1502.6 L922.1 1502.7 L923.1 1502.7 L924 1502.8 L924.9 1502.8 L925.8 1502.9 L926.8 1502.9 L927.7 1502.9 L928.6 1502.9 L929.5 1502.9 L930.5 1502.8 L931.4 1502.8 L932.3 1502.7 L933.3 1502.7 L934.2 1502.7 L935.1 1502.8 L936 1502.9 L937 1503 L937.9 1503.2 L938.8 1503.5 L939.7 1503.9 L940.7 1504.3 L941.6 1504.8 L942.5 1505.3 L943.5 1505.9 L944.4 1506.3 L945.3 1506.8 L946.2 1507.1 L947.2 1507.5 L948.1 1507.8 L949 1508.1 L949.9 1508.3 L950.9 1508.4 L951.8 1508.3 L952.7 1508 L953.7 1507.7 L954.6 1507.2 L955.5 1506.7 L956.4 1506.2 L957.4 1505.8 L958.3 1505.5 L959.2 1505.3 L960.2 1505 L961.1 1504.9 L962 1504.7 L962.9 1504.6 L963.9 1504.5 L964.8 1504.5 L965.7 1504.4 L966.6 1504.4 L967.6 1504.4 L968.5 1504.5 L969.4 1504.5 L970.4 1504.6 L971.3 1504.6 L972.2 1504.7 L973.1 1504.8 L974.1 1504.8 L975 1504.9 L975.9 1505 L976.8 1505.1 L977.8 1505.1 L978.7 1505.2 L979.6 1505.2 L980.6 1505.3 L981.5 1505.3 L982.4 1505.3 L983.3 1505.3 L984.3 1505.3 L985.2 1505.3 L986.1 1505.3 L987 1505.3 L988 1505.3 L988.9 1505.3 L989.8 1505.3 L990.8 1505.3 L991.7 1505.4 L992.6 1505.4 L993.5 1505.5 L994.5 1505.6 L995.4 1505.8 L996.3 1506 L997.3 1506.2 L998.2 1506.4 L999.1 1506.6 L1000 1506.8 L1001 1507.1 L1001.9 1507.4 L1002.8 1508 L1003.7 1508.6 L1004.7 1509.4 L1005.6 1510.2 L1006.5 1511.3 L1007.5 1512.7 L1008.4 1514.5 L1009.3 1516.4 L1010.2 1518.6 L1011.2 1521.2 L1012.1 1524.1 L1013 1527.6 L1013.9 1531.6 L1014.9 1535.8 L1015.8 1540.5 L1016.7 1546.1 L1017.7 1552.9 L1018.6 1560.9 L1019.5 1569.9 L1020.4 1579.8 L1021.4 1590.7 L1022.3 1602.9 L1023.2 1616.2 L1024.1 1629.7 L1025.1 1643 L1026 1656.8 L1026.9 1670.5 L1027.9 1682.7 L1028.8 1692.5 L1029.7 1700.7 L1030.6 1707.1 L1031.6 1711.5 L1032.5 1713 L1033.4 1709.8 L1034.3 1703.8 L1035.3 1696 L1036.2 1686.2 L1037.1 1674.2 L1038.1 1660 L1039 1642.9 L1039.9 1624.2 L1040.8 1605.5 L1041.8 1587.3 L1042.7 1568.7 L1043.6 1550 L1044.6 1531.4 L1045.5 1512.5 L1046.4 1493.5 L1047.3 1475.1 L1048.3 1457.7 L1049.2 1440.7 L1050.1 1424.6 L1051 1410.1 L1052 1397.9 L1052.9 1387.7 L1053.8 1379.1 L1054.8 1371.7 L1055.7 1365.6 L1056.6 1360.7 L1057.5 1357.3 L1058.5 1355.6 L1059.4 1355.9 L1060.3 1357.6 L1061.2 1359.9 L1062.2 1363.2 L1063.1 1367.4 L1064 1372.2 L1065 1377.2 L1065.9 1382.3 L1066.8 1387.8 L1067.7 1393.6 L1068.7 1399.5 L1069.6 1405.5 L1070.5 1411.7 L1071.4 1418.1 L1072.4 1424.4 L1073.3 1430.5 L1074.2 1436.1 L1075.2 1441.2 L1076.1 1446 L1077 1450.5 L1077.9 1454.8 L1078.9 1459 L1079.8 1463.1 L1080.7 1467.1 L1081.7 1471 L1082.6 1474.6 L1083.5 1478 L1084.4 1481.2 L1085.4 1484 L1086.3 1486.7 L1087.2 1489.1 L1088.1 1491.4 L1089.1 1493.5 L1090 1495.5 L1090.9 1497.3 L1091.9 1498.9 L1092.8 1500.4 L1093.7 1501.7 L1094.6 1502.9 L1095.6 1504 L1096.5 1504.8 L1097.4 1505.6 L1098.3 1506.2 L1099.3 1506.7 L1100.2 1507.2 L1101.1 1507.5 L1102.1 1507.6 L1103 1507.6 L1103.9 1507.6 L1104.8 1507.5 L1105.8 1507.3 L1106.7 1507.2 L1107.6 1507 L1108.5 1507 L1109.5 1507 L1110.4 1506.9 L1111.3 1506.9 L1112.3 1506.8 L1113.2 1506.8 L1114.1 1506.7 L1115 1506.7 L1116 1506.6 L1116.9 1506.5 L1117.8 1506.5 L1118.7 1506.4 L1119.7 1506.3 L1120.6 1506.3 L1121.5 1506.2 L1122.5 1506.1 L1123.4 1506.1 L1124.3 1506 L1125.2 1506 L1126.2 1505.9 L1127.1 1505.9 L1128 1505.9 L1129 1505.9 L1129.9 1505.8 L1130.8 1505.8 L1131.7 1505.8 L1132.7 1505.8 L1133.6 1505.8 L1134.5 1505.7 L1135.4 1505.7 L1136.4 1505.7 L1137.3 1505.7 L1138.2 1505.7 L1139.2 1505.7 L1140.1 1505.7 L1141 1505.7 L1141.9 1505.7 L1142.9 1505.6 L1143.8 1505.6 L1144.7 1505.6" fill="none" stroke="#000" stroke-width="4.4" stroke-linejoin="round" stroke-linecap="butt" stroke-linecap="round"/>
<path d="M774.7 1515 L775.6 1515 L776.5 1515 L777.4 1515 L778.4 1515 L779.3 1515 L780.2 1515.1 L781.1 1515.1 L782.1 1515.1 L783 1515.1 L783.9 1515.1 L784.9 1515.1 L785.8 1515.2 L786.7 1515.2 L787.6 1515.2 L788.6 1515.2 L789.5 1515.3 L790.4 1515.3 L791.4 1515.3 L792.3 1515.3 L793.2 1515.2 L794.1 1515.2 L795.1 1515.1 L796 1515.1 L796.9 1515 L797.8 1515 L798.8 1515 L799.7 1515 L800.6 1515.1 L801.6 1515.3 L802.5 1515.5 L803.4 1515.8 L804.3 1516.1 L805.3 1516.4 L806.2 1516.8 L807.1 1517.1 L808 1517.6 L809 1518.2 L809.9 1519 L810.8 1520.1 L811.8 1521.1 L812.7 1522.4 L813.6 1523.8 L814.5 1525.7 L815.5 1528 L816.4 1530.6 L817.3 1533.6 L818.2 1537 L819.2 1540.8 L820.1 1545 L821 1549.9 L822 1555.2 L822.9 1560.9 L823.8 1566.7 L824.7 1572.4 L825.7 1578 L826.6 1583.9 L827.5 1590.3 L828.4 1597.8 L829.4 1606.5 L830.3 1615.9 L831.2 1625.6 L832.2 1635.5 L833.1 1646.1 L834 1656.7 L834.9 1666.5 L835.9 1675.3 L836.8 1683.6 L837.7 1690.8 L838.7 1696.6 L839.6 1701.5 L840.5 1703.4 L841.4 1700.8 L842.4 1694.2 L843.3 1683 L844.2 1668.8 L845.1 1654 L846.1 1638.1 L847 1621.1 L847.9 1603.6 L848.9 1586.3 L849.8 1568.4 L850.7 1550.4 L851.6 1532.5 L852.6 1515 L853.5 1497.6 L854.4 1480.3 L855.3 1463.9 L856.3 1449.2 L857.2 1435.8 L858.1 1423.7 L859.1 1413 L860 1403.7 L860.9 1395.8 L861.8 1389.3 L862.8 1384 L863.7 1379.6 L864.6 1376.5 L865.5 1374.9 L866.5 1375.2 L867.4 1377.1 L868.3 1379.9 L869.3 1383.6 L870.2 1388.4 L871.1 1393.9 L872 1399.6 L873 1405.1 L873.9 1410.9 L874.8 1416.8 L875.8 1422.7 L876.7 1428.5 L877.6 1434 L878.5 1439.5 L879.5 1444.9 L880.4 1450.1 L881.3 1455.1 L882.2 1459.7 L883.2 1464.2 L884.1 1468.4 L885 1472.4 L886 1476.2 L886.9 1479.7 L887.8 1483 L888.7 1486.1 L889.7 1489 L890.6 1491.6 L891.5 1494.1 L892.4 1496.4 L893.4 1498.5 L894.3 1500.4 L895.2 1502.1 L896.2 1503.7 L897.1 1505.1 L898 1506.4 L898.9 1507.5 L899.9 1508.4 L900.8 1509.2 L901.7 1509.8 L902.6 1510.4 L903.6 1511 L904.5 1511.6 L905.4 1512.1 L906.4 1512.6 L907.3 1513 L908.2 1513.3 L909.1 1513.6 L910.1 1513.9 L911 1514.2 L911.9 1514.4 L912.8 1514.7 L913.8 1514.8 L914.7 1515 L915.6 1515.1 L916.6 1515.2 L917.5 1515.2 L918.4 1515.2 L919.3 1515.3 L920.3 1515.3 L921.2 1515.3 L922.1 1515.3 L923.1 1515.3 L924 1515.3 L924.9 1515.3 L925.8 1515.3 L926.8 1515.3 L927.7 1515.3 L928.6 1515.2 L929.5 1515.2 L930.5 1515.1 L931.4 1515.1 L932.3 1515 L933.3 1514.9 L934.2 1514.9 L935.1 1514.9 L936 1514.9 L937 1514.9 L937.9 1514.9 L938.8 1514.9 L939.7 1515 L940.7 1515.2 L941.6 1515.3 L942.5 1515.5 L943.5 1515.6 L944.4 1515.8 L945.3 1516 L946.2 1516.2 L947.2 1516.4 L948.1 1516.5 L949 1516.6 L949.9 1516.8 L950.9 1516.9 L951.8 1516.9 L952.7 1517 L953.7 1517.1 L954.6 1517.2 L955.5 1517.2 L956.4 1517.3 L957.4 1517.3 L958.3 1517.4 L959.2 1517.4 L960.2 1517.4 L961.1 1517.4 L962 1517.4 L962.9 1517.4 L963.9 1517.3 L964.8 1517.3 L965.7 1517.2 L966.6 1517.2 L967.6 1517.1 L968.5 1517 L969.4 1517 L970.4 1516.9 L971.3 1516.8 L972.2 1516.7 L973.1 1516.7 L974.1 1516.6 L975 1516.5 L975.9 1516.5 L976.8 1516.4 L977.8 1516.4 L978.7 1516.4 L979.6 1516.3 L980.6 1516.3 L981.5 1516.3 L982.4 1516.3 L983.3 1516.2 L984.3 1516.2 L985.2 1516.1 L986.1 1516.1 L987 1516 L988 1515.9 L988.9 1515.9 L989.8 1515.9 L990.8 1515.9 L991.7 1515.9 L992.6 1516 L993.5 1516 L994.5 1516.2 L995.4 1516.4 L996.3 1516.6 L997.3 1516.9 L998.2 1517.2 L999.1 1517.4 L1000 1517.7 L1001 1518.1 L1001.9 1518.6 L1002.8 1519.3 L1003.7 1520.3 L1004.7 1521.4 L1005.6 1522.7 L1006.5 1524.3 L1007.5 1526.5 L1008.4 1529.1 L1009.3 1532.1 L1010.2 1535.5 L1011.2 1539.3 L1012.1 1543.5 L1013 1548 L1013.9 1552.7 L1014.9 1557.9 L1015.8 1564 L1016.7 1571.2 L1017.7 1579.5 L1018.6 1588.8 L1019.5 1598.7 L1020.4 1609.2 L1021.4 1620.7 L1022.3 1633 L1023.2 1645.2 L1024.1 1656.6 L1025.1 1667.7 L1026 1678.4 L1026.9 1688.1 L1027.9 1696.2 L1028.8 1702.8 L1029.7 1708.1 L1030.6 1712.1 L1031.6 1715.2 L1032.5 1716.1 L1033.4 1713 L1034.3 1707.2 L1035.3 1699.5 L1036.2 1689.7 L1037.1 1677.7 L1038.1 1663.4 L1039 1646.3 L1039.9 1627.7 L1040.8 1609 L1041.8 1590.7 L1042.7 1572.1 L1043.6 1553.5 L1044.6 1534.8 L1045.5 1515.9 L1046.4 1496.9 L1047.3 1478.5 L1048.3 1461.3 L1049.2 1444.7 L1050.1 1429.1 L1051 1415.2 L1052 1403.4 L1052.9 1393.7 L1053.8 1385.5 L1054.8 1378.6 L1055.7 1372.9 L1056.6 1368.6 L1057.5 1365.7 L1058.5 1364.4 L1059.4 1364.8 L1060.3 1366.7 L1061.2 1369.4 L1062.2 1373.2 L1063.1 1378.1 L1064 1383.6 L1065 1389.2 L1065.9 1394.7 L1066.8 1400.6 L1067.7 1406.7 L1068.7 1413 L1069.6 1419.3 L1070.5 1425.9 L1071.4 1432.7 L1072.4 1439.5 L1073.3 1445.9 L1074.2 1451.7 L1075.2 1456.9 L1076.1 1461.7 L1077 1466.1 L1077.9 1470.4 L1078.9 1474.6 L1079.8 1478.7 L1080.7 1482.7 L1081.7 1486.6 L1082.6 1490.3 L1083.5 1493.6 L1084.4 1496.7 L1085.4 1499.4 L1086.3 1501.7 L1087.2 1503.9 L1088.1 1505.8 L1089.1 1507.5 L1090 1509 L1090.9 1510.3 L1091.9 1511.4 L1092.8 1512.4 L1093.7 1513.2 L1094.6 1514 L1095.6 1514.7 L1096.5 1515.2 L1097.4 1515.7 L1098.3 1516.1 L1099.3 1516.5 L1100.2 1516.8 L1101.1 1517.1 L1102.1 1517.2 L1103 1517.3 L1103.9 1517.4 L1104.8 1517.4 L1105.8 1517.4 L1106.7 1517.4 L1107.6 1517.4 L1108.5 1517.4 L1109.5 1517.4 L1110.4 1517.4 L1111.3 1517.4 L1112.3 1517.4 L1113.2 1517.4 L1114.1 1517.3 L1115 1517.3 L1116 1517.2 L1116.9 1517.2 L1117.8 1517.1 L1118.7 1517 L1119.7 1517 L1120.6 1516.9 L1121.5 1516.9 L1122.5 1516.8 L1123.4 1516.8 L1124.3 1516.7 L1125.2 1516.7 L1126.2 1516.7 L1127.1 1516.7 L1128 1516.6 L1129 1516.6 L1129.9 1516.6 L1130.8 1516.6 L1131.7 1516.6 L1132.7 1516.6 L1133.6 1516.6 L1134.5 1516.6 L1135.4 1516.6 L1136.4 1516.6 L1137.3 1516.6 L1138.2 1516.7 L1139.2 1516.7 L1140.1 1516.7 L1141 1516.7 L1141.9 1516.7 L1142.9 1516.7 L1143.8 1516.7 L1144.7 1516.7" fill="none" stroke="#b22222" stroke-width="4.4" stroke-linejoin="round" stroke-linecap="butt" stroke-linecap="round"/>
<line x1="445.5" y1="1295.3" x2="483.5" y2="1295.3" stroke="#000" stroke-width="4.1"/>
<text font-family='"Liberation Sans", sans-serif' font-size="34.6" text-anchor="start" fill="#000" transform="translate(509.50 1307.30) scale(1.025 1)">Level 1</text>
<line x1="651.2" y1="1295.3" x2="689.2" y2="1295.3" stroke="#b22222" stroke-width="4.1"/>
<text font-family='"Liberation Sans", sans-serif' font-size="34.6" text-anchor="start" fill="#000" transform="translate(715.00 1307.30) scale(1.025 1)">Level 1.5</text>
<text x="50.00" y="1535.00" font-family='"DejaVu Sans", sans-serif' font-size="36.6" text-anchor="middle" letter-spacing="-0.8" transform="rotate(-90 50.00 1535.00)"><tspan font-style="oblique">Q</tspan>/<tspan font-style="oblique">I</tspan><tspan font-style="oblique" dy="6" font-size="25.6">c</tspan><tspan dy="-6"> (×10</tspan><tspan dy="-13" font-size="25.6">−3</tspan><tspan dy="13">)</tspan></text>
<text x="670.00" y="1535.00" font-family='"DejaVu Sans", sans-serif' font-size="36.6" text-anchor="middle" letter-spacing="-0.8" transform="rotate(-90 670.00 1535.00)"><tspan font-style="oblique">V</tspan>/<tspan font-style="oblique">I</tspan><tspan font-style="oblique" dy="6" font-size="25.6">c</tspan><tspan dy="-6"> (×10</tspan><tspan dy="-13" font-size="25.6">−3</tspan><tspan dy="13">)</tspan></text>
<rect x="1352.0" y="97.58" width="659.9000000000001" height="28.019999999999996" fill="url(#gg)" stroke="#000" stroke-width="4.17"/>
<line x1="1352.00" y1="83.28" x2="1352.00" y2="97.58" stroke="#000" stroke-width="4.17"/>
<text font-family='"Liberation Sans", sans-serif' font-size="33.4" text-anchor="middle" fill="#000" transform="translate(1352.00 64.98) scale(0.955 1)">−0.002</text>
<line x1="1516.97" y1="83.28" x2="1516.97" y2="97.58" stroke="#000" stroke-width="4.17"/>
<text font-family='"Liberation Sans", sans-serif' font-size="33.4" text-anchor="middle" fill="#000" transform="translate(1516.97 64.98) scale(0.955 1)">−0.001</text>
<line x1="1681.95" y1="83.28" x2="1681.95" y2="97.58" stroke="#000" stroke-width="4.17"/>
<text font-family='"Liberation Sans", sans-serif' font-size="33.4" text-anchor="middle" fill="#000" transform="translate(1681.95 64.98) scale(0.955 1)">0.000</text>
<line x1="1846.93" y1="83.28" x2="1846.93" y2="97.58" stroke="#000" stroke-width="4.17"/>
<text font-family='"Liberation Sans", sans-serif' font-size="33.4" text-anchor="middle" fill="#000" transform="translate(1846.93 64.98) scale(0.955 1)">0.001</text>
<line x1="2011.90" y1="83.28" x2="2011.90" y2="97.58" stroke="#000" stroke-width="4.17"/>
<text font-family='"Liberation Sans", sans-serif' font-size="33.4" text-anchor="middle" fill="#000" transform="translate(2011.90 64.98) scale(0.955 1)">0.002</text>
<text x="1681.95" y="27.58" font-family='"DejaVu Sans", sans-serif' font-size="36.6" text-anchor="middle"><tspan font-style="oblique">Q</tspan>/<tspan font-style="oblique">I</tspan><tspan font-style="oblique" dy="6.5" font-size="25.6">c</tspan></text>
<rect x="1352.0" y="1016.4" width="659.9000000000001" height="27.899999999999977" fill="url(#gg)" stroke="#000" stroke-width="4.17"/>
<line x1="1352.00" y1="1002.10" x2="1352.00" y2="1016.40" stroke="#000" stroke-width="4.17"/>
<text font-family='"Liberation Sans", sans-serif' font-size="33.4" text-anchor="middle" fill="#000" transform="translate(1352.00 983.80) scale(0.955 1)">−0.004</text>
<line x1="1516.97" y1="1002.10" x2="1516.97" y2="1016.40" stroke="#000" stroke-width="4.17"/>
<text font-family='"Liberation Sans", sans-serif' font-size="33.4" text-anchor="middle" fill="#000" transform="translate(1516.97 983.80) scale(0.955 1)">−0.002</text>
<line x1="1681.95" y1="1002.10" x2="1681.95" y2="1016.40" stroke="#000" stroke-width="4.17"/>
<text font-family='"Liberation Sans", sans-serif' font-size="33.4" text-anchor="middle" fill="#000" transform="translate(1681.95 983.80) scale(0.955 1)">0.000</text>
<line x1="1846.93" y1="1002.10" x2="1846.93" y2="1016.40" stroke="#000" stroke-width="4.17"/>
<text font-family='"Liberation Sans", sans-serif' font-size="33.4" text-anchor="middle" fill="#000" transform="translate(1846.93 983.80) scale(0.955 1)">0.002</text>
<line x1="2011.90" y1="1002.10" x2="2011.90" y2="1016.40" stroke="#000" stroke-width="4.17"/>
<text font-family='"Liberation Sans", sans-serif' font-size="33.4" text-anchor="middle" fill="#000" transform="translate(2011.90 983.80) scale(0.955 1)">0.004</text>
<text x="1681.95" y="946.40" font-family='"DejaVu Sans", sans-serif' font-size="36.6" text-anchor="middle"><tspan font-style="oblique">V</tspan>/<tspan font-style="oblique">I</tspan><tspan font-style="oblique" dy="6.5" font-size="25.6">c</tspan></text>
<defs>
<g id="fv"><g fill="#000" filter="url(#b1)"><path d="M1419.5 1451.6 L1401.5 1451.6 L1392.7 1460.4 L1382.2 1466.6 L1398 1472.7 L1408.6 1479.8 L1392.7 1497.3 L1398 1507.9 L1389.2 1516.7 L1399.8 1529 L1401.5 1543 L1398 1553.6 L1403.3 1558.9 L1383.9 1572.9 L1392.7 1583.5 L1387.5 1595.8 L1385.7 1609.8 L1382.2 1620.4 L1389.2 1629.2 L1399.8 1638 L1406.8 1641.8 L1419.5 1641.8Z"/><path d="M1586.4 1451.6 L1568.5 1451.6 L1561.5 1460.4 L1550.9 1466.6 L1566.8 1472.7 L1575.5 1479.8 L1559.7 1497.3 L1566.8 1507.9 L1558 1518.4 L1566.8 1532.5 L1568.5 1543 L1565 1553.6 L1573.8 1558.9 L1552.7 1571.2 L1559.7 1583.5 L1556.2 1595.8 L1554.4 1606.3 L1549.2 1616.9 L1556.2 1627.4 L1566.8 1638 L1575.5 1641.8 L1586.4 1641.8Z"/></g><g fill="#fff" filter="url(#b2)"><path d="M1419.5 1453 L1422.6 1453.4 L1445.5 1457.8 L1463 1465.7 L1438.4 1472.7 L1431.4 1476.2 L1434.9 1479.8 L1424.4 1486.8 L1438.4 1493.8 L1449 1500.9 L1433.2 1506.1 L1449 1511.4 L1468.3 1515.8 L1445.5 1523.7 L1440.2 1534.3 L1450.7 1543 L1442 1555.3 L1452.5 1565.9 L1463 1574.7 L1454.3 1587 L1452.5 1599.3 L1463 1609.8 L1466.6 1618.6 L1454.3 1630.9 L1445.5 1639.7 L1424.4 1642.9 L1419.5 1642.9Z"/><path d="M1586.4 1453 L1589.6 1453.4 L1608.9 1457.8 L1628.3 1466.6 L1603.7 1472.7 L1598.4 1476.2 L1607.2 1480.6 L1593.1 1486.8 L1603.7 1493.8 L1616 1500.9 L1600.2 1506.1 L1614.2 1511.4 L1628.3 1515.8 L1610.7 1523.7 L1605.4 1534.3 L1617.7 1543 L1607.2 1555.3 L1614.2 1565.9 L1624.8 1574.7 L1619.5 1587 L1617.7 1599.3 L1626.5 1609.8 L1626.5 1618.6 L1621.2 1630.9 L1610.7 1639.7 L1589.6 1642.9 L1586.4 1642.9Z"/></g><g fill="#000" filter="url(#bb)" opacity="0.9"><ellipse cx="1405.0" cy="1677.5" rx="11.4" ry="3.5"/><ellipse cx="1406.8" cy="1704.8" rx="5.3" ry="6.2" opacity="0.6"/><ellipse cx="1572.0" cy="1677.5" rx="12.3" ry="4.0"/><ellipse cx="1587.8" cy="1685.8" rx="5.3" ry="2.6" opacity="0.9"/><ellipse cx="1573.8" cy="1706.5" rx="7.0" ry="7.9" opacity="0.95"/><ellipse cx="1410.3" cy="1435.8" rx="3.5" ry="15.8" opacity="0.25"/><ellipse cx="1579.1" cy="1435.8" rx="3.5" ry="15.8" opacity="0.25"/><ellipse cx="1408.9" cy="1394.5" rx="6.3" ry="6.3" opacity="0.5"/><ellipse cx="1576.0" cy="1402.9" rx="7.3" ry="11.5" opacity="0.6"/><ellipse cx="1414.1" cy="1196.2" rx="4.2" ry="146.2" opacity="0.16"/><ellipse cx="1581.2" cy="1196.2" rx="4.2" ry="146.2" opacity="0.16"/><ellipse cx="1402.6" cy="1154.4" rx="13.6" ry="5.2"/><ellipse cx="1400.6" cy="1137.7" rx="7.3" ry="3.1" opacity="0.6"/><ellipse cx="1400.6" cy="1179.5" rx="8.4" ry="3.1" opacity="0.7"/><ellipse cx="1434.0" cy="1193.0" rx="7.3" ry="3.1" opacity="0.8"/><ellipse cx="1413.1" cy="1224.4" rx="8.4" ry="6.3" opacity="0.8"/><ellipse cx="1427.7" cy="1300.6" rx="12.5" ry="7.3" opacity="0.8"/><ellipse cx="1446.5" cy="1340.7" rx="13.6" ry="3.7"/><ellipse cx="1438.1" cy="1089.7" rx="10.4" ry="2.6" opacity="0.6"/><ellipse cx="1434.0" cy="1103.2" rx="6.3" ry="2.1" opacity="0.6"/><ellipse cx="1410.0" cy="1394.5" rx="4.7" ry="31.3" opacity="0.25"/><ellipse cx="1571.8" cy="1154.4" rx="15.7" ry="6.3"/><ellipse cx="1569.7" cy="1137.7" rx="8.4" ry="4.2" opacity="0.9"/><ellipse cx="1569.7" cy="1179.5" rx="8.4" ry="4.2" opacity="0.9"/><ellipse cx="1582.2" cy="1223.3" rx="9.4" ry="7.3" opacity="0.9"/><ellipse cx="1594.8" cy="1300.6" rx="13.6" ry="6.3" opacity="0.9"/><ellipse cx="1609.4" cy="1340.7" rx="14.6" ry="3.7"/><ellipse cx="1569.7" cy="1098.0" rx="6.3" ry="3.1" opacity="0.7"/><ellipse cx="1601.0" cy="1103.9" rx="6.3" ry="2.6" opacity="0.8"/><ellipse cx="1607.3" cy="1089.7" rx="10.4" ry="2.1" opacity="0.6"/><ellipse cx="1577.0" cy="1394.5" rx="4.7" ry="31.3" opacity="0.25"/></g><g fill="#fff" filter="url(#bb)" opacity="0.9"><ellipse cx="1395.4" cy="1558.0" rx="8.8" ry="1.6" opacity="0.8"/><ellipse cx="1564.1" cy="1558.0" rx="9.7" ry="1.6" opacity="0.8"/><ellipse cx="1431.4" cy="1677.5" rx="11.4" ry="3.5"/><ellipse cx="1399.8" cy="1687.2" rx="4.4" ry="2.6" opacity="0.6"/><ellipse cx="1427.9" cy="1706.5" rx="7.0" ry="7.0" opacity="0.6"/><ellipse cx="1394.5" cy="1722.3" rx="8.8" ry="2.2" opacity="0.7"/><ellipse cx="1598.4" cy="1677.5" rx="12.3" ry="4.0"/><ellipse cx="1570.3" cy="1688.1" rx="5.3" ry="3.5" opacity="0.9"/><ellipse cx="1591.4" cy="1706.5" rx="6.2" ry="7.9" opacity="0.9"/><ellipse cx="1563.2" cy="1722.0" rx="9.7" ry="2.6" opacity="0.9"/><ellipse cx="1427.9" cy="1441.1" rx="5.3" ry="10.5" opacity="0.25"/><ellipse cx="1594.9" cy="1441.1" rx="5.3" ry="10.5" opacity="0.25"/><ellipse cx="1426.7" cy="1405.0" rx="6.3" ry="8.4" opacity="0.5"/><ellipse cx="1593.7" cy="1405.0" rx="9.4" ry="8.4" opacity="0.6"/><ellipse cx="1428.7" cy="1196.2" rx="4.7" ry="146.2" opacity="0.14"/><ellipse cx="1595.8" cy="1196.2" rx="4.7" ry="146.2" opacity="0.14"/><ellipse cx="1431.9" cy="1155.4" rx="6.3" ry="4.2" opacity="0.9"/><ellipse cx="1429.8" cy="1137.7" rx="6.3" ry="4.2" opacity="0.6"/><ellipse cx="1418.3" cy="1193.0" rx="4.2" ry="2.1" opacity="0.7"/><ellipse cx="1440.2" cy="1227.5" rx="12.5" ry="8.4"/><ellipse cx="1392.2" cy="1302.7" rx="15.7" ry="4.2"/><ellipse cx="1413.1" cy="1340.2" rx="8.4" ry="5.2" opacity="0.9"/><ellipse cx="1396.4" cy="1351.7" rx="13.6" ry="2.6" opacity="0.9"/><ellipse cx="1440.2" cy="1079.2" rx="5.2" ry="3.1" opacity="0.5"/><ellipse cx="1413.1" cy="1091.8" rx="4.2" ry="3.1" opacity="0.5"/><ellipse cx="1428.7" cy="1394.5" rx="5.2" ry="31.3" opacity="0.2"/><ellipse cx="1596.8" cy="1156.5" rx="8.4" ry="5.2" opacity="0.9"/><ellipse cx="1590.6" cy="1139.8" rx="4.2" ry="3.1" opacity="0.8"/><ellipse cx="1567.6" cy="1169.0" rx="4.2" ry="1.6" opacity="0.8"/><ellipse cx="1605.2" cy="1227.5" rx="11.5" ry="9.4"/><ellipse cx="1561.3" cy="1302.7" rx="16.7" ry="5.2"/><ellipse cx="1580.1" cy="1341.3" rx="10.4" ry="6.3"/><ellipse cx="1563.4" cy="1351.7" rx="14.6" ry="3.1" opacity="0.9"/><ellipse cx="1588.5" cy="1099.1" rx="7.3" ry="4.2" opacity="0.7"/><ellipse cx="1584.3" cy="1089.7" rx="4.2" ry="2.1" opacity="0.6"/><ellipse cx="1593.7" cy="1394.5" rx="6.3" ry="31.3" opacity="0.2"/></g></g>
<g id="fq"><g fill="#000" filter="url(#bb)"><ellipse cx="1405.3" cy="676.8" rx="8.9" ry="4.9"/><ellipse cx="1437.0" cy="675.8" rx="10.9" ry="5.9"/><ellipse cx="1435.0" cy="703.5" rx="10.9" ry="10.9"/><ellipse cx="1567.5" cy="676.8" rx="8.9" ry="4.9"/><ellipse cx="1603.2" cy="675.8" rx="10.9" ry="5.9"/><ellipse cx="1605.1" cy="703.5" rx="11.9" ry="12.9"/><ellipse cx="1563.6" cy="703.5" rx="4.9" ry="3.0" opacity="0.9"/><ellipse cx="1559.6" cy="550.1" rx="5.9" ry="3.0" opacity="0.8"/></g><g fill="#fff" filter="url(#bb)"><ellipse cx="1419.1" cy="546.2" rx="22.8" ry="4.5"/><ellipse cx="1585.4" cy="546.2" rx="22.8" ry="4.9"/><ellipse cx="1411.2" cy="657.0" rx="19.8" ry="8.9"/><ellipse cx="1419.1" cy="667.9" rx="5.9" ry="5.9"/><ellipse cx="1409.3" cy="691.6" rx="14.8" ry="6.9"/><ellipse cx="1417.2" cy="703.5" rx="7.9" ry="10.9"/><ellipse cx="1581.4" cy="658.0" rx="19.8" ry="10.9"/><ellipse cx="1585.4" cy="675.8" rx="6.9" ry="7.9"/><ellipse cx="1577.4" cy="691.6" rx="19.8" ry="7.9"/><ellipse cx="1585.4" cy="707.4" rx="9.9" ry="11.9"/><ellipse cx="1587.3" cy="594.7" rx="9.9" ry="4.0" opacity="0.5"/><ellipse cx="1577.4" cy="576.8" rx="7.9" ry="4.0" opacity="0.4"/><ellipse cx="1415.2" cy="596.6" rx="7.9" ry="3.0" opacity="0.3"/><ellipse cx="1580.4" cy="233.5" rx="17.3" ry="5.2" opacity="0.9"/><ellipse cx="1590.8" cy="171.2" rx="10.4" ry="5.2" opacity="0.5"/><ellipse cx="1414.4" cy="235.2" rx="13.8" ry="5.2" opacity="0.45"/><ellipse cx="1424.8" cy="172.9" rx="10.4" ry="5.2" opacity="0.4"/></g></g>
</defs>
<clipPath id="cid"><rect x="1352.0" y="143.3" width="320.10" height="671.30"/></clipPath>
<g clip-path="url(#cid)">
<rect x="1352.0" y="143.3" width="320.10" height="671.30" filter="url(#nd)"/>
<rect x="1407.0" y="123.30000000000001" width="26" height="711.3" fill="#fff" opacity="0.15" filter="url(#b3)"/>
<rect x="1574.9" y="123.30000000000001" width="24" height="711.3" fill="#fff" opacity="0.17" filter="url(#b3)"/>
<rect x="1498.4" y="123.30000000000001" width="10" height="711.3" fill="#fff" opacity="0.04" filter="url(#b3)"/>
<rect x="1625.2" y="123.30000000000001" width="10" height="711.3" fill="#fff" opacity="0.05" filter="url(#b3)"/>
<use href="#fq" transform="translate(0 0)"/>
<line x1="1352.0" x2="1672.1" y1="329.1" y2="329.1" stroke="#fff" stroke-width="1.1" opacity="0.9"/>
<path d="M1352.7 239.7 L1353.2 239.7 L1353.6 239.7 L1354.1 239.7 L1354.5 239.7 L1355 239.8 L1355.4 239.8 L1355.9 239.8 L1356.3 239.9 L1356.8 239.9 L1357.3 240 L1357.7 240 L1358.2 240.1 L1358.6 240.2 L1359.1 240.3 L1359.5 240.4 L1360 240.5 L1360.4 240.6 L1360.9 240.7 L1361.4 240.8 L1361.8 240.9 L1362.3 241 L1362.7 241.1 L1363.2 241.2 L1363.6 241.3 L1364.1 241.5 L1364.6 241.6 L1365 241.7 L1365.5 241.9 L1365.9 242 L1366.4 242.1 L1366.8 242.3 L1367.3 242.4 L1367.7 242.6 L1368.2 242.8 L1368.7 243 L1369.1 243.2 L1369.6 243.4 L1370 243.6 L1370.5 243.8 L1370.9 244 L1371.4 244.3 L1371.8 244.5 L1372.3 244.7 L1372.8 245 L1373.2 245.3 L1373.7 245.5 L1374.1 245.8 L1374.6 246.1 L1375 246.4 L1375.5 246.7 L1376 246.9 L1376.4 247.2 L1376.9 247.5 L1377.3 247.9 L1377.8 248.2 L1378.2 248.5 L1378.7 248.9 L1379.1 249.2 L1379.6 249.6 L1380.1 250 L1380.5 250.4 L1381 250.8 L1381.4 251.3 L1381.9 251.7 L1382.3 252.2 L1382.8 252.7 L1383.2 253.1 L1383.7 253.7 L1384.2 254.2 L1384.6 254.7 L1385.1 255.3 L1385.5 255.8 L1386 256.5 L1386.4 257.1 L1386.9 257.8 L1387.4 258.5 L1387.8 259.2 L1388.3 260 L1388.7 260.8 L1389.2 261.6 L1389.6 262.5 L1390.1 263.5 L1390.5 264.5 L1391 265.7 L1391.5 267 L1391.9 268.4 L1392.4 269.8 L1392.8 271.4 L1393.3 273 L1393.7 274.7 L1394.2 276.4 L1394.6 278.1 L1395.1 279.9 L1395.6 281.7 L1396 283.7 L1396.5 285.7 L1396.9 287.9 L1397.4 290.1 L1397.8 292.5 L1398.3 295.1 L1398.8 297.9 L1399.2 300.9 L1399.7 304.1 L1400.1 307.4 L1400.6 310.7 L1401 314.1 L1401.5 317.7 L1401.9 321.3 L1402.4 325.1 L1402.9 328.9 L1403.3 332.7 L1403.8 336.5 L1404.2 340.5 L1404.7 344.5 L1405.1 348.5 L1405.6 352.5 L1406 356.4 L1406.5 360.4 L1407 364.3 L1407.4 368.3 L1407.9 372.2 L1408.3 376.2 L1408.8 380.1 L1409.2 384.1 L1409.7 388 L1410.1 392 L1410.6 395.9 L1411.1 399.9 L1411.5 403.8 L1412 407.7 L1412.4 411.7 L1412.9 415.6 L1413.3 419.6 L1413.8 423.7 L1414.3 427.9 L1414.7 432.2 L1415.2 436.4 L1415.6 440.6 L1416.1 444.9 L1416.5 449.3 L1417 453.5 L1417.4 457.1 L1417.9 460.4 L1418.4 463.7 L1418.8 466 L1419.3 466.8 L1419.7 465.7 L1420.2 463.5 L1420.6 460.8 L1421.1 458 L1421.5 454.7 L1422 450.8 L1422.5 446.6 L1422.9 442.5 L1423.4 438.4 L1423.8 434.3 L1424.3 430 L1424.7 425.7 L1425.2 421.4 L1425.7 417 L1426.1 412.5 L1426.6 408 L1427 403.4 L1427.5 398.8 L1427.9 394.2 L1428.4 389.6 L1428.8 385 L1429.3 380.5 L1429.8 375.9 L1430.2 371.3 L1430.7 366.8 L1431.1 362.2 L1431.6 357.6 L1432 352.9 L1432.5 348.3 L1432.9 343.8 L1433.4 339.4 L1433.9 335.2 L1434.3 330.9 L1434.8 326.7 L1435.2 322.7 L1435.7 318.8 L1436.1 315.1 L1436.6 311.7 L1437.1 308.3 L1437.5 305 L1438 301.9 L1438.4 298.9 L1438.9 296.1 L1439.3 293.5 L1439.8 291.2 L1440.2 289.2 L1440.7 287.2 L1441.2 285.4 L1441.6 283.6 L1442.1 282 L1442.5 280.4 L1443 278.9 L1443.4 277.5 L1443.9 276.1 L1444.3 274.8 L1444.8 273.4 L1445.3 272.1 L1445.7 270.9 L1446.2 269.6 L1446.6 268.4 L1447.1 267.2 L1447.5 266.1 L1448 265 L1448.4 263.9 L1448.9 262.9 L1449.4 262 L1449.8 261.1 L1450.3 260.2 L1450.7 259.4 L1451.2 258.7 L1451.6 257.9 L1452.1 257.2 L1452.6 256.5 L1453 255.8 L1453.5 255.2 L1453.9 254.5 L1454.4 253.9 L1454.8 253.4 L1455.3 252.9 L1455.7 252.4 L1456.2 252 L1456.7 251.6 L1457.1 251.2 L1457.6 250.8 L1458 250.5 L1458.5 250.1 L1458.9 249.8 L1459.4 249.5 L1459.8 249.2 L1460.3 248.9 L1460.8 248.6 L1461.2 248.3 L1461.7 248.1 L1462.1 247.8 L1462.6 247.6 L1463 247.4 L1463.5 247.2 L1464 247 L1464.4 246.9 L1464.9 246.8 L1465.3 246.7 L1465.8 246.6 L1466.2 246.5 L1466.7 246.4 L1467.1 246.3 L1467.6 246.3 L1468.1 246.2 L1468.5 246.1 L1469 246.1 L1469.4 246 L1469.9 245.9 L1470.3 245.9 L1470.8 245.8 L1471.2 245.8 L1471.7 245.7 L1472.2 245.7 L1472.6 245.6 L1473.1 245.6 L1473.5 245.6 L1474 245.5 L1474.4 245.5 L1474.9 245.5 L1475.4 245.5 L1475.8 245.5 L1476.3 245.5 L1476.7 245.4 L1477.2 245.5 L1477.6 245.5 L1478.1 245.5 L1478.5 245.5 L1479 245.5 L1479.5 245.5 L1479.9 245.5 L1480.4 245.5 L1480.8 245.5 L1481.3 245.5 L1481.7 245.6 L1482.2 245.6 L1482.6 245.6 L1483.1 245.6 L1483.6 245.7 L1484 245.7 L1484.5 245.7 L1484.9 245.8 L1485.4 245.8 L1485.8 245.9 L1486.3 245.9 L1486.8 245.9 L1487.2 246 L1487.7 246.1 L1488.1 246.3 L1488.6 246.5 L1489 246.8 L1489.5 247.1 L1489.9 247.5 L1490.4 247.9 L1490.9 248.4 L1491.3 248.9 L1491.8 249.6 L1492.2 250.6 L1492.7 252 L1493.1 253.5 L1493.6 255.3 L1494 257.4 L1494.5 260.5 L1495 264.4 L1495.4 268.6 L1495.9 272.7 L1496.3 277.1 L1496.8 281.8 L1497.2 286.5 L1497.7 291.2 L1498.1 295.8 L1498.6 300.4 L1499.1 305 L1499.5 309.6 L1500 314 L1500.4 318.4 L1500.9 322.8 L1501.3 326.8 L1501.8 330.1 L1502.3 333 L1502.7 335.3 L1503.2 336.7 L1503.6 337.7 L1504.1 337.9 L1504.5 336.9 L1505 335.3 L1505.4 333.1 L1505.9 330.1 L1506.4 326.1 L1506.8 320.7 L1507.3 315.1 L1507.7 310 L1508.2 305 L1508.6 300 L1509.1 295.2 L1509.5 290.4 L1510 285.5 L1510.5 280.6 L1510.9 276 L1511.4 271.8 L1511.8 268.3 L1512.3 265.1 L1512.7 262.1 L1513.2 259.4 L1513.7 257.2 L1514.1 255.5 L1514.6 253.8 L1515 252.4 L1515.5 251 L1515.9 249.8 L1516.4 248.8 L1516.8 247.8 L1517.3 247.1 L1517.8 246.4 L1518.2 245.8 L1518.7 245.2 L1519.1 244.6 L1519.6 244 L1520 243.5 L1520.5 243.1 L1520.9 242.7 L1521.4 242.3 L1521.9 241.9 L1522.3 241.6 L1522.8 241.4 L1523.2 241.2 L1523.7 241 L1524.1 240.8 L1524.6 240.6 L1525.1 240.5 L1525.5 240.3 L1526 240.1 L1526.4 240 L1526.9 239.9 L1527.3 239.7 L1527.8 239.6 L1528.2 239.5 L1528.7 239.4 L1529.2 239.3 L1529.6 239.2 L1530.1 239.2 L1530.5 239.1 L1531 239.1 L1531.4 239.1 L1531.9 239.1 L1532.3 239.1 L1532.8 239.1 L1533.3 239.1 L1533.7 239.1 L1534.2 239.1 L1534.6 239.1 L1535.1 239.1 L1535.5 239.1 L1536 239.2 L1536.4 239.2 L1536.9 239.2 L1537.4 239.3 L1537.8 239.3 L1538.3 239.3 L1538.7 239.4 L1539.2 239.4 L1539.6 239.5 L1540.1 239.5 L1540.6 239.5 L1541 239.6 L1541.5 239.6 L1541.9 239.7 L1542.4 239.7 L1542.8 239.8 L1543.3 239.9 L1543.7 240 L1544.2 240.1 L1544.7 240.2 L1545.1 240.3 L1545.6 240.5 L1546 240.6 L1546.5 240.8 L1546.9 241 L1547.4 241.2 L1547.8 241.4 L1548.3 241.6 L1548.8 241.8 L1549.2 242 L1549.7 242.2 L1550.1 242.4 L1550.6 242.7 L1551 242.9 L1551.5 243.1 L1552 243.4 L1552.4 243.7 L1552.9 244 L1553.3 244.3 L1553.8 244.6 L1554.2 245 L1554.7 245.4 L1555.1 245.8 L1555.6 246.2 L1556.1 246.7 L1556.5 247.2 L1557 247.7 L1557.4 248.3 L1557.9 248.9 L1558.3 249.6 L1558.8 250.5 L1559.2 251.5 L1559.7 252.6 L1560.2 253.8 L1560.6 255.1 L1561.1 256.5 L1561.5 257.9 L1562 259.4 L1562.4 261 L1562.9 262.6 L1563.4 264.5 L1563.8 266.5 L1564.3 268.6 L1564.7 270.8 L1565.2 273.1 L1565.6 275.5 L1566.1 278.1 L1566.5 281 L1567 284 L1567.5 287.2 L1567.9 290.5 L1568.4 293.8 L1568.8 297.2 L1569.3 300.8 L1569.7 304.4 L1570.2 308.2 L1570.6 312 L1571.1 316 L1571.6 320.1 L1572 324.4 L1572.5 328.7 L1572.9 333.1 L1573.4 337.4 L1573.8 341.6 L1574.3 345.8 L1574.8 349.9 L1575.2 354.2 L1575.7 358.5 L1576.1 363 L1576.6 367.7 L1577 372.6 L1577.5 377.6 L1577.9 382.6 L1578.4 387.6 L1578.9 392.7 L1579.3 397.9 L1579.8 402.9 L1580.2 407.6 L1580.7 411.7 L1581.1 415.7 L1581.6 419.3 L1582 422.4 L1582.5 425.4 L1583 428.4 L1583.4 430.6 L1583.9 431.3 L1584.3 430.7 L1584.8 429.4 L1585.2 427.5 L1585.7 425.4 L1586.1 423 L1586.6 419.8 L1587.1 415.9 L1587.5 411.6 L1588 407.1 L1588.4 402.5 L1588.9 397.4 L1589.3 392 L1589.8 386.5 L1590.3 381 L1590.7 375.8 L1591.2 370.6 L1591.6 365.4 L1592.1 360.2 L1592.5 355 L1593 349.7 L1593.4 344.4 L1593.9 339 L1594.4 333.7 L1594.8 328.5 L1595.3 323.6 L1595.7 318.7 L1596.2 313.9 L1596.6 309.3 L1597.1 304.9 L1597.5 300.8 L1598 297 L1598.5 293.2 L1598.9 289.7 L1599.4 286.2 L1599.8 283.1 L1600.3 280.2 L1600.7 277.6 L1601.2 275.2 L1601.7 273 L1602.1 270.9 L1602.6 268.9 L1603 267 L1603.5 265.3 L1603.9 263.8 L1604.4 262.4 L1604.8 261.1 L1605.3 259.9 L1605.8 258.8 L1606.2 257.7 L1606.7 256.7 L1607.1 255.8 L1607.6 255 L1608 254.3 L1608.5 253.7 L1608.9 253.2 L1609.4 252.8 L1609.9 252.3 L1610.3 252 L1610.8 251.6 L1611.2 251.2 L1611.7 250.9 L1612.1 250.7 L1612.6 250.5 L1613.1 250.3 L1613.5 250.2 L1614 250.1 L1614.4 250.1 L1614.9 250.2 L1615.3 250.3 L1615.8 250.5 L1616.2 250.7 L1616.7 250.9 L1617.2 251.2 L1617.6 251.6 L1618.1 252.1 L1618.5 253.1 L1619 254.3 L1619.4 255.8 L1619.9 257.5 L1620.3 259.4 L1620.8 262.2 L1621.3 265.8 L1621.7 269.7 L1622.2 273.7 L1622.6 277.8 L1623.1 282.2 L1623.5 286.9 L1624 291.6 L1624.4 296.4 L1624.9 301.2 L1625.4 306.2 L1625.8 311.2 L1626.3 316.1 L1626.7 321 L1627.2 325.8 L1627.6 330.7 L1628.1 335.2 L1628.6 338.9 L1629 342 L1629.5 344.5 L1629.9 346.2 L1630.4 347.4 L1630.8 347.1 L1631.3 346 L1631.7 344.6 L1632.2 342.6 L1632.7 340.1 L1633.1 336.9 L1633.6 332.9 L1634 328.8 L1634.5 324.3 L1634.9 319.5 L1635.4 314.4 L1635.8 309.1 L1636.3 303.5 L1636.8 297.4 L1637.2 291.1 L1637.7 285.4 L1638.1 280.5 L1638.6 275.7 L1639 271.3 L1639.5 267.4 L1640 264 L1640.4 261.2 L1640.9 258.5 L1641.3 256.1 L1641.8 253.9 L1642.2 252.1 L1642.7 250.5 L1643.1 249.3 L1643.6 248.2 L1644.1 247.3 L1644.5 246.4 L1645 245.5 L1645.4 244.8 L1645.9 244.1 L1646.3 243.5 L1646.8 243 L1647.2 242.5 L1647.7 242.1 L1648.2 241.7 L1648.6 241.4 L1649.1 241 L1649.5 240.7 L1650 240.4 L1650.4 240.2 L1650.9 239.9 L1651.4 239.7 L1651.8 239.4 L1652.3 239.2 L1652.7 239 L1653.2 238.8 L1653.6 238.6 L1654.1 238.4 L1654.5 238.3 L1655 238.1 L1655.5 238 L1655.9 237.8 L1656.4 237.7 L1656.8 237.6 L1657.3 237.4 L1657.7 237.3 L1658.2 237.2 L1658.6 237.1 L1659.1 237 L1659.6 236.9 L1660 236.8 L1660.5 236.7 L1660.9 236.6 L1661.4 236.5 L1661.8 236.4 L1662.3 236.3 L1662.8 236.3 L1663.2 236.2 L1663.7 236.1 L1664.1 236.1 L1664.6 236 L1665 235.9 L1665.5 235.9 L1665.9 235.8 L1666.4 235.8 L1666.9 235.8 L1667.3 235.7 L1667.8 235.7 L1668.2 235.7 L1668.7 235.6 L1669.1 235.6 L1669.6 235.6 L1670 235.6 L1670.5 235.6 L1671 235.6 L1671.4 235.6" fill="none" stroke="#fff" stroke-width="4.5" stroke-linejoin="round" stroke-linecap="butt" stroke-dasharray="15.4 6.9"/>
</g>
<rect x="1352.00" y="143.30" width="320.10" height="671.30" fill="none" stroke="#000" stroke-width="4.17"/>
<line x1="1337.70" y1="814.60" x2="1352.00" y2="814.60" stroke="#000" stroke-width="4.17"/>
<text font-family='"Liberation Sans", sans-serif' font-size="33.4" text-anchor="end" fill="#000" transform="translate(1325.90 826.60) scale(0.955 1)">0</text>
<line x1="1337.70" y1="683.30" x2="1352.00" y2="683.30" stroke="#000" stroke-width="4.17"/>
<text font-family='"Liberation Sans", sans-serif' font-size="33.4" text-anchor="end" fill="#000" transform="translate(1325.90 695.30) scale(0.955 1)">500</text>
<line x1="1337.70" y1="552.00" x2="1352.00" y2="552.00" stroke="#000" stroke-width="4.17"/>
<text font-family='"Liberation Sans", sans-serif' font-size="33.4" text-anchor="end" fill="#000" transform="translate(1325.90 564.00) scale(0.955 1)">1000</text>
<line x1="1337.70" y1="420.70" x2="1352.00" y2="420.70" stroke="#000" stroke-width="4.17"/>
<text font-family='"Liberation Sans", sans-serif' font-size="33.4" text-anchor="end" fill="#000" transform="translate(1325.90 432.70) scale(0.955 1)">1500</text>
<line x1="1337.70" y1="289.40" x2="1352.00" y2="289.40" stroke="#000" stroke-width="4.17"/>
<text font-family='"Liberation Sans", sans-serif' font-size="33.4" text-anchor="end" fill="#000" transform="translate(1325.90 301.40) scale(0.955 1)">2000</text>
<line x1="1337.70" y1="158.10" x2="1352.00" y2="158.10" stroke="#000" stroke-width="4.17"/>
<text font-family='"Liberation Sans", sans-serif' font-size="33.4" text-anchor="end" fill="#000" transform="translate(1325.90 170.10) scale(0.955 1)">2500</text>
<line x1="1503.40" y1="814.60" x2="1503.40" y2="828.90" stroke="#000" stroke-width="4.17"/>
<text font-family='"Liberation Sans", sans-serif' font-size="33.4" text-anchor="middle" fill="#000" transform="translate(1503.40 864.20) scale(0.955 1)">6302</text>
<line x1="1670.30" y1="814.60" x2="1670.30" y2="828.90" stroke="#000" stroke-width="4.17"/>
<text font-family='"Liberation Sans", sans-serif' font-size="33.4" text-anchor="middle" fill="#000" transform="translate(1670.30 864.20) scale(0.955 1)">6303</text>
<line x1="1419.95" y1="814.60" x2="1419.95" y2="823.10" stroke="#000" stroke-width="2.6"/>
<line x1="1586.85" y1="814.60" x2="1586.85" y2="823.10" stroke="#000" stroke-width="2.6"/>
<text font-family='"Liberation Sans", sans-serif' font-size="45.3" text-anchor="start" fill="#fff" font-weight="bold" transform="translate(1364.60 190.45)">d</text>
<text font-family='"Liberation Sans", sans-serif' font-size="34.6" text-anchor="middle" fill="#000" transform="translate(1233.20 478.95) rotate(-90) scale(1.025 1)">pixel along the slit</text>
<clipPath id="cie"><rect x="1691.6" y="143.3" width="320.30" height="671.30"/></clipPath>
<g clip-path="url(#cie)">
<rect x="1691.6" y="143.3" width="320.30" height="671.30" filter="url(#ne)"/>
<use href="#fq" transform="translate(339.7 0)"/>
</g>
<rect x="1691.60" y="143.30" width="320.30" height="671.30" fill="none" stroke="#000" stroke-width="4.17"/>
<line x1="1677.30" y1="814.60" x2="1691.60" y2="814.60" stroke="#000" stroke-width="4.17"/>
<line x1="1677.30" y1="683.30" x2="1691.60" y2="683.30" stroke="#000" stroke-width="4.17"/>
<line x1="1677.30" y1="552.00" x2="1691.60" y2="552.00" stroke="#000" stroke-width="4.17"/>
<line x1="1677.30" y1="420.70" x2="1691.60" y2="420.70" stroke="#000" stroke-width="4.17"/>
<line x1="1677.30" y1="289.40" x2="1691.60" y2="289.40" stroke="#000" stroke-width="4.17"/>
<line x1="1677.30" y1="158.10" x2="1691.60" y2="158.10" stroke="#000" stroke-width="4.17"/>
<line x1="1843.10" y1="814.60" x2="1843.10" y2="828.90" stroke="#000" stroke-width="4.17"/>
<text font-family='"Liberation Sans", sans-serif' font-size="33.4" text-anchor="middle" fill="#000" transform="translate(1843.10 864.20) scale(0.955 1)">6302</text>
<line x1="2010.00" y1="814.60" x2="2010.00" y2="828.90" stroke="#000" stroke-width="4.17"/>
<text font-family='"Liberation Sans", sans-serif' font-size="33.4" text-anchor="middle" fill="#000" transform="translate(2010.00 864.20) scale(0.955 1)">6303</text>
<line x1="1759.65" y1="814.60" x2="1759.65" y2="823.10" stroke="#000" stroke-width="2.6"/>
<line x1="1926.55" y1="814.60" x2="1926.55" y2="823.10" stroke="#000" stroke-width="2.6"/>
<text font-family='"Liberation Sans", sans-serif' font-size="45.3" text-anchor="start" fill="#fff" font-weight="bold" transform="translate(1706.00 190.45)">e</text>
<clipPath id="cif"><rect x="1352.0" y="1062.0" width="320.10" height="671.20"/></clipPath>
<g clip-path="url(#cif)">
<rect x="1352.0" y="1062.0" width="320.10" height="671.20" filter="url(#nf)"/>
<use href="#fv" transform="translate(0 0)"/>
<line x1="1352.0" x2="1672.1" y1="1641.6" y2="1641.6" stroke="#000" stroke-width="1.1" opacity="0.3"/>
<path d="M1352.7 1158.4 L1353.2 1158.4 L1353.6 1158.4 L1354.1 1158.4 L1354.5 1158.4 L1355 1158.5 L1355.4 1158.5 L1355.9 1158.5 L1356.3 1158.6 L1356.8 1158.6 L1357.3 1158.7 L1357.7 1158.7 L1358.2 1158.8 L1358.6 1158.9 L1359.1 1159 L1359.5 1159.1 L1360 1159.2 L1360.4 1159.3 L1360.9 1159.4 L1361.4 1159.5 L1361.8 1159.6 L1362.3 1159.7 L1362.7 1159.8 L1363.2 1159.9 L1363.6 1160 L1364.1 1160.2 L1364.6 1160.3 L1365 1160.4 L1365.5 1160.6 L1365.9 1160.7 L1366.4 1160.8 L1366.8 1161 L1367.3 1161.1 L1367.7 1161.3 L1368.2 1161.5 L1368.7 1161.7 L1369.1 1161.9 L1369.6 1162.1 L1370 1162.3 L1370.5 1162.5 L1370.9 1162.7 L1371.4 1163 L1371.8 1163.2 L1372.3 1163.4 L1372.8 1163.7 L1373.2 1164 L1373.7 1164.2 L1374.1 1164.5 L1374.6 1164.8 L1375 1165.1 L1375.5 1165.4 L1376 1165.6 L1376.4 1165.9 L1376.9 1166.2 L1377.3 1166.6 L1377.8 1166.9 L1378.2 1167.2 L1378.7 1167.6 L1379.1 1167.9 L1379.6 1168.3 L1380.1 1168.7 L1380.5 1169.1 L1381 1169.5 L1381.4 1170 L1381.9 1170.4 L1382.3 1170.9 L1382.8 1171.4 L1383.2 1171.8 L1383.7 1172.4 L1384.2 1172.9 L1384.6 1173.4 L1385.1 1174 L1385.5 1174.5 L1386 1175.2 L1386.4 1175.8 L1386.9 1176.5 L1387.4 1177.2 L1387.8 1177.9 L1388.3 1178.7 L1388.7 1179.5 L1389.2 1180.3 L1389.6 1181.2 L1390.1 1182.2 L1390.5 1183.2 L1391 1184.4 L1391.5 1185.7 L1391.9 1187.1 L1392.4 1188.5 L1392.8 1190.1 L1393.3 1191.7 L1393.7 1193.4 L1394.2 1195.1 L1394.6 1196.8 L1395.1 1198.6 L1395.6 1200.4 L1396 1202.4 L1396.5 1204.4 L1396.9 1206.6 L1397.4 1208.8 L1397.8 1211.2 L1398.3 1213.8 L1398.8 1216.6 L1399.2 1219.6 L1399.7 1222.8 L1400.1 1226.1 L1400.6 1229.4 L1401 1232.8 L1401.5 1236.4 L1401.9 1240 L1402.4 1243.8 L1402.9 1247.6 L1403.3 1251.4 L1403.8 1255.2 L1404.2 1259.2 L1404.7 1263.2 L1405.1 1267.2 L1405.6 1271.2 L1406 1275.1 L1406.5 1279.1 L1407 1283 L1407.4 1287 L1407.9 1290.9 L1408.3 1294.9 L1408.8 1298.8 L1409.2 1302.8 L1409.7 1306.7 L1410.1 1310.7 L1410.6 1314.6 L1411.1 1318.6 L1411.5 1322.5 L1412 1326.4 L1412.4 1330.4 L1412.9 1334.3 L1413.3 1338.3 L1413.8 1342.4 L1414.3 1346.6 L1414.7 1350.9 L1415.2 1355.1 L1415.6 1359.3 L1416.1 1363.6 L1416.5 1368 L1417 1372.2 L1417.4 1375.8 L1417.9 1379.1 L1418.4 1382.4 L1418.8 1384.7 L1419.3 1385.5 L1419.7 1384.4 L1420.2 1382.2 L1420.6 1379.5 L1421.1 1376.7 L1421.5 1373.4 L1422 1369.5 L1422.5 1365.3 L1422.9 1361.2 L1423.4 1357.1 L1423.8 1353 L1424.3 1348.7 L1424.7 1344.4 L1425.2 1340.1 L1425.7 1335.7 L1426.1 1331.2 L1426.6 1326.7 L1427 1322.1 L1427.5 1317.5 L1427.9 1312.9 L1428.4 1308.3 L1428.8 1303.7 L1429.3 1299.2 L1429.8 1294.6 L1430.2 1290 L1430.7 1285.5 L1431.1 1280.9 L1431.6 1276.3 L1432 1271.6 L1432.5 1267 L1432.9 1262.5 L1433.4 1258.1 L1433.9 1253.9 L1434.3 1249.6 L1434.8 1245.4 L1435.2 1241.4 L1435.7 1237.5 L1436.1 1233.8 L1436.6 1230.4 L1437.1 1227 L1437.5 1223.7 L1438 1220.6 L1438.4 1217.6 L1438.9 1214.8 L1439.3 1212.2 L1439.8 1209.9 L1440.2 1207.9 L1440.7 1205.9 L1441.2 1204.1 L1441.6 1202.3 L1442.1 1200.7 L1442.5 1199.1 L1443 1197.6 L1443.4 1196.2 L1443.9 1194.8 L1444.3 1193.5 L1444.8 1192.1 L1445.3 1190.8 L1445.7 1189.6 L1446.2 1188.3 L1446.6 1187.1 L1447.1 1185.9 L1447.5 1184.8 L1448 1183.7 L1448.4 1182.6 L1448.9 1181.6 L1449.4 1180.7 L1449.8 1179.8 L1450.3 1178.9 L1450.7 1178.1 L1451.2 1177.4 L1451.6 1176.6 L1452.1 1175.9 L1452.6 1175.2 L1453 1174.5 L1453.5 1173.9 L1453.9 1173.2 L1454.4 1172.6 L1454.8 1172.1 L1455.3 1171.6 L1455.7 1171.1 L1456.2 1170.7 L1456.7 1170.3 L1457.1 1169.9 L1457.6 1169.5 L1458 1169.2 L1458.5 1168.8 L1458.9 1168.5 L1459.4 1168.2 L1459.8 1167.9 L1460.3 1167.6 L1460.8 1167.3 L1461.2 1167 L1461.7 1166.8 L1462.1 1166.5 L1462.6 1166.3 L1463 1166.1 L1463.5 1165.9 L1464 1165.7 L1464.4 1165.6 L1464.9 1165.5 L1465.3 1165.4 L1465.8 1165.3 L1466.2 1165.2 L1466.7 1165.1 L1467.1 1165 L1467.6 1165 L1468.1 1164.9 L1468.5 1164.8 L1469 1164.8 L1469.4 1164.7 L1469.9 1164.6 L1470.3 1164.6 L1470.8 1164.5 L1471.2 1164.5 L1471.7 1164.4 L1472.2 1164.4 L1472.6 1164.3 L1473.1 1164.3 L1473.5 1164.3 L1474 1164.2 L1474.4 1164.2 L1474.9 1164.2 L1475.4 1164.2 L1475.8 1164.2 L1476.3 1164.2 L1476.7 1164.1 L1477.2 1164.2 L1477.6 1164.2 L1478.1 1164.2 L1478.5 1164.2 L1479 1164.2 L1479.5 1164.2 L1479.9 1164.2 L1480.4 1164.2 L1480.8 1164.2 L1481.3 1164.2 L1481.7 1164.3 L1482.2 1164.3 L1482.6 1164.3 L1483.1 1164.3 L1483.6 1164.4 L1484 1164.4 L1484.5 1164.4 L1484.9 1164.5 L1485.4 1164.5 L1485.8 1164.6 L1486.3 1164.6 L1486.8 1164.6 L1487.2 1164.7 L1487.7 1164.8 L1488.1 1165 L1488.6 1165.2 L1489 1165.5 L1489.5 1165.8 L1489.9 1166.2 L1490.4 1166.6 L1490.9 1167.1 L1491.3 1167.6 L1491.8 1168.3 L1492.2 1169.3 L1492.7 1170.7 L1493.1 1172.2 L1493.6 1174 L1494 1176.1 L1494.5 1179.2 L1495 1183.1 L1495.4 1187.3 L1495.9 1191.4 L1496.3 1195.8 L1496.8 1200.5 L1497.2 1205.2 L1497.7 1209.9 L1498.1 1214.5 L1498.6 1219.1 L1499.1 1223.7 L1499.5 1228.3 L1500 1232.7 L1500.4 1237.1 L1500.9 1241.5 L1501.3 1245.5 L1501.8 1248.8 L1502.3 1251.7 L1502.7 1254 L1503.2 1255.4 L1503.6 1256.4 L1504.1 1256.6 L1504.5 1255.6 L1505 1254 L1505.4 1251.8 L1505.9 1248.8 L1506.4 1244.8 L1506.8 1239.4 L1507.3 1233.8 L1507.7 1228.7 L1508.2 1223.7 L1508.6 1218.7 L1509.1 1213.9 L1509.5 1209.1 L1510 1204.2 L1510.5 1199.3 L1510.9 1194.7 L1511.4 1190.5 L1511.8 1187 L1512.3 1183.8 L1512.7 1180.8 L1513.2 1178.1 L1513.7 1175.9 L1514.1 1174.2 L1514.6 1172.5 L1515 1171.1 L1515.5 1169.7 L1515.9 1168.5 L1516.4 1167.5 L1516.8 1166.5 L1517.3 1165.8 L1517.8 1165.1 L1518.2 1164.5 L1518.7 1163.9 L1519.1 1163.3 L1519.6 1162.7 L1520 1162.2 L1520.5 1161.8 L1520.9 1161.4 L1521.4 1161 L1521.9 1160.6 L1522.3 1160.3 L1522.8 1160.1 L1523.2 1159.9 L1523.7 1159.7 L1524.1 1159.5 L1524.6 1159.3 L1525.1 1159.2 L1525.5 1159 L1526 1158.8 L1526.4 1158.7 L1526.9 1158.6 L1527.3 1158.4 L1527.8 1158.3 L1528.2 1158.2 L1528.7 1158.1 L1529.2 1158 L1529.6 1157.9 L1530.1 1157.9 L1530.5 1157.8 L1531 1157.8 L1531.4 1157.8 L1531.9 1157.8 L1532.3 1157.8 L1532.8 1157.8 L1533.3 1157.8 L1533.7 1157.8 L1534.2 1157.8 L1534.6 1157.8 L1535.1 1157.8 L1535.5 1157.8 L1536 1157.9 L1536.4 1157.9 L1536.9 1157.9 L1537.4 1158 L1537.8 1158 L1538.3 1158 L1538.7 1158.1 L1539.2 1158.1 L1539.6 1158.2 L1540.1 1158.2 L1540.6 1158.2 L1541 1158.3 L1541.5 1158.3 L1541.9 1158.4 L1542.4 1158.4 L1542.8 1158.5 L1543.3 1158.6 L1543.7 1158.7 L1544.2 1158.8 L1544.7 1158.9 L1545.1 1159 L1545.6 1159.2 L1546 1159.3 L1546.5 1159.5 L1546.9 1159.7 L1547.4 1159.9 L1547.8 1160.1 L1548.3 1160.3 L1548.8 1160.5 L1549.2 1160.7 L1549.7 1160.9 L1550.1 1161.1 L1550.6 1161.4 L1551 1161.6 L1551.5 1161.8 L1552 1162.1 L1552.4 1162.4 L1552.9 1162.7 L1553.3 1163 L1553.8 1163.3 L1554.2 1163.7 L1554.7 1164.1 L1555.1 1164.5 L1555.6 1164.9 L1556.1 1165.4 L1556.5 1165.9 L1557 1166.4 L1557.4 1167 L1557.9 1167.6 L1558.3 1168.3 L1558.8 1169.2 L1559.2 1170.2 L1559.7 1171.3 L1560.2 1172.5 L1560.6 1173.8 L1561.1 1175.2 L1561.5 1176.6 L1562 1178.1 L1562.4 1179.7 L1562.9 1181.3 L1563.4 1183.2 L1563.8 1185.2 L1564.3 1187.3 L1564.7 1189.5 L1565.2 1191.8 L1565.6 1194.2 L1566.1 1196.8 L1566.5 1199.7 L1567 1202.7 L1567.5 1205.9 L1567.9 1209.2 L1568.4 1212.5 L1568.8 1215.9 L1569.3 1219.5 L1569.7 1223.1 L1570.2 1226.9 L1570.6 1230.7 L1571.1 1234.7 L1571.6 1238.8 L1572 1243.1 L1572.5 1247.4 L1572.9 1251.8 L1573.4 1256.1 L1573.8 1260.3 L1574.3 1264.5 L1574.8 1268.6 L1575.2 1272.9 L1575.7 1277.2 L1576.1 1281.7 L1576.6 1286.4 L1577 1291.3 L1577.5 1296.3 L1577.9 1301.3 L1578.4 1306.3 L1578.9 1311.4 L1579.3 1316.6 L1579.8 1321.6 L1580.2 1326.3 L1580.7 1330.4 L1581.1 1334.4 L1581.6 1338 L1582 1341.1 L1582.5 1344.1 L1583 1347.1 L1583.4 1349.3 L1583.9 1350 L1584.3 1349.4 L1584.8 1348.1 L1585.2 1346.2 L1585.7 1344.1 L1586.1 1341.7 L1586.6 1338.5 L1587.1 1334.6 L1587.5 1330.3 L1588 1325.8 L1588.4 1321.2 L1588.9 1316.1 L1589.3 1310.7 L1589.8 1305.2 L1590.3 1299.7 L1590.7 1294.5 L1591.2 1289.3 L1591.6 1284.1 L1592.1 1278.9 L1592.5 1273.7 L1593 1268.4 L1593.4 1263.1 L1593.9 1257.7 L1594.4 1252.4 L1594.8 1247.2 L1595.3 1242.3 L1595.7 1237.4 L1596.2 1232.6 L1596.6 1228 L1597.1 1223.6 L1597.5 1219.5 L1598 1215.7 L1598.5 1211.9 L1598.9 1208.4 L1599.4 1204.9 L1599.8 1201.8 L1600.3 1198.9 L1600.7 1196.3 L1601.2 1193.9 L1601.7 1191.7 L1602.1 1189.6 L1602.6 1187.6 L1603 1185.7 L1603.5 1184 L1603.9 1182.5 L1604.4 1181.1 L1604.8 1179.8 L1605.3 1178.6 L1605.8 1177.5 L1606.2 1176.4 L1606.7 1175.4 L1607.1 1174.5 L1607.6 1173.7 L1608 1173 L1608.5 1172.4 L1608.9 1171.9 L1609.4 1171.5 L1609.9 1171 L1610.3 1170.7 L1610.8 1170.3 L1611.2 1169.9 L1611.7 1169.6 L1612.1 1169.4 L1612.6 1169.2 L1613.1 1169 L1613.5 1168.9 L1614 1168.8 L1614.4 1168.8 L1614.9 1168.9 L1615.3 1169 L1615.8 1169.2 L1616.2 1169.4 L1616.7 1169.6 L1617.2 1169.9 L1617.6 1170.3 L1618.1 1170.8 L1618.5 1171.8 L1619 1173 L1619.4 1174.5 L1619.9 1176.2 L1620.3 1178.1 L1620.8 1180.9 L1621.3 1184.5 L1621.7 1188.4 L1622.2 1192.4 L1622.6 1196.5 L1623.1 1200.9 L1623.5 1205.6 L1624 1210.3 L1624.4 1215.1 L1624.9 1219.9 L1625.4 1224.9 L1625.8 1229.9 L1626.3 1234.8 L1626.7 1239.7 L1627.2 1244.5 L1627.6 1249.4 L1628.1 1253.9 L1628.6 1257.6 L1629 1260.7 L1629.5 1263.2 L1629.9 1264.9 L1630.4 1266.1 L1630.8 1265.8 L1631.3 1264.7 L1631.7 1263.3 L1632.2 1261.3 L1632.7 1258.8 L1633.1 1255.6 L1633.6 1251.6 L1634 1247.5 L1634.5 1243 L1634.9 1238.2 L1635.4 1233.1 L1635.8 1227.8 L1636.3 1222.2 L1636.8 1216.1 L1637.2 1209.8 L1637.7 1204.1 L1638.1 1199.2 L1638.6 1194.4 L1639 1190 L1639.5 1186.1 L1640 1182.7 L1640.4 1179.9 L1640.9 1177.2 L1641.3 1174.8 L1641.8 1172.6 L1642.2 1170.8 L1642.7 1169.2 L1643.1 1168 L1643.6 1166.9 L1644.1 1166 L1644.5 1165.1 L1645 1164.2 L1645.4 1163.5 L1645.9 1162.8 L1646.3 1162.2 L1646.8 1161.7 L1647.2 1161.2 L1647.7 1160.8 L1648.2 1160.4 L1648.6 1160.1 L1649.1 1159.7 L1649.5 1159.4 L1650 1159.1 L1650.4 1158.9 L1650.9 1158.6 L1651.4 1158.4 L1651.8 1158.1 L1652.3 1157.9 L1652.7 1157.7 L1653.2 1157.5 L1653.6 1157.3 L1654.1 1157.1 L1654.5 1157 L1655 1156.8 L1655.5 1156.7 L1655.9 1156.5 L1656.4 1156.4 L1656.8 1156.3 L1657.3 1156.1 L1657.7 1156 L1658.2 1155.9 L1658.6 1155.8 L1659.1 1155.7 L1659.6 1155.6 L1660 1155.5 L1660.5 1155.4 L1660.9 1155.3 L1661.4 1155.2 L1661.8 1155.1 L1662.3 1155 L1662.8 1155 L1663.2 1154.9 L1663.7 1154.8 L1664.1 1154.8 L1664.6 1154.7 L1665 1154.6 L1665.5 1154.6 L1665.9 1154.5 L1666.4 1154.5 L1666.9 1154.5 L1667.3 1154.4 L1667.8 1154.4 L1668.2 1154.4 L1668.7 1154.3 L1669.1 1154.3 L1669.6 1154.3 L1670 1154.3 L1670.5 1154.3 L1671 1154.3 L1671.4 1154.3" fill="none" stroke="#fff" stroke-width="4.5" stroke-linejoin="round" stroke-linecap="butt" stroke-dasharray="15.4 6.9"/>
</g>
<rect x="1352.00" y="1062.00" width="320.10" height="671.20" fill="none" stroke="#000" stroke-width="4.17"/>
<line x1="1337.70" y1="1733.20" x2="1352.00" y2="1733.20" stroke="#000" stroke-width="4.17"/>
<text font-family='"Liberation Sans", sans-serif' font-size="33.4" text-anchor="end" fill="#000" transform="translate(1325.90 1745.20) scale(0.955 1)">0</text>
<line x1="1337.70" y1="1601.90" x2="1352.00" y2="1601.90" stroke="#000" stroke-width="4.17"/>
<text font-family='"Liberation Sans", sans-serif' font-size="33.4" text-anchor="end" fill="#000" transform="translate(1325.90 1613.90) scale(0.955 1)">500</text>
<line x1="1337.70" y1="1470.60" x2="1352.00" y2="1470.60" stroke="#000" stroke-width="4.17"/>
<text font-family='"Liberation Sans", sans-serif' font-size="33.4" text-anchor="end" fill="#000" transform="translate(1325.90 1482.60) scale(0.955 1)">1000</text>
<line x1="1337.70" y1="1339.30" x2="1352.00" y2="1339.30" stroke="#000" stroke-width="4.17"/>
<text font-family='"Liberation Sans", sans-serif' font-size="33.4" text-anchor="end" fill="#000" transform="translate(1325.90 1351.30) scale(0.955 1)">1500</text>
<line x1="1337.70" y1="1208.00" x2="1352.00" y2="1208.00" stroke="#000" stroke-width="4.17"/>
<text font-family='"Liberation Sans", sans-serif' font-size="33.4" text-anchor="end" fill="#000" transform="translate(1325.90 1220.00) scale(0.955 1)">2000</text>
<line x1="1337.70" y1="1076.70" x2="1352.00" y2="1076.70" stroke="#000" stroke-width="4.17"/>
<text font-family='"Liberation Sans", sans-serif' font-size="33.4" text-anchor="end" fill="#000" transform="translate(1325.90 1088.70) scale(0.955 1)">2500</text>
<line x1="1503.40" y1="1733.20" x2="1503.40" y2="1747.50" stroke="#000" stroke-width="4.17"/>
<text font-family='"Liberation Sans", sans-serif' font-size="33.4" text-anchor="middle" fill="#000" transform="translate(1503.40 1782.80) scale(0.955 1)">6302</text>
<line x1="1670.30" y1="1733.20" x2="1670.30" y2="1747.50" stroke="#000" stroke-width="4.17"/>
<text font-family='"Liberation Sans", sans-serif' font-size="33.4" text-anchor="middle" fill="#000" transform="translate(1670.30 1782.80) scale(0.955 1)">6303</text>
<line x1="1419.95" y1="1733.20" x2="1419.95" y2="1741.70" stroke="#000" stroke-width="2.6"/>
<line x1="1586.85" y1="1733.20" x2="1586.85" y2="1741.70" stroke="#000" stroke-width="2.6"/>
<text font-family='"Liberation Sans", sans-serif' font-size="45.3" text-anchor="start" fill="#fff" font-weight="bold" transform="translate(1374.50 1109.15)">f</text>
<text font-family='"Liberation Sans", sans-serif' font-size="34.6" text-anchor="middle" fill="#000" transform="translate(1233.20 1397.60) rotate(-90) scale(1.025 1)">pixel along the slit</text>
<clipPath id="cig"><rect x="1691.6" y="1062.0" width="320.30" height="671.20"/></clipPath>
<g clip-path="url(#cig)">
<rect x="1691.6" y="1062.0" width="320.30" height="671.20" filter="url(#ng)"/>
<use href="#fv" transform="translate(339.7 0)"/>
</g>
<rect x="1691.60" y="1062.00" width="320.30" height="671.20" fill="none" stroke="#000" stroke-width="4.17"/>
<line x1="1677.30" y1="1733.20" x2="1691.60" y2="1733.20" stroke="#000" stroke-width="4.17"/>
<line x1="1677.30" y1="1601.90" x2="1691.60" y2="1601.90" stroke="#000" stroke-width="4.17"/>
<line x1="1677.30" y1="1470.60" x2="1691.60" y2="1470.60" stroke="#000" stroke-width="4.17"/>
<line x1="1677.30" y1="1339.30" x2="1691.60" y2="1339.30" stroke="#000" stroke-width="4.17"/>
<line x1="1677.30" y1="1208.00" x2="1691.60" y2="1208.00" stroke="#000" stroke-width="4.17"/>
<line x1="1677.30" y1="1076.70" x2="1691.60" y2="1076.70" stroke="#000" stroke-width="4.17"/>
<line x1="1843.10" y1="1733.20" x2="1843.10" y2="1747.50" stroke="#000" stroke-width="4.17"/>
<text font-family='"Liberation Sans", sans-serif' font-size="33.4" text-anchor="middle" fill="#000" transform="translate(1843.10 1782.80) scale(0.955 1)">6302</text>
<line x1="2010.00" y1="1733.20" x2="2010.00" y2="1747.50" stroke="#000" stroke-width="4.17"/>
<text font-family='"Liberation Sans", sans-serif' font-size="33.4" text-anchor="middle" fill="#000" transform="translate(2010.00 1782.80) scale(0.955 1)">6303</text>
<line x1="1759.65" y1="1733.20" x2="1759.65" y2="1741.70" stroke="#000" stroke-width="2.6"/>
<line x1="1926.55" y1="1733.20" x2="1926.55" y2="1741.70" stroke="#000" stroke-width="2.6"/>
<text font-family='"Liberation Sans", sans-serif' font-size="45.3" text-anchor="start" fill="#fff" font-weight="bold" transform="translate(1704.50 1109.15)">g</text>
<text x="1511.45" y="1838.70" font-family='"DejaVu Sans", sans-serif' font-size="36.6" text-anchor="middle" letter-spacing="-0.4"><tspan font-style="oblique">λ</tspan> [<tspan font-style="oblique">A</tspan>]</text>
<text x="1528.35" y="1810.60" font-family='"DejaVu Sans", sans-serif' font-size="17" font-weight="bold" text-anchor="start">∘</text>
<text x="1851.15" y="1838.70" font-family='"DejaVu Sans", sans-serif' font-size="36.6" text-anchor="middle" letter-spacing="-0.4"><tspan font-style="oblique">λ</tspan> [<tspan font-style="oblique">A</tspan>]</text>
<text x="1868.05" y="1810.60" font-family='"DejaVu Sans", sans-serif' font-size="17" font-weight="bold" text-anchor="start">∘</text>
</svg>
</body></html>
